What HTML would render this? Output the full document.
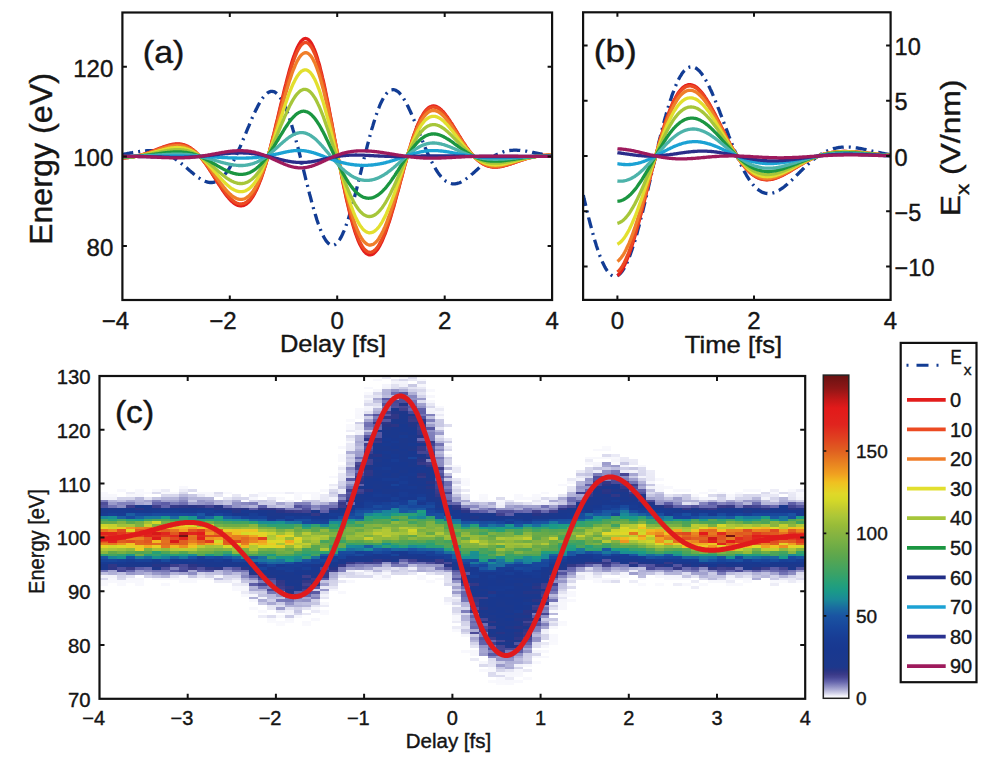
<!DOCTYPE html>
<html><head><meta charset="utf-8"><style>
html,body{margin:0;padding:0;background:#fff;}
svg{display:block;font-family:"Liberation Sans",sans-serif;}
</style></head><body>
<svg width="1004" height="760" viewBox="0 0 1004 760">
<rect width="1004" height="760" fill="#fff"/>
<clipPath id="ca"><rect x="122.4" y="12.5" width="429.7" height="287.5"/></clipPath>
<g clip-path="url(#ca)" fill="none" stroke-width="3.3" stroke-linejoin="round">
<path d="M122.4 154.4L123.1 154.3L123.8 154.2L124.6 154.0L125.3 153.9L126.0 153.8L126.7 153.7L127.4 153.5L128.1 153.4L128.9 153.3L129.6 153.1L130.3 153.0L131.0 152.9L131.7 152.8L132.5 152.6L133.2 152.5L133.9 152.4L134.6 152.3L135.3 152.1L136.0 152.0L136.8 151.9L137.5 151.8L138.2 151.7L138.9 151.6L139.6 151.5L140.3 151.4L141.1 151.3L141.8 151.2L142.5 151.1L143.2 151.0L143.9 151.0L144.6 150.9L145.4 150.8L146.1 150.8L146.8 150.7L147.5 150.7L148.2 150.7L149.0 150.7L149.7 150.7L150.4 150.7L151.1 150.7L151.8 150.7L152.5 150.7L153.3 150.8L154.0 150.8L154.7 150.9L155.4 151.0L156.1 151.1L156.8 151.2L157.6 151.3L158.3 151.4L159.0 151.6L159.7 151.7L160.4 151.9L161.1 152.1L161.9 152.3L162.6 152.5L163.3 152.8L164.0 153.0L164.7 153.3L165.4 153.6L166.2 153.9L166.9 154.2L167.6 154.5L168.3 154.8L169.0 155.2L169.8 155.6L170.5 156.0L171.2 156.4L171.9 156.8L172.6 157.2L173.3 157.6L174.1 158.1L174.8 158.6L175.5 159.1L176.2 159.6L176.9 160.1L177.6 160.6L178.4 161.1L179.1 161.7L179.8 162.2L180.5 162.8L181.2 163.4L181.9 163.9L182.7 164.5L183.4 165.1L184.1 165.7L184.8 166.3L185.5 167.0L186.3 167.6L187.0 168.2L187.7 168.8L188.4 169.4L189.1 170.1L189.8 170.7L190.6 171.3L191.3 171.9L192.0 172.5L192.7 173.1L193.4 173.7L194.1 174.3L194.9 174.9L195.6 175.4L196.3 176.0L197.0 176.5L197.7 177.1L198.4 177.6L199.2 178.1L199.9 178.5L200.6 179.0L201.3 179.4L202.0 179.8L202.8 180.2L203.5 180.6L204.2 180.9L204.9 181.2L205.6 181.5L206.3 181.7L207.1 182.0L207.8 182.1L208.5 182.3L209.2 182.4L209.9 182.5L210.6 182.5L211.4 182.5L212.1 182.5L212.8 182.4L213.5 182.3L214.2 182.1L214.9 181.9L215.7 181.7L216.4 181.4L217.1 181.1L217.8 180.7L218.5 180.3L219.2 179.8L220.0 179.3L220.7 178.7L221.4 178.1L222.1 177.4L222.8 176.7L223.6 176.0L224.3 175.2L225.0 174.3L225.7 173.4L226.4 172.5L227.1 171.5L227.9 170.5L228.6 169.4L229.3 168.3L230.0 167.1L230.7 165.9L231.4 164.7L232.2 163.4L232.9 162.0L233.6 160.7L234.3 159.3L235.0 157.8L235.7 156.4L236.5 154.9L237.2 153.3L237.9 151.8L238.6 150.2L239.3 148.6L240.1 146.9L240.8 145.3L241.5 143.6L242.2 141.9L242.9 140.2L243.6 138.5L244.4 136.8L245.1 135.0L245.8 133.3L246.5 131.5L247.2 129.8L247.9 128.1L248.7 126.3L249.4 124.6L250.1 122.9L250.8 121.2L251.5 119.6L252.2 117.9L253.0 116.3L253.7 114.7L254.4 113.1L255.1 111.6L255.8 110.1L256.6 108.6L257.3 107.2L258.0 105.8L258.7 104.5L259.4 103.2L260.1 102.0L260.9 100.8L261.6 99.7L262.3 98.6L263.0 97.6L263.7 96.7L264.4 95.8L265.2 95.0L265.9 94.3L266.6 93.7L267.3 93.1L268.0 92.6L268.7 92.2L269.5 91.9L270.2 91.6L270.9 91.4L271.6 91.4L272.3 91.4L273.0 91.5L273.8 91.7L274.5 91.9L275.2 92.3L275.9 92.8L276.6 93.3L277.4 93.9L278.1 94.7L278.8 95.5L279.5 96.4L280.2 97.4L280.9 98.5L281.7 99.7L282.4 101.0L283.1 102.4L283.8 103.8L284.5 105.4L285.2 107.0L286.0 108.7L286.7 110.5L287.4 112.4L288.1 114.4L288.8 116.4L289.5 118.5L290.3 120.7L291.0 122.9L291.7 125.2L292.4 127.6L293.1 130.0L293.9 132.5L294.6 135.0L295.3 137.6L296.0 140.3L296.7 143.0L297.4 145.7L298.2 148.4L298.9 151.2L299.6 154.0L300.3 156.9L301.0 159.7L301.7 162.6L302.5 165.5L303.2 168.4L303.9 171.3L304.6 174.2L305.3 177.1L306.0 180.0L306.8 182.9L307.5 185.7L308.2 188.6L308.9 191.4L309.6 194.2L310.4 196.9L311.1 199.6L311.8 202.3L312.5 204.9L313.2 207.4L313.9 210.0L314.7 212.4L315.4 214.8L316.1 217.1L316.8 219.4L317.5 221.5L318.2 223.6L319.0 225.6L319.7 227.6L320.4 229.4L321.1 231.2L321.8 232.9L322.5 234.4L323.3 235.9L324.0 237.3L324.7 238.5L325.4 239.7L326.1 240.8L326.8 241.7L327.6 242.5L328.3 243.3L329.0 243.9L329.7 244.4L330.4 244.8L331.2 245.0L331.9 245.2L332.6 245.3L333.3 245.2L334.0 245.0L334.7 244.7L335.5 244.3L336.2 243.7L336.9 243.1L337.6 242.3L338.3 241.5L339.0 240.5L339.8 239.4L340.5 238.2L341.2 236.9L341.9 235.5L342.6 234.0L343.3 232.4L344.1 230.7L344.8 228.9L345.5 227.1L346.2 225.1L346.9 223.0L347.7 220.9L348.4 218.7L349.1 216.4L349.8 214.1L350.5 211.7L351.2 209.2L352.0 206.6L352.7 204.0L353.4 201.4L354.1 198.7L354.8 196.0L355.5 193.2L356.3 190.4L357.0 187.5L357.7 184.7L358.4 181.8L359.1 178.9L359.8 175.9L360.6 173.0L361.3 170.1L362.0 167.2L362.7 164.2L363.4 161.3L364.1 158.4L364.9 155.5L365.6 152.6L366.3 149.8L367.0 147.0L367.7 144.2L368.5 141.4L369.2 138.7L369.9 136.1L370.6 133.5L371.3 130.9L372.0 128.4L372.8 125.9L373.5 123.5L374.2 121.2L374.9 119.0L375.6 116.8L376.3 114.7L377.1 112.6L377.8 110.6L378.5 108.8L379.2 107.0L379.9 105.2L380.6 103.6L381.4 102.0L382.1 100.6L382.8 99.2L383.5 97.9L384.2 96.7L385.0 95.6L385.7 94.6L386.4 93.7L387.1 92.9L387.8 92.2L388.5 91.5L389.3 91.0L390.0 90.6L390.7 90.2L391.4 89.9L392.1 89.8L392.8 89.7L393.6 89.7L394.3 89.8L395.0 90.0L395.7 90.3L396.4 90.7L397.1 91.1L397.9 91.6L398.6 92.2L399.3 92.9L400.0 93.7L400.7 94.5L401.5 95.4L402.2 96.4L402.9 97.4L403.6 98.5L404.3 99.7L405.0 100.9L405.8 102.2L406.5 103.5L407.2 104.9L407.9 106.3L408.6 107.8L409.3 109.3L410.1 110.9L410.8 112.5L411.5 114.1L412.2 115.7L412.9 117.4L413.6 119.1L414.4 120.9L415.1 122.6L415.8 124.4L416.5 126.1L417.2 127.9L417.9 129.7L418.7 131.5L419.4 133.3L420.1 135.1L420.8 136.9L421.5 138.7L422.3 140.4L423.0 142.2L423.7 143.9L424.4 145.7L425.1 147.4L425.8 149.1L426.6 150.7L427.3 152.4L428.0 154.0L428.7 155.5L429.4 157.1L430.1 158.6L430.9 160.1L431.6 161.5L432.3 162.9L433.0 164.3L433.7 165.6L434.4 166.9L435.2 168.2L435.9 169.4L436.6 170.5L437.3 171.6L438.0 172.7L438.8 173.7L439.5 174.7L440.2 175.6L440.9 176.5L441.6 177.3L442.3 178.0L443.1 178.8L443.8 179.4L444.5 180.1L445.2 180.6L445.9 181.2L446.6 181.6L447.4 182.1L448.1 182.5L448.8 182.8L449.5 183.1L450.2 183.3L450.9 183.5L451.7 183.7L452.4 183.8L453.1 183.9L453.8 183.9L454.5 183.9L455.3 183.8L456.0 183.7L456.7 183.6L457.4 183.4L458.1 183.2L458.8 183.0L459.6 182.7L460.3 182.4L461.0 182.1L461.7 181.7L462.4 181.3L463.1 180.9L463.9 180.5L464.6 180.0L465.3 179.6L466.0 179.0L466.7 178.5L467.4 178.0L468.2 177.4L468.9 176.9L469.6 176.3L470.3 175.7L471.0 175.1L471.7 174.4L472.5 173.8L473.2 173.2L473.9 172.5L474.6 171.9L475.3 171.2L476.1 170.6L476.8 169.9L477.5 169.3L478.2 168.6L478.9 168.0L479.6 167.3L480.4 166.7L481.1 166.0L481.8 165.4L482.5 164.8L483.2 164.1L483.9 163.5L484.7 162.9L485.4 162.3L486.1 161.7L486.8 161.2L487.5 160.6L488.2 160.1L489.0 159.5L489.7 159.0L490.4 158.5L491.1 158.0L491.8 157.5L492.6 157.0L493.3 156.6L494.0 156.1L494.7 155.7L495.4 155.3L496.1 154.9L496.9 154.6L497.6 154.2L498.3 153.9L499.0 153.5L499.7 153.2L500.4 152.9L501.2 152.6L501.9 152.4L502.6 152.1L503.3 151.9L504.0 151.7L504.7 151.5L505.5 151.3L506.2 151.2L506.9 151.0L507.6 150.9L508.3 150.7L509.1 150.6L509.8 150.5L510.5 150.4L511.2 150.4L511.9 150.3L512.6 150.3L513.4 150.2L514.1 150.2L514.8 150.2L515.5 150.2L516.2 150.2L516.9 150.2L517.7 150.3L518.4 150.3L519.1 150.4L519.8 150.4L520.5 150.5L521.2 150.5L522.0 150.6L522.7 150.7L523.4 150.8L524.1 150.9L524.8 151.0L525.5 151.1L526.3 151.2L527.0 151.3L527.7 151.5L528.4 151.6L529.1 151.7L529.9 151.8L530.6 152.0L531.3 152.1L532.0 152.2L532.7 152.4L533.4 152.5L534.2 152.6L534.9 152.8L535.6 152.9L536.3 153.1L537.0 153.2L537.7 153.3L538.5 153.5L539.2 153.6L539.9 153.8L540.6 153.9L541.3 154.0L542.0 154.2L542.8 154.3L543.5 154.4L544.2 154.5L544.9 154.7L545.6 154.8L546.4 154.9L547.1 155.0L547.8 155.1L548.5 155.2L549.2 155.3L549.9 155.5L550.7 155.6L551.4 155.7L552.1 155.7" stroke="#123c94" stroke-width="3.3" stroke-dasharray="11 5 2 5"/>
<path d="M122.4 157.9L123.1 157.9L123.8 157.9L124.6 157.8L125.3 157.8L126.0 157.7L126.7 157.6L127.4 157.6L128.1 157.5L128.9 157.4L129.6 157.3L130.3 157.2L131.0 157.1L131.7 157.0L132.5 156.9L133.2 156.8L133.9 156.7L134.6 156.5L135.3 156.4L136.0 156.2L136.8 156.1L137.5 155.9L138.2 155.8L138.9 155.6L139.6 155.4L140.3 155.2L141.1 155.0L141.8 154.8L142.5 154.6L143.2 154.4L143.9 154.2L144.6 154.0L145.4 153.7L146.1 153.5L146.8 153.2L147.5 153.0L148.2 152.7L149.0 152.5L149.7 152.2L150.4 152.0L151.1 151.7L151.8 151.4L152.5 151.1L153.3 150.9L154.0 150.6L154.7 150.3L155.4 150.0L156.1 149.7L156.8 149.4L157.6 149.2L158.3 148.9L159.0 148.6L159.7 148.3L160.4 148.0L161.1 147.8L161.9 147.5L162.6 147.2L163.3 147.0L164.0 146.7L164.7 146.5L165.4 146.2L166.2 146.0L166.9 145.8L167.6 145.5L168.3 145.3L169.0 145.1L169.8 145.0L170.5 144.8L171.2 144.6L171.9 144.5L172.6 144.4L173.3 144.2L174.1 144.1L174.8 144.1L175.5 144.0L176.2 144.0L176.9 143.9L177.6 143.9L178.4 143.9L179.1 144.0L179.8 144.0L180.5 144.1L181.2 144.2L181.9 144.4L182.7 144.5L183.4 144.7L184.1 144.9L184.8 145.1L185.5 145.4L186.3 145.7L187.0 146.0L187.7 146.3L188.4 146.7L189.1 147.1L189.8 147.5L190.6 148.0L191.3 148.5L192.0 149.0L192.7 149.5L193.4 150.1L194.1 150.7L194.9 151.3L195.6 152.0L196.3 152.7L197.0 153.4L197.7 154.1L198.4 154.9L199.2 155.7L199.9 156.5L200.6 157.3L201.3 158.2L202.0 159.1L202.8 160.0L203.5 161.0L204.2 161.9L204.9 162.9L205.6 163.9L206.3 164.9L207.1 166.0L207.8 167.0L208.5 168.1L209.2 169.2L209.9 170.3L210.6 171.4L211.4 172.5L212.1 173.6L212.8 174.8L213.5 175.9L214.2 177.1L214.9 178.2L215.7 179.4L216.4 180.5L217.1 181.6L217.8 182.8L218.5 183.9L219.2 185.0L220.0 186.1L220.7 187.2L221.4 188.3L222.1 189.4L222.8 190.5L223.6 191.5L224.3 192.5L225.0 193.5L225.7 194.5L226.4 195.4L227.1 196.3L227.9 197.2L228.6 198.0L229.3 198.9L230.0 199.6L230.7 200.4L231.4 201.1L232.2 201.7L232.9 202.4L233.6 202.9L234.3 203.5L235.0 203.9L235.7 204.4L236.5 204.7L237.2 205.1L237.9 205.3L238.6 205.6L239.3 205.7L240.1 205.8L240.8 205.9L241.5 205.8L242.2 205.7L242.9 205.6L243.6 205.4L244.4 205.1L245.1 204.8L245.8 204.4L246.5 203.9L247.2 203.3L247.9 202.7L248.7 202.0L249.4 201.3L250.1 200.4L250.8 199.5L251.5 198.5L252.2 197.5L253.0 196.3L253.7 195.1L254.4 193.9L255.1 192.5L255.8 191.1L256.6 189.6L257.3 188.0L258.0 186.4L258.7 184.7L259.4 182.9L260.1 181.0L260.9 179.1L261.6 177.1L262.3 175.0L263.0 172.9L263.7 170.7L264.4 168.4L265.2 166.1L265.9 163.7L266.6 161.3L267.3 158.8L268.0 156.2L268.7 153.6L269.5 151.0L270.2 148.3L270.9 145.5L271.6 142.7L272.3 139.9L273.0 137.0L273.8 134.1L274.5 131.2L275.2 128.2L275.9 125.2L276.6 122.2L277.4 119.2L278.1 116.2L278.8 113.2L279.5 110.1L280.2 107.1L280.9 104.1L281.7 101.1L282.4 98.1L283.1 95.1L283.8 92.2L284.5 89.2L285.2 86.4L286.0 83.5L286.7 80.7L287.4 78.0L288.1 75.3L288.8 72.6L289.5 70.1L290.3 67.5L291.0 65.1L291.7 62.8L292.4 60.5L293.1 58.3L293.9 56.2L294.6 54.2L295.3 52.3L296.0 50.6L296.7 48.9L297.4 47.3L298.2 45.9L298.9 44.6L299.6 43.4L300.3 42.3L301.0 41.3L301.7 40.5L302.5 39.9L303.2 39.3L303.9 38.9L304.6 38.7L305.3 38.5L306.0 38.6L306.8 38.8L307.5 39.1L308.2 39.5L308.9 40.1L309.6 40.9L310.4 41.8L311.1 42.9L311.8 44.0L312.5 45.4L313.2 46.8L313.9 48.5L314.7 50.2L315.4 52.1L316.1 54.1L316.8 56.2L317.5 58.5L318.2 60.9L319.0 63.4L319.7 66.0L320.4 68.8L321.1 71.6L321.8 74.5L322.5 77.6L323.3 80.7L324.0 83.9L324.7 87.2L325.4 90.6L326.1 94.1L326.8 97.6L327.6 101.2L328.3 104.8L329.0 108.5L329.7 112.2L330.4 116.0L331.2 119.8L331.9 123.6L332.6 127.5L333.3 131.3L334.0 135.2L334.7 139.1L335.5 143.0L336.2 146.9L336.9 150.7L337.6 154.6L338.3 158.4L339.0 162.2L339.8 166.0L340.5 169.7L341.2 173.4L341.9 177.1L342.6 180.7L343.3 184.3L344.1 187.8L344.8 191.2L345.5 194.6L346.2 197.9L346.9 201.1L347.7 204.3L348.4 207.3L349.1 210.3L349.8 213.3L350.5 216.1L351.2 218.8L352.0 221.5L352.7 224.1L353.4 226.5L354.1 228.9L354.8 231.2L355.5 233.3L356.3 235.4L357.0 237.4L357.7 239.3L358.4 241.0L359.1 242.7L359.8 244.2L360.6 245.7L361.3 247.0L362.0 248.3L362.7 249.4L363.4 250.4L364.1 251.3L364.9 252.2L365.6 252.9L366.3 253.5L367.0 253.9L367.7 254.3L368.5 254.6L369.2 254.8L369.9 254.8L370.6 254.8L371.3 254.7L372.0 254.4L372.8 254.1L373.5 253.7L374.2 253.1L374.9 252.5L375.6 251.7L376.3 250.9L377.1 250.0L377.8 249.0L378.5 247.9L379.2 246.7L379.9 245.4L380.6 244.0L381.4 242.5L382.1 241.0L382.8 239.4L383.5 237.7L384.2 235.9L385.0 234.1L385.7 232.2L386.4 230.2L387.1 228.1L387.8 226.0L388.5 223.8L389.3 221.6L390.0 219.3L390.7 217.0L391.4 214.6L392.1 212.1L392.8 209.7L393.6 207.2L394.3 204.6L395.0 202.0L395.7 199.4L396.4 196.8L397.1 194.1L397.9 191.5L398.6 188.8L399.3 186.1L400.0 183.4L400.7 180.7L401.5 178.0L402.2 175.3L402.9 172.6L403.6 169.9L404.3 167.3L405.0 164.6L405.8 162.0L406.5 159.4L407.2 156.9L407.9 154.3L408.6 151.9L409.3 149.4L410.1 147.0L410.8 144.7L411.5 142.3L412.2 140.1L412.9 137.9L413.6 135.8L414.4 133.7L415.1 131.7L415.8 129.7L416.5 127.9L417.2 126.0L417.9 124.3L418.7 122.6L419.4 121.1L420.1 119.5L420.8 118.1L421.5 116.8L422.3 115.5L423.0 114.3L423.7 113.2L424.4 112.1L425.1 111.2L425.8 110.3L426.6 109.5L427.3 108.8L428.0 108.2L428.7 107.6L429.4 107.2L430.1 106.8L430.9 106.5L431.6 106.2L432.3 106.1L433.0 106.0L433.7 106.0L434.4 106.0L435.2 106.2L435.9 106.4L436.6 106.6L437.3 107.0L438.0 107.4L438.8 107.8L439.5 108.3L440.2 108.9L440.9 109.5L441.6 110.2L442.3 110.9L443.1 111.6L443.8 112.4L444.5 113.3L445.2 114.2L445.9 115.1L446.6 116.1L447.4 117.0L448.1 118.1L448.8 119.1L449.5 120.2L450.2 121.3L450.9 122.4L451.7 123.5L452.4 124.6L453.1 125.8L453.8 127.0L454.5 128.1L455.3 129.3L456.0 130.5L456.7 131.7L457.4 132.9L458.1 134.0L458.8 135.2L459.6 136.4L460.3 137.5L461.0 138.7L461.7 139.8L462.4 141.0L463.1 142.1L463.9 143.2L464.6 144.3L465.3 145.3L466.0 146.4L466.7 147.4L467.4 148.4L468.2 149.4L468.9 150.4L469.6 151.3L470.3 152.2L471.0 153.1L471.7 154.0L472.5 154.8L473.2 155.6L473.9 156.4L474.6 157.2L475.3 157.9L476.1 158.6L476.8 159.3L477.5 159.9L478.2 160.5L478.9 161.1L479.6 161.7L480.4 162.2L481.1 162.7L481.8 163.2L482.5 163.6L483.2 164.0L483.9 164.4L484.7 164.7L485.4 165.1L486.1 165.4L486.8 165.7L487.5 165.9L488.2 166.1L489.0 166.3L489.7 166.5L490.4 166.7L491.1 166.8L491.8 166.9L492.6 167.0L493.3 167.0L494.0 167.1L494.7 167.1L495.4 167.1L496.1 167.1L496.9 167.1L497.6 167.0L498.3 166.9L499.0 166.9L499.7 166.8L500.4 166.7L501.2 166.5L501.9 166.4L502.6 166.2L503.3 166.1L504.0 165.9L504.7 165.7L505.5 165.5L506.2 165.3L506.9 165.1L507.6 164.9L508.3 164.7L509.1 164.5L509.8 164.2L510.5 164.0L511.2 163.8L511.9 163.5L512.6 163.3L513.4 163.0L514.1 162.8L514.8 162.5L515.5 162.3L516.2 162.0L516.9 161.8L517.7 161.5L518.4 161.3L519.1 161.0L519.8 160.8L520.5 160.5L521.2 160.3L522.0 160.0L522.7 159.8L523.4 159.6L524.1 159.4L524.8 159.1L525.5 158.9L526.3 158.7L527.0 158.5L527.7 158.3L528.4 158.1L529.1 157.9L529.9 157.7L530.6 157.6L531.3 157.4L532.0 157.2L532.7 157.1L533.4 156.9L534.2 156.8L534.9 156.6L535.6 156.5L536.3 156.4L537.0 156.3L537.7 156.2L538.5 156.0L539.2 155.9L539.9 155.8L540.6 155.8L541.3 155.7L542.0 155.6L542.8 155.5L543.5 155.5L544.2 155.4L544.9 155.3L545.6 155.3L546.4 155.2L547.1 155.2L547.8 155.2L548.5 155.1L549.2 155.1L549.9 155.1L550.7 155.1L551.4 155.1L552.1 155.0" stroke="#e31d1c"/>
<path d="M122.4 157.9L123.1 157.8L123.8 157.8L124.6 157.8L125.3 157.7L126.0 157.7L126.7 157.6L127.4 157.5L128.1 157.5L128.9 157.4L129.6 157.3L130.3 157.2L131.0 157.1L131.7 157.0L132.5 156.9L133.2 156.8L133.9 156.7L134.6 156.5L135.3 156.4L136.0 156.3L136.8 156.1L137.5 155.9L138.2 155.8L138.9 155.6L139.6 155.4L140.3 155.3L141.1 155.1L141.8 154.9L142.5 154.7L143.2 154.5L143.9 154.3L144.6 154.0L145.4 153.8L146.1 153.6L146.8 153.4L147.5 153.1L148.2 152.9L149.0 152.6L149.7 152.4L150.4 152.1L151.1 151.9L151.8 151.6L152.5 151.3L153.3 151.1L154.0 150.8L154.7 150.5L155.4 150.3L156.1 150.0L156.8 149.7L157.6 149.4L158.3 149.2L159.0 148.9L159.7 148.6L160.4 148.4L161.1 148.1L161.9 147.8L162.6 147.6L163.3 147.3L164.0 147.1L164.7 146.8L165.4 146.6L166.2 146.4L166.9 146.2L167.6 146.0L168.3 145.8L169.0 145.6L169.8 145.4L170.5 145.2L171.2 145.1L171.9 144.9L172.6 144.8L173.3 144.7L174.1 144.6L174.8 144.5L175.5 144.5L176.2 144.4L176.9 144.4L177.6 144.4L178.4 144.4L179.1 144.5L179.8 144.5L180.5 144.6L181.2 144.7L181.9 144.8L182.7 145.0L183.4 145.2L184.1 145.4L184.8 145.6L185.5 145.8L186.3 146.1L187.0 146.4L187.7 146.7L188.4 147.1L189.1 147.5L189.8 147.9L190.6 148.3L191.3 148.8L192.0 149.3L192.7 149.8L193.4 150.3L194.1 150.9L194.9 151.5L195.6 152.1L196.3 152.8L197.0 153.5L197.7 154.2L198.4 154.9L199.2 155.7L199.9 156.5L200.6 157.3L201.3 158.1L202.0 159.0L202.8 159.9L203.5 160.8L204.2 161.7L204.9 162.7L205.6 163.6L206.3 164.6L207.1 165.6L207.8 166.6L208.5 167.6L209.2 168.7L209.9 169.7L210.6 170.8L211.4 171.9L212.1 173.0L212.8 174.1L213.5 175.2L214.2 176.3L214.9 177.4L215.7 178.5L216.4 179.6L217.1 180.7L217.8 181.8L218.5 182.8L219.2 183.9L220.0 185.0L220.7 186.1L221.4 187.1L222.1 188.1L222.8 189.1L223.6 190.1L224.3 191.1L225.0 192.1L225.7 193.0L226.4 193.9L227.1 194.8L227.9 195.6L228.6 196.4L229.3 197.2L230.0 198.0L230.7 198.7L231.4 199.4L232.2 200.0L232.9 200.6L233.6 201.1L234.3 201.7L235.0 202.1L235.7 202.5L236.5 202.9L237.2 203.2L237.9 203.5L238.6 203.7L239.3 203.8L240.1 203.9L240.8 204.0L241.5 203.9L242.2 203.9L242.9 203.7L243.6 203.5L244.4 203.3L245.1 202.9L245.8 202.5L246.5 202.1L247.2 201.5L247.9 200.9L248.7 200.3L249.4 199.6L250.1 198.8L250.8 197.9L251.5 196.9L252.2 195.9L253.0 194.8L253.7 193.7L254.4 192.5L255.1 191.2L255.8 189.8L256.6 188.4L257.3 186.8L258.0 185.3L258.7 183.6L259.4 181.9L260.1 180.1L260.9 178.2L261.6 176.3L262.3 174.3L263.0 172.3L263.7 170.2L264.4 168.0L265.2 165.8L265.9 163.5L266.6 161.1L267.3 158.7L268.0 156.2L268.7 153.7L269.5 151.2L270.2 148.6L270.9 145.9L271.6 143.2L272.3 140.5L273.0 137.7L273.8 134.9L274.5 132.1L275.2 129.3L275.9 126.4L276.6 123.5L277.4 120.6L278.1 117.7L278.8 114.8L279.5 111.8L280.2 108.9L280.9 106.0L281.7 103.1L282.4 100.2L283.1 97.3L283.8 94.5L284.5 91.7L285.2 88.9L286.0 86.1L286.7 83.4L287.4 80.8L288.1 78.2L288.8 75.6L289.5 73.1L290.3 70.7L291.0 68.4L291.7 66.1L292.4 63.9L293.1 61.8L293.9 59.8L294.6 57.8L295.3 56.0L296.0 54.3L296.7 52.7L297.4 51.1L298.2 49.7L298.9 48.5L299.6 47.3L300.3 46.2L301.0 45.3L301.7 44.5L302.5 43.9L303.2 43.3L303.9 42.9L304.6 42.7L305.3 42.6L306.0 42.6L306.8 42.7L307.5 43.0L308.2 43.5L308.9 44.1L309.6 44.8L310.4 45.7L311.1 46.7L311.8 47.8L312.5 49.1L313.2 50.5L313.9 52.0L314.7 53.7L315.4 55.5L316.1 57.5L316.8 59.5L317.5 61.7L318.2 64.0L319.0 66.4L319.7 69.0L320.4 71.6L321.1 74.3L321.8 77.2L322.5 80.1L323.3 83.1L324.0 86.2L324.7 89.4L325.4 92.7L326.1 96.0L326.8 99.4L327.6 102.9L328.3 106.4L329.0 110.0L329.7 113.6L330.4 117.2L331.2 120.9L331.9 124.6L332.6 128.3L333.3 132.1L334.0 135.9L334.7 139.6L335.5 143.4L336.2 147.1L336.9 150.9L337.6 154.6L338.3 158.4L339.0 162.0L339.8 165.7L340.5 169.3L341.2 172.9L341.9 176.5L342.6 180.0L343.3 183.4L344.1 186.8L344.8 190.2L345.5 193.5L346.2 196.7L346.9 199.8L347.7 202.9L348.4 205.9L349.1 208.8L349.8 211.7L350.5 214.4L351.2 217.1L352.0 219.7L352.7 222.2L353.4 224.6L354.1 226.9L354.8 229.1L355.5 231.2L356.3 233.2L357.0 235.2L357.7 237.0L358.4 238.7L359.1 240.3L359.8 241.9L360.6 243.3L361.3 244.6L362.0 245.8L362.7 246.9L363.4 247.9L364.1 248.8L364.9 249.6L365.6 250.3L366.3 250.9L367.0 251.4L367.7 251.8L368.5 252.1L369.2 252.2L369.9 252.3L370.6 252.3L371.3 252.2L372.0 251.9L372.8 251.6L373.5 251.2L374.2 250.7L374.9 250.0L375.6 249.3L376.3 248.5L377.1 247.6L377.8 246.7L378.5 245.6L379.2 244.4L379.9 243.2L380.6 241.8L381.4 240.4L382.1 238.9L382.8 237.4L383.5 235.7L384.2 234.0L385.0 232.2L385.7 230.3L386.4 228.4L387.1 226.4L387.8 224.3L388.5 222.2L389.3 220.0L390.0 217.8L390.7 215.5L391.4 213.2L392.1 210.8L392.8 208.4L393.6 206.0L394.3 203.5L395.0 201.0L395.7 198.4L396.4 195.8L397.1 193.3L397.9 190.6L398.6 188.0L399.3 185.4L400.0 182.8L400.7 180.1L401.5 177.5L402.2 174.8L402.9 172.2L403.6 169.6L404.3 167.0L405.0 164.4L405.8 161.9L406.5 159.3L407.2 156.9L407.9 154.4L408.6 152.0L409.3 149.6L410.1 147.2L410.8 144.9L411.5 142.7L412.2 140.5L412.9 138.3L413.6 136.2L414.4 134.2L415.1 132.2L415.8 130.3L416.5 128.5L417.2 126.7L417.9 125.0L418.7 123.4L419.4 121.8L420.1 120.4L420.8 119.0L421.5 117.6L422.3 116.4L423.0 115.2L423.7 114.1L424.4 113.1L425.1 112.2L425.8 111.3L426.6 110.6L427.3 109.9L428.0 109.3L428.7 108.7L429.4 108.3L430.1 107.9L430.9 107.6L431.6 107.3L432.3 107.2L433.0 107.1L433.7 107.1L434.4 107.1L435.2 107.3L435.9 107.5L436.6 107.7L437.3 108.0L438.0 108.4L438.8 108.9L439.5 109.4L440.2 109.9L440.9 110.5L441.6 111.2L442.3 111.9L443.1 112.6L443.8 113.4L444.5 114.2L445.2 115.1L445.9 116.0L446.6 116.9L447.4 117.9L448.1 118.9L448.8 119.9L449.5 121.0L450.2 122.0L450.9 123.1L451.7 124.2L452.4 125.3L453.1 126.4L453.8 127.6L454.5 128.7L455.3 129.9L456.0 131.0L456.7 132.2L457.4 133.4L458.1 134.5L458.8 135.7L459.6 136.8L460.3 137.9L461.0 139.1L461.7 140.2L462.4 141.3L463.1 142.4L463.9 143.5L464.6 144.5L465.3 145.6L466.0 146.6L466.7 147.6L467.4 148.6L468.2 149.6L468.9 150.5L469.6 151.4L470.3 152.3L471.0 153.2L471.7 154.0L472.5 154.9L473.2 155.6L473.9 156.4L474.6 157.2L475.3 157.9L476.1 158.5L476.8 159.2L477.5 159.8L478.2 160.4L478.9 161.0L479.6 161.5L480.4 162.1L481.1 162.5L481.8 163.0L482.5 163.4L483.2 163.8L483.9 164.2L484.7 164.6L485.4 164.9L486.1 165.2L486.8 165.5L487.5 165.7L488.2 165.9L489.0 166.1L489.7 166.3L490.4 166.4L491.1 166.6L491.8 166.7L492.6 166.8L493.3 166.8L494.0 166.9L494.7 166.9L495.4 166.9L496.1 166.9L496.9 166.8L497.6 166.8L498.3 166.7L499.0 166.6L499.7 166.5L500.4 166.4L501.2 166.3L501.9 166.2L502.6 166.0L503.3 165.9L504.0 165.7L504.7 165.5L505.5 165.3L506.2 165.1L506.9 164.9L507.6 164.7L508.3 164.5L509.1 164.3L509.8 164.1L510.5 163.8L511.2 163.6L511.9 163.4L512.6 163.1L513.4 162.9L514.1 162.6L514.8 162.4L515.5 162.1L516.2 161.9L516.9 161.6L517.7 161.4L518.4 161.2L519.1 160.9L519.8 160.7L520.5 160.4L521.2 160.2L522.0 160.0L522.7 159.7L523.4 159.5L524.1 159.3L524.8 159.1L525.5 158.9L526.3 158.7L527.0 158.5L527.7 158.3L528.4 158.1L529.1 157.9L529.9 157.7L530.6 157.5L531.3 157.4L532.0 157.2L532.7 157.1L533.4 156.9L534.2 156.8L534.9 156.6L535.6 156.5L536.3 156.4L537.0 156.3L537.7 156.2L538.5 156.1L539.2 156.0L539.9 155.9L540.6 155.8L541.3 155.7L542.0 155.6L542.8 155.5L543.5 155.5L544.2 155.4L544.9 155.4L545.6 155.3L546.4 155.3L547.1 155.2L547.8 155.2L548.5 155.2L549.2 155.1L549.9 155.1L550.7 155.1L551.4 155.1L552.1 155.1" stroke="#ec4a22"/>
<path d="M122.4 157.7L123.1 157.7L123.8 157.7L124.6 157.6L125.3 157.6L126.0 157.5L126.7 157.5L127.4 157.4L128.1 157.4L128.9 157.3L129.6 157.2L130.3 157.1L131.0 157.0L131.7 156.9L132.5 156.8L133.2 156.7L133.9 156.6L134.6 156.5L135.3 156.4L136.0 156.3L136.8 156.1L137.5 156.0L138.2 155.8L138.9 155.7L139.6 155.5L140.3 155.4L141.1 155.2L141.8 155.0L142.5 154.9L143.2 154.7L143.9 154.5L144.6 154.3L145.4 154.1L146.1 153.9L146.8 153.7L147.5 153.4L148.2 153.2L149.0 153.0L149.7 152.8L150.4 152.5L151.1 152.3L151.8 152.1L152.5 151.8L153.3 151.6L154.0 151.3L154.7 151.1L155.4 150.9L156.1 150.6L156.8 150.4L157.6 150.1L158.3 149.9L159.0 149.6L159.7 149.4L160.4 149.1L161.1 148.9L161.9 148.7L162.6 148.4L163.3 148.2L164.0 148.0L164.7 147.8L165.4 147.6L166.2 147.4L166.9 147.2L167.6 147.0L168.3 146.8L169.0 146.6L169.8 146.5L170.5 146.3L171.2 146.2L171.9 146.1L172.6 145.9L173.3 145.8L174.1 145.8L174.8 145.7L175.5 145.6L176.2 145.6L176.9 145.6L177.6 145.6L178.4 145.6L179.1 145.6L179.8 145.7L180.5 145.7L181.2 145.8L181.9 146.0L182.7 146.1L183.4 146.2L184.1 146.4L184.8 146.6L185.5 146.8L186.3 147.1L187.0 147.4L187.7 147.7L188.4 148.0L189.1 148.3L189.8 148.7L190.6 149.1L191.3 149.5L192.0 150.0L192.7 150.4L193.4 150.9L194.1 151.4L194.9 152.0L195.6 152.6L196.3 153.1L197.0 153.8L197.7 154.4L198.4 155.1L199.2 155.8L199.9 156.5L200.6 157.2L201.3 158.0L202.0 158.7L202.8 159.5L203.5 160.4L204.2 161.2L204.9 162.0L205.6 162.9L206.3 163.8L207.1 164.7L207.8 165.6L208.5 166.6L209.2 167.5L209.9 168.5L210.6 169.4L211.4 170.4L212.1 171.4L212.8 172.4L213.5 173.3L214.2 174.3L214.9 175.3L215.7 176.3L216.4 177.3L217.1 178.3L217.8 179.3L218.5 180.3L219.2 181.3L220.0 182.2L220.7 183.2L221.4 184.1L222.1 185.1L222.8 186.0L223.6 186.9L224.3 187.8L225.0 188.6L225.7 189.5L226.4 190.3L227.1 191.1L227.9 191.9L228.6 192.6L229.3 193.3L230.0 194.0L230.7 194.6L231.4 195.2L232.2 195.8L232.9 196.3L233.6 196.8L234.3 197.3L235.0 197.7L235.7 198.1L236.5 198.4L237.2 198.7L237.9 199.0L238.6 199.1L239.3 199.3L240.1 199.4L240.8 199.4L241.5 199.4L242.2 199.3L242.9 199.2L243.6 199.0L244.4 198.8L245.1 198.5L245.8 198.1L246.5 197.7L247.2 197.2L247.9 196.7L248.7 196.1L249.4 195.4L250.1 194.7L250.8 193.9L251.5 193.1L252.2 192.2L253.0 191.2L253.7 190.1L254.4 189.0L255.1 187.9L255.8 186.6L256.6 185.3L257.3 183.9L258.0 182.5L258.7 181.0L259.4 179.5L260.1 177.9L260.9 176.2L261.6 174.4L262.3 172.6L263.0 170.8L263.7 168.9L264.4 166.9L265.2 164.9L265.9 162.8L266.6 160.7L267.3 158.5L268.0 156.3L268.7 154.0L269.5 151.7L270.2 149.3L270.9 146.9L271.6 144.5L272.3 142.0L273.0 139.5L273.8 136.9L274.5 134.4L275.2 131.8L275.9 129.2L276.6 126.6L277.4 123.9L278.1 121.3L278.8 118.6L279.5 116.0L280.2 113.3L280.9 110.7L281.7 108.0L282.4 105.4L283.1 102.8L283.8 100.2L284.5 97.6L285.2 95.1L286.0 92.6L286.7 90.2L287.4 87.7L288.1 85.4L288.8 83.0L289.5 80.8L290.3 78.6L291.0 76.4L291.7 74.3L292.4 72.3L293.1 70.4L293.9 68.6L294.6 66.8L295.3 65.1L296.0 63.6L296.7 62.1L297.4 60.7L298.2 59.4L298.9 58.2L299.6 57.1L300.3 56.2L301.0 55.3L301.7 54.6L302.5 54.0L303.2 53.5L303.9 53.1L304.6 52.9L305.3 52.7L306.0 52.7L306.8 52.9L307.5 53.1L308.2 53.5L308.9 54.0L309.6 54.7L310.4 55.4L311.1 56.3L311.8 57.4L312.5 58.5L313.2 59.8L313.9 61.2L314.7 62.7L315.4 64.3L316.1 66.1L316.8 68.0L317.5 69.9L318.2 72.0L319.0 74.2L319.7 76.5L320.4 78.9L321.1 81.4L321.8 84.0L322.5 86.7L323.3 89.4L324.0 92.2L324.7 95.1L325.4 98.1L326.1 101.2L326.8 104.3L327.6 107.4L328.3 110.6L329.0 113.9L329.7 117.2L330.4 120.5L331.2 123.9L331.9 127.3L332.6 130.7L333.3 134.1L334.0 137.6L334.7 141.0L335.5 144.5L336.2 147.9L336.9 151.3L337.6 154.8L338.3 158.2L339.0 161.6L339.8 164.9L340.5 168.3L341.2 171.6L341.9 174.9L342.6 178.1L343.3 181.3L344.1 184.4L344.8 187.5L345.5 190.5L346.2 193.4L346.9 196.3L347.7 199.2L348.4 201.9L349.1 204.6L349.8 207.3L350.5 209.8L351.2 212.3L352.0 214.7L352.7 217.0L353.4 219.2L354.1 221.3L354.8 223.4L355.5 225.4L356.3 227.2L357.0 229.0L357.7 230.7L358.4 232.3L359.1 233.8L359.8 235.2L360.6 236.6L361.3 237.8L362.0 238.9L362.7 240.0L363.4 240.9L364.1 241.7L364.9 242.5L365.6 243.1L366.3 243.7L367.0 244.2L367.7 244.5L368.5 244.8L369.2 245.0L369.9 245.1L370.6 245.0L371.3 244.9L372.0 244.7L372.8 244.5L373.5 244.1L374.2 243.6L374.9 243.0L375.6 242.4L376.3 241.7L377.1 240.8L377.8 239.9L378.5 239.0L379.2 237.9L379.9 236.7L380.6 235.5L381.4 234.2L382.1 232.8L382.8 231.4L383.5 229.9L384.2 228.3L385.0 226.6L385.7 224.9L386.4 223.1L387.1 221.3L387.8 219.4L388.5 217.4L389.3 215.4L390.0 213.3L390.7 211.2L391.4 209.1L392.1 206.9L392.8 204.6L393.6 202.4L394.3 200.1L395.0 197.7L395.7 195.4L396.4 193.0L397.1 190.6L397.9 188.2L398.6 185.8L399.3 183.3L400.0 180.9L400.7 178.4L401.5 176.0L402.2 173.5L402.9 171.1L403.6 168.7L404.3 166.3L405.0 163.9L405.8 161.5L406.5 159.1L407.2 156.8L407.9 154.5L408.6 152.3L409.3 150.0L410.1 147.9L410.8 145.7L411.5 143.6L412.2 141.6L412.9 139.6L413.6 137.6L414.4 135.8L415.1 133.9L415.8 132.2L416.5 130.5L417.2 128.8L417.9 127.2L418.7 125.7L419.4 124.3L420.1 122.9L420.8 121.6L421.5 120.3L422.3 119.2L423.0 118.1L423.7 117.1L424.4 116.1L425.1 115.3L425.8 114.5L426.6 113.8L427.3 113.1L428.0 112.5L428.7 112.0L429.4 111.6L430.1 111.2L430.9 111.0L431.6 110.7L432.3 110.6L433.0 110.5L433.7 110.5L434.4 110.6L435.2 110.7L435.9 110.9L436.6 111.1L437.3 111.4L438.0 111.7L438.8 112.1L439.5 112.6L440.2 113.1L440.9 113.7L441.6 114.3L442.3 114.9L443.1 115.6L443.8 116.4L444.5 117.1L445.2 117.9L445.9 118.8L446.6 119.6L447.4 120.5L448.1 121.5L448.8 122.4L449.5 123.4L450.2 124.4L450.9 125.4L451.7 126.4L452.4 127.5L453.1 128.5L453.8 129.6L454.5 130.6L455.3 131.7L456.0 132.8L456.7 133.9L457.4 134.9L458.1 136.0L458.8 137.1L459.6 138.2L460.3 139.2L461.0 140.3L461.7 141.3L462.4 142.3L463.1 143.4L463.9 144.4L464.6 145.3L465.3 146.3L466.0 147.3L466.7 148.2L467.4 149.1L468.2 150.0L468.9 150.9L469.6 151.8L470.3 152.6L471.0 153.4L471.7 154.2L472.5 155.0L473.2 155.7L473.9 156.4L474.6 157.1L475.3 157.8L476.1 158.4L476.8 159.0L477.5 159.6L478.2 160.2L478.9 160.7L479.6 161.2L480.4 161.7L481.1 162.1L481.8 162.6L482.5 163.0L483.2 163.3L483.9 163.7L484.7 164.0L485.4 164.3L486.1 164.6L486.8 164.8L487.5 165.1L488.2 165.3L489.0 165.5L489.7 165.6L490.4 165.8L491.1 165.9L491.8 166.0L492.6 166.1L493.3 166.1L494.0 166.1L494.7 166.2L495.4 166.2L496.1 166.2L496.9 166.1L497.6 166.1L498.3 166.0L499.0 165.9L499.7 165.9L500.4 165.8L501.2 165.6L501.9 165.5L502.6 165.4L503.3 165.2L504.0 165.1L504.7 164.9L505.5 164.7L506.2 164.5L506.9 164.4L507.6 164.2L508.3 164.0L509.1 163.8L509.8 163.5L510.5 163.3L511.2 163.1L511.9 162.9L512.6 162.7L513.4 162.4L514.1 162.2L514.8 162.0L515.5 161.7L516.2 161.5L516.9 161.3L517.7 161.1L518.4 160.8L519.1 160.6L519.8 160.4L520.5 160.2L521.2 159.9L522.0 159.7L522.7 159.5L523.4 159.3L524.1 159.1L524.8 158.9L525.5 158.7L526.3 158.5L527.0 158.3L527.7 158.1L528.4 158.0L529.1 157.8L529.9 157.6L530.6 157.5L531.3 157.3L532.0 157.2L532.7 157.0L533.4 156.9L534.2 156.7L534.9 156.6L535.6 156.5L536.3 156.4L537.0 156.3L537.7 156.2L538.5 156.1L539.2 156.0L539.9 155.9L540.6 155.8L541.3 155.7L542.0 155.7L542.8 155.6L543.5 155.5L544.2 155.5L544.9 155.4L545.6 155.4L546.4 155.3L547.1 155.3L547.8 155.3L548.5 155.2L549.2 155.2L549.9 155.2L550.7 155.2L551.4 155.2L552.1 155.2" stroke="#f07e2a"/>
<path d="M122.4 157.5L123.1 157.5L123.8 157.4L124.6 157.4L125.3 157.4L126.0 157.3L126.7 157.3L127.4 157.2L128.1 157.2L128.9 157.1L129.6 157.1L130.3 157.0L131.0 156.9L131.7 156.8L132.5 156.8L133.2 156.7L133.9 156.6L134.6 156.5L135.3 156.4L136.0 156.3L136.8 156.2L137.5 156.1L138.2 155.9L138.9 155.8L139.6 155.7L140.3 155.6L141.1 155.4L141.8 155.3L142.5 155.1L143.2 155.0L143.9 154.8L144.6 154.7L145.4 154.5L146.1 154.3L146.8 154.2L147.5 154.0L148.2 153.8L149.0 153.6L149.7 153.4L150.4 153.2L151.1 153.1L151.8 152.9L152.5 152.7L153.3 152.5L154.0 152.3L154.7 152.1L155.4 151.9L156.1 151.7L156.8 151.5L157.6 151.3L158.3 151.1L159.0 150.9L159.7 150.7L160.4 150.5L161.1 150.3L161.9 150.1L162.6 149.9L163.3 149.7L164.0 149.5L164.7 149.3L165.4 149.2L166.2 149.0L166.9 148.8L167.6 148.7L168.3 148.5L169.0 148.4L169.8 148.3L170.5 148.1L171.2 148.0L171.9 147.9L172.6 147.8L173.3 147.8L174.1 147.7L174.8 147.6L175.5 147.6L176.2 147.6L176.9 147.5L177.6 147.5L178.4 147.6L179.1 147.6L179.8 147.6L180.5 147.7L181.2 147.8L181.9 147.8L182.7 148.0L183.4 148.1L184.1 148.2L184.8 148.4L185.5 148.6L186.3 148.8L187.0 149.0L187.7 149.2L188.4 149.5L189.1 149.8L189.8 150.1L190.6 150.4L191.3 150.8L192.0 151.1L192.7 151.5L193.4 151.9L194.1 152.3L194.9 152.8L195.6 153.2L196.3 153.7L197.0 154.2L197.7 154.8L198.4 155.3L199.2 155.9L199.9 156.5L200.6 157.1L201.3 157.7L202.0 158.3L202.8 159.0L203.5 159.6L204.2 160.3L204.9 161.0L205.6 161.7L206.3 162.5L207.1 163.2L207.8 164.0L208.5 164.7L209.2 165.5L209.9 166.3L210.6 167.1L211.4 167.9L212.1 168.7L212.8 169.5L213.5 170.3L214.2 171.1L214.9 171.9L215.7 172.7L216.4 173.6L217.1 174.4L217.8 175.2L218.5 176.0L219.2 176.8L220.0 177.6L220.7 178.4L221.4 179.2L222.1 179.9L222.8 180.7L223.6 181.4L224.3 182.1L225.0 182.9L225.7 183.5L226.4 184.2L227.1 184.9L227.9 185.5L228.6 186.1L229.3 186.7L230.0 187.3L230.7 187.8L231.4 188.3L232.2 188.8L232.9 189.2L233.6 189.6L234.3 190.0L235.0 190.3L235.7 190.6L236.5 190.9L237.2 191.2L237.9 191.3L238.6 191.5L239.3 191.6L240.1 191.7L240.8 191.7L241.5 191.7L242.2 191.7L242.9 191.5L243.6 191.4L244.4 191.2L245.1 191.0L245.8 190.7L246.5 190.3L247.2 189.9L247.9 189.5L248.7 189.0L249.4 188.4L250.1 187.8L250.8 187.2L251.5 186.5L252.2 185.7L253.0 184.9L253.7 184.0L254.4 183.1L255.1 182.1L255.8 181.1L256.6 180.0L257.3 178.9L258.0 177.7L258.7 176.5L259.4 175.2L260.1 173.8L260.9 172.4L261.6 171.0L262.3 169.5L263.0 167.9L263.7 166.3L264.4 164.7L265.2 163.0L265.9 161.2L266.6 159.5L267.3 157.6L268.0 155.8L268.7 153.9L269.5 151.9L270.2 149.9L270.9 147.9L271.6 145.9L272.3 143.8L273.0 141.7L273.8 139.6L274.5 137.4L275.2 135.3L275.9 133.1L276.6 130.9L277.4 128.7L278.1 126.5L278.8 124.2L279.5 122.0L280.2 119.8L280.9 117.6L281.7 115.4L282.4 113.2L283.1 111.0L283.8 108.8L284.5 106.7L285.2 104.5L286.0 102.4L286.7 100.4L287.4 98.4L288.1 96.4L288.8 94.4L289.5 92.5L290.3 90.7L291.0 88.9L291.7 87.2L292.4 85.5L293.1 83.9L293.9 82.4L294.6 81.0L295.3 79.6L296.0 78.3L296.7 77.1L297.4 76.0L298.2 74.9L298.9 74.0L299.6 73.1L300.3 72.3L301.0 71.7L301.7 71.1L302.5 70.7L303.2 70.3L303.9 70.1L304.6 69.9L305.3 69.9L306.0 69.9L306.8 70.1L307.5 70.4L308.2 70.8L308.9 71.3L309.6 71.9L310.4 72.7L311.1 73.5L311.8 74.4L312.5 75.5L313.2 76.6L313.9 77.9L314.7 79.2L315.4 80.7L316.1 82.3L316.8 83.9L317.5 85.7L318.2 87.5L319.0 89.4L319.7 91.4L320.4 93.5L321.1 95.7L321.8 97.9L322.5 100.2L323.3 102.6L324.0 105.1L324.7 107.6L325.4 110.1L326.1 112.7L326.8 115.4L327.6 118.1L328.3 120.8L329.0 123.6L329.7 126.4L330.4 129.3L331.2 132.1L331.9 135.0L332.6 137.9L333.3 140.8L334.0 143.7L334.7 146.6L335.5 149.6L336.2 152.5L336.9 155.4L337.6 158.2L338.3 161.1L339.0 163.9L339.8 166.8L340.5 169.6L341.2 172.3L341.9 175.1L342.6 177.7L343.3 180.4L344.1 183.0L344.8 185.6L345.5 188.1L346.2 190.5L346.9 193.0L347.7 195.3L348.4 197.6L349.1 199.8L349.8 202.0L350.5 204.1L351.2 206.1L352.0 208.1L352.7 210.0L353.4 211.9L354.1 213.6L354.8 215.3L355.5 216.9L356.3 218.5L357.0 219.9L357.7 221.3L358.4 222.6L359.1 223.9L359.8 225.0L360.6 226.1L361.3 227.1L362.0 228.0L362.7 228.8L363.4 229.6L364.1 230.3L364.9 230.9L365.6 231.4L366.3 231.8L367.0 232.2L367.7 232.4L368.5 232.6L369.2 232.8L369.9 232.8L370.6 232.7L371.3 232.6L372.0 232.4L372.8 232.2L373.5 231.8L374.2 231.4L374.9 230.9L375.6 230.3L376.3 229.7L377.1 228.9L377.8 228.1L378.5 227.3L379.2 226.4L379.9 225.4L380.6 224.3L381.4 223.2L382.1 222.0L382.8 220.7L383.5 219.4L384.2 218.0L385.0 216.6L385.7 215.1L386.4 213.6L387.1 212.0L387.8 210.4L388.5 208.7L389.3 206.9L390.0 205.2L390.7 203.4L391.4 201.5L392.1 199.6L392.8 197.7L393.6 195.7L394.3 193.7L395.0 191.7L395.7 189.7L396.4 187.7L397.1 185.6L397.9 183.5L398.6 181.4L399.3 179.3L400.0 177.2L400.7 175.1L401.5 173.0L402.2 170.9L402.9 168.8L403.6 166.7L404.3 164.6L405.0 162.5L405.8 160.5L406.5 158.5L407.2 156.4L407.9 154.5L408.6 152.5L409.3 150.6L410.1 148.7L410.8 146.9L411.5 145.0L412.2 143.3L412.9 141.5L413.6 139.9L414.4 138.2L415.1 136.6L415.8 135.1L416.5 133.6L417.2 132.2L417.9 130.8L418.7 129.5L419.4 128.3L420.1 127.1L420.8 125.9L421.5 124.9L422.3 123.8L423.0 122.9L423.7 122.0L424.4 121.2L425.1 120.4L425.8 119.7L426.6 119.1L427.3 118.6L428.0 118.1L428.7 117.6L429.4 117.2L430.1 116.9L430.9 116.7L431.6 116.5L432.3 116.4L433.0 116.3L433.7 116.3L434.4 116.3L435.2 116.4L435.9 116.6L436.6 116.8L437.3 117.1L438.0 117.4L438.8 117.7L439.5 118.1L440.2 118.6L440.9 119.0L441.6 119.6L442.3 120.1L443.1 120.7L443.8 121.4L444.5 122.1L445.2 122.8L445.9 123.5L446.6 124.2L447.4 125.0L448.1 125.8L448.8 126.7L449.5 127.5L450.2 128.4L450.9 129.3L451.7 130.2L452.4 131.1L453.1 132.0L453.8 132.9L454.5 133.9L455.3 134.8L456.0 135.7L456.7 136.7L457.4 137.6L458.1 138.6L458.8 139.5L459.6 140.4L460.3 141.4L461.0 142.3L461.7 143.2L462.4 144.1L463.1 145.0L463.9 145.9L464.6 146.7L465.3 147.6L466.0 148.4L466.7 149.2L467.4 150.0L468.2 150.8L468.9 151.6L469.6 152.3L470.3 153.1L471.0 153.8L471.7 154.5L472.5 155.1L473.2 155.8L473.9 156.4L474.6 157.0L475.3 157.6L476.1 158.2L476.8 158.7L477.5 159.2L478.2 159.7L478.9 160.2L479.6 160.6L480.4 161.0L481.1 161.4L481.8 161.8L482.5 162.1L483.2 162.5L483.9 162.8L484.7 163.1L485.4 163.3L486.1 163.6L486.8 163.8L487.5 164.0L488.2 164.2L489.0 164.3L489.7 164.5L490.4 164.6L491.1 164.7L491.8 164.8L492.6 164.9L493.3 164.9L494.0 164.9L494.7 165.0L495.4 165.0L496.1 165.0L496.9 164.9L497.6 164.9L498.3 164.8L499.0 164.8L499.7 164.7L500.4 164.6L501.2 164.5L501.9 164.4L502.6 164.3L503.3 164.1L504.0 164.0L504.7 163.9L505.5 163.7L506.2 163.5L506.9 163.4L507.6 163.2L508.3 163.0L509.1 162.8L509.8 162.7L510.5 162.5L511.2 162.3L511.9 162.1L512.6 161.9L513.4 161.7L514.1 161.5L514.8 161.3L515.5 161.1L516.2 160.9L516.9 160.7L517.7 160.5L518.4 160.3L519.1 160.1L519.8 159.9L520.5 159.7L521.2 159.5L522.0 159.3L522.7 159.1L523.4 158.9L524.1 158.8L524.8 158.6L525.5 158.4L526.3 158.3L527.0 158.1L527.7 157.9L528.4 157.8L529.1 157.6L529.9 157.5L530.6 157.3L531.3 157.2L532.0 157.1L532.7 156.9L533.4 156.8L534.2 156.7L534.9 156.6L535.6 156.5L536.3 156.4L537.0 156.3L537.7 156.2L538.5 156.1L539.2 156.0L539.9 156.0L540.6 155.9L541.3 155.8L542.0 155.8L542.8 155.7L543.5 155.6L544.2 155.6L544.9 155.6L545.6 155.5L546.4 155.5L547.1 155.4L547.8 155.4L548.5 155.4L549.2 155.4L549.9 155.4L550.7 155.3L551.4 155.3L552.1 155.3" stroke="#e2df2e"/>
<path d="M122.4 157.2L123.1 157.2L123.8 157.2L124.6 157.2L125.3 157.1L126.0 157.1L126.7 157.1L127.4 157.0L128.1 157.0L128.9 157.0L129.6 156.9L130.3 156.9L131.0 156.8L131.7 156.7L132.5 156.7L133.2 156.6L133.9 156.5L134.6 156.5L135.3 156.4L136.0 156.3L136.8 156.2L137.5 156.1L138.2 156.1L138.9 156.0L139.6 155.9L140.3 155.8L141.1 155.6L141.8 155.5L142.5 155.4L143.2 155.3L143.9 155.2L144.6 155.1L145.4 154.9L146.1 154.8L146.8 154.7L147.5 154.5L148.2 154.4L149.0 154.3L149.7 154.1L150.4 154.0L151.1 153.8L151.8 153.7L152.5 153.5L153.3 153.4L154.0 153.2L154.7 153.1L155.4 152.9L156.1 152.8L156.8 152.6L157.6 152.4L158.3 152.3L159.0 152.1L159.7 152.0L160.4 151.8L161.1 151.7L161.9 151.5L162.6 151.4L163.3 151.3L164.0 151.1L164.7 151.0L165.4 150.8L166.2 150.7L166.9 150.6L167.6 150.5L168.3 150.4L169.0 150.3L169.8 150.2L170.5 150.1L171.2 150.0L171.9 149.9L172.6 149.8L173.3 149.8L174.1 149.7L174.8 149.7L175.5 149.6L176.2 149.6L176.9 149.6L177.6 149.6L178.4 149.6L179.1 149.6L179.8 149.7L180.5 149.7L181.2 149.8L181.9 149.8L182.7 149.9L183.4 150.0L184.1 150.1L184.8 150.3L185.5 150.4L186.3 150.5L187.0 150.7L187.7 150.9L188.4 151.1L189.1 151.3L189.8 151.6L190.6 151.8L191.3 152.1L192.0 152.3L192.7 152.6L193.4 153.0L194.1 153.3L194.9 153.6L195.6 154.0L196.3 154.4L197.0 154.7L197.7 155.1L198.4 155.6L199.2 156.0L199.9 156.4L200.6 156.9L201.3 157.4L202.0 157.9L202.8 158.4L203.5 158.9L204.2 159.4L204.9 160.0L205.6 160.5L206.3 161.1L207.1 161.6L207.8 162.2L208.5 162.8L209.2 163.4L209.9 164.0L210.6 164.6L211.4 165.2L212.1 165.8L212.8 166.5L213.5 167.1L214.2 167.7L214.9 168.3L215.7 169.0L216.4 169.6L217.1 170.2L217.8 170.8L218.5 171.5L219.2 172.1L220.0 172.7L220.7 173.3L221.4 173.9L222.1 174.5L222.8 175.1L223.6 175.6L224.3 176.2L225.0 176.7L225.7 177.3L226.4 177.8L227.1 178.3L227.9 178.8L228.6 179.2L229.3 179.7L230.0 180.1L230.7 180.5L231.4 180.9L232.2 181.3L232.9 181.6L233.6 181.9L234.3 182.2L235.0 182.5L235.7 182.7L236.5 182.9L237.2 183.1L237.9 183.3L238.6 183.4L239.3 183.5L240.1 183.5L240.8 183.6L241.5 183.6L242.2 183.5L242.9 183.4L243.6 183.3L244.4 183.2L245.1 183.0L245.8 182.7L246.5 182.5L247.2 182.2L247.9 181.8L248.7 181.4L249.4 181.0L250.1 180.5L250.8 180.0L251.5 179.5L252.2 178.9L253.0 178.2L253.7 177.6L254.4 176.9L255.1 176.1L255.8 175.3L256.6 174.5L257.3 173.6L258.0 172.6L258.7 171.7L259.4 170.7L260.1 169.6L260.9 168.5L261.6 167.4L262.3 166.2L263.0 165.0L263.7 163.8L264.4 162.5L265.2 161.2L265.9 159.8L266.6 158.4L267.3 157.0L268.0 155.5L268.7 154.0L269.5 152.5L270.2 151.0L270.9 149.4L271.6 147.8L272.3 146.2L273.0 144.5L273.8 142.9L274.5 141.2L275.2 139.5L275.9 137.8L276.6 136.1L277.4 134.3L278.1 132.6L278.8 130.9L279.5 129.1L280.2 127.4L280.9 125.7L281.7 123.9L282.4 122.2L283.1 120.5L283.8 118.8L284.5 117.1L285.2 115.5L286.0 113.9L286.7 112.3L287.4 110.7L288.1 109.2L288.8 107.7L289.5 106.2L290.3 104.8L291.0 103.4L291.7 102.1L292.4 100.8L293.1 99.6L293.9 98.4L294.6 97.3L295.3 96.3L296.0 95.3L296.7 94.4L297.4 93.6L298.2 92.8L298.9 92.1L299.6 91.5L300.3 90.9L301.0 90.4L301.7 90.1L302.5 89.8L303.2 89.5L303.9 89.4L304.6 89.3L305.3 89.4L306.0 89.5L306.8 89.7L307.5 90.0L308.2 90.4L308.9 90.9L309.6 91.4L310.4 92.0L311.1 92.8L311.8 93.6L312.5 94.5L313.2 95.4L313.9 96.5L314.7 97.6L315.4 98.8L316.1 100.1L316.8 101.5L317.5 102.9L318.2 104.4L319.0 106.0L319.7 107.6L320.4 109.3L321.1 111.1L321.8 112.9L322.5 114.7L323.3 116.6L324.0 118.6L324.7 120.6L325.4 122.6L326.1 124.7L326.8 126.8L327.6 129.0L328.3 131.1L329.0 133.3L329.7 135.5L330.4 137.8L331.2 140.0L331.9 142.3L332.6 144.5L333.3 146.8L334.0 149.1L334.7 151.3L335.5 153.6L336.2 155.9L336.9 158.1L337.6 160.3L338.3 162.5L339.0 164.7L339.8 166.9L340.5 169.1L341.2 171.2L341.9 173.3L342.6 175.3L343.3 177.4L344.1 179.4L344.8 181.3L345.5 183.2L346.2 185.1L346.9 186.9L347.7 188.7L348.4 190.5L349.1 192.2L349.8 193.8L350.5 195.4L351.2 196.9L352.0 198.4L352.7 199.8L353.4 201.2L354.1 202.5L354.8 203.8L355.5 205.0L356.3 206.2L357.0 207.3L357.7 208.3L358.4 209.3L359.1 210.2L359.8 211.0L360.6 211.8L361.3 212.5L362.0 213.2L362.7 213.8L363.4 214.4L364.1 214.8L364.9 215.3L365.6 215.6L366.3 215.9L367.0 216.2L367.7 216.3L368.5 216.5L369.2 216.5L369.9 216.5L370.6 216.4L371.3 216.3L372.0 216.1L372.8 215.9L373.5 215.6L374.2 215.2L374.9 214.8L375.6 214.3L376.3 213.8L377.1 213.2L377.8 212.6L378.5 211.9L379.2 211.2L379.9 210.4L380.6 209.5L381.4 208.6L382.1 207.7L382.8 206.7L383.5 205.6L384.2 204.6L385.0 203.4L385.7 202.3L386.4 201.0L387.1 199.8L387.8 198.5L388.5 197.2L389.3 195.8L390.0 194.4L390.7 193.0L391.4 191.5L392.1 190.0L392.8 188.5L393.6 187.0L394.3 185.5L395.0 183.9L395.7 182.3L396.4 180.7L397.1 179.1L397.9 177.4L398.6 175.8L399.3 174.1L400.0 172.5L400.7 170.8L401.5 169.2L402.2 167.5L402.9 165.9L403.6 164.2L404.3 162.6L405.0 161.0L405.8 159.4L406.5 157.8L407.2 156.2L407.9 154.6L408.6 153.1L409.3 151.6L410.1 150.1L410.8 148.7L411.5 147.2L412.2 145.8L412.9 144.5L413.6 143.2L414.4 141.9L415.1 140.6L415.8 139.4L416.5 138.3L417.2 137.1L417.9 136.1L418.7 135.0L419.4 134.0L420.1 133.1L420.8 132.2L421.5 131.4L422.3 130.6L423.0 129.8L423.7 129.1L424.4 128.5L425.1 127.9L425.8 127.3L426.6 126.8L427.3 126.4L428.0 126.0L428.7 125.7L429.4 125.4L430.1 125.1L430.9 124.9L431.6 124.8L432.3 124.7L433.0 124.6L433.7 124.6L434.4 124.6L435.2 124.7L435.9 124.8L436.6 125.0L437.3 125.2L438.0 125.5L438.8 125.7L439.5 126.1L440.2 126.4L440.9 126.8L441.6 127.2L442.3 127.7L443.1 128.1L443.8 128.6L444.5 129.2L445.2 129.7L445.9 130.3L446.6 130.9L447.4 131.5L448.1 132.2L448.8 132.8L449.5 133.5L450.2 134.2L450.9 134.9L451.7 135.6L452.4 136.3L453.1 137.0L453.8 137.8L454.5 138.5L455.3 139.3L456.0 140.0L456.7 140.8L457.4 141.5L458.1 142.2L458.8 143.0L459.6 143.7L460.3 144.5L461.0 145.2L461.7 145.9L462.4 146.6L463.1 147.3L463.9 148.0L464.6 148.7L465.3 149.4L466.0 150.1L466.7 150.7L467.4 151.4L468.2 152.0L468.9 152.6L469.6 153.2L470.3 153.8L471.0 154.3L471.7 154.9L472.5 155.4L473.2 155.9L473.9 156.4L474.6 156.9L475.3 157.4L476.1 157.8L476.8 158.2L477.5 158.6L478.2 159.0L478.9 159.4L479.6 159.7L480.4 160.1L481.1 160.4L481.8 160.7L482.5 161.0L483.2 161.2L483.9 161.5L484.7 161.7L485.4 161.9L486.1 162.1L486.8 162.3L487.5 162.4L488.2 162.6L489.0 162.7L489.7 162.8L490.4 162.9L491.1 163.0L491.8 163.1L492.6 163.1L493.3 163.2L494.0 163.2L494.7 163.2L495.4 163.2L496.1 163.2L496.9 163.2L497.6 163.1L498.3 163.1L499.0 163.0L499.7 163.0L500.4 162.9L501.2 162.8L501.9 162.7L502.6 162.6L503.3 162.5L504.0 162.4L504.7 162.3L505.5 162.2L506.2 162.1L506.9 161.9L507.6 161.8L508.3 161.7L509.1 161.5L509.8 161.4L510.5 161.2L511.2 161.1L511.9 160.9L512.6 160.8L513.4 160.6L514.1 160.4L514.8 160.3L515.5 160.1L516.2 160.0L516.9 159.8L517.7 159.6L518.4 159.5L519.1 159.3L519.8 159.2L520.5 159.0L521.2 158.9L522.0 158.7L522.7 158.6L523.4 158.4L524.1 158.3L524.8 158.1L525.5 158.0L526.3 157.9L527.0 157.7L527.7 157.6L528.4 157.5L529.1 157.4L529.9 157.3L530.6 157.1L531.3 157.0L532.0 156.9L532.7 156.8L533.4 156.7L534.2 156.6L534.9 156.6L535.6 156.5L536.3 156.4L537.0 156.3L537.7 156.2L538.5 156.2L539.2 156.1L539.9 156.0L540.6 156.0L541.3 155.9L542.0 155.9L542.8 155.8L543.5 155.8L544.2 155.8L544.9 155.7L545.6 155.7L546.4 155.7L547.1 155.6L547.8 155.6L548.5 155.6L549.2 155.6L549.9 155.6L550.7 155.6L551.4 155.5L552.1 155.5" stroke="#a6c63a"/>
<path d="M122.4 157.0L123.1 156.9L123.8 156.9L124.6 156.9L125.3 156.9L126.0 156.9L126.7 156.8L127.4 156.8L128.1 156.8L128.9 156.8L129.6 156.7L130.3 156.7L131.0 156.7L131.7 156.6L132.5 156.6L133.2 156.5L133.9 156.5L134.6 156.4L135.3 156.4L136.0 156.3L136.8 156.3L137.5 156.2L138.2 156.2L138.9 156.1L139.6 156.0L140.3 156.0L141.1 155.9L141.8 155.8L142.5 155.8L143.2 155.7L143.9 155.6L144.6 155.5L145.4 155.4L146.1 155.3L146.8 155.3L147.5 155.2L148.2 155.1L149.0 155.0L149.7 154.9L150.4 154.8L151.1 154.7L151.8 154.6L152.5 154.5L153.3 154.4L154.0 154.3L154.7 154.2L155.4 154.1L156.1 154.0L156.8 153.9L157.6 153.8L158.3 153.7L159.0 153.6L159.7 153.5L160.4 153.4L161.1 153.3L161.9 153.2L162.6 153.1L163.3 153.0L164.0 152.9L164.7 152.8L165.4 152.7L166.2 152.6L166.9 152.6L167.6 152.5L168.3 152.4L169.0 152.3L169.8 152.3L170.5 152.2L171.2 152.2L171.9 152.1L172.6 152.1L173.3 152.0L174.1 152.0L174.8 152.0L175.5 151.9L176.2 151.9L176.9 151.9L177.6 151.9L178.4 151.9L179.1 151.9L179.8 151.9L180.5 152.0L181.2 152.0L181.9 152.1L182.7 152.1L183.4 152.2L184.1 152.3L184.8 152.3L185.5 152.4L186.3 152.5L187.0 152.6L187.7 152.8L188.4 152.9L189.1 153.0L189.8 153.2L190.6 153.4L191.3 153.5L192.0 153.7L192.7 153.9L193.4 154.1L194.1 154.3L194.9 154.6L195.6 154.8L196.3 155.0L197.0 155.3L197.7 155.6L198.4 155.9L199.2 156.1L199.9 156.4L200.6 156.7L201.3 157.1L202.0 157.4L202.8 157.7L203.5 158.1L204.2 158.4L204.9 158.8L205.6 159.1L206.3 159.5L207.1 159.9L207.8 160.3L208.5 160.6L209.2 161.0L209.9 161.4L210.6 161.8L211.4 162.2L212.1 162.7L212.8 163.1L213.5 163.5L214.2 163.9L214.9 164.3L215.7 164.7L216.4 165.1L217.1 165.6L217.8 166.0L218.5 166.4L219.2 166.8L220.0 167.2L220.7 167.6L221.4 168.0L222.1 168.4L222.8 168.8L223.6 169.2L224.3 169.5L225.0 169.9L225.7 170.2L226.4 170.6L227.1 170.9L227.9 171.2L228.6 171.6L229.3 171.8L230.0 172.1L230.7 172.4L231.4 172.7L232.2 172.9L232.9 173.1L233.6 173.3L234.3 173.5L235.0 173.7L235.7 173.9L236.5 174.0L237.2 174.1L237.9 174.2L238.6 174.3L239.3 174.4L240.1 174.4L240.8 174.4L241.5 174.4L242.2 174.4L242.9 174.3L243.6 174.2L244.4 174.1L245.1 174.0L245.8 173.8L246.5 173.7L247.2 173.5L247.9 173.2L248.7 173.0L249.4 172.7L250.1 172.4L250.8 172.0L251.5 171.6L252.2 171.2L253.0 170.8L253.7 170.3L254.4 169.9L255.1 169.3L255.8 168.8L256.6 168.2L257.3 167.6L258.0 167.0L258.7 166.3L259.4 165.6L260.1 164.9L260.9 164.2L261.6 163.4L262.3 162.6L263.0 161.8L263.7 160.9L264.4 160.0L265.2 159.1L265.9 158.2L266.6 157.3L267.3 156.3L268.0 155.3L268.7 154.3L269.5 153.2L270.2 152.2L270.9 151.1L271.6 150.0L272.3 148.9L273.0 147.7L273.8 146.6L274.5 145.5L275.2 144.3L275.9 143.1L276.6 141.9L277.4 140.8L278.1 139.6L278.8 138.4L279.5 137.2L280.2 136.0L280.9 134.8L281.7 133.6L282.4 132.5L283.1 131.3L283.8 130.2L284.5 129.0L285.2 127.9L286.0 126.8L286.7 125.7L287.4 124.7L288.1 123.6L288.8 122.6L289.5 121.6L290.3 120.7L291.0 119.8L291.7 118.9L292.4 118.1L293.1 117.3L293.9 116.5L294.6 115.8L295.3 115.1L296.0 114.5L296.7 113.9L297.4 113.4L298.2 113.0L298.9 112.5L299.6 112.2L300.3 111.9L301.0 111.6L301.7 111.4L302.5 111.3L303.2 111.2L303.9 111.2L304.6 111.3L305.3 111.4L306.0 111.6L306.8 111.8L307.5 112.1L308.2 112.4L308.9 112.9L309.6 113.3L310.4 113.9L311.1 114.5L311.8 115.1L312.5 115.8L313.2 116.6L313.9 117.4L314.7 118.3L315.4 119.2L316.1 120.2L316.8 121.2L317.5 122.3L318.2 123.4L319.0 124.6L319.7 125.7L320.4 127.0L321.1 128.3L321.8 129.6L322.5 130.9L323.3 132.3L324.0 133.7L324.7 135.1L325.4 136.5L326.1 138.0L326.8 139.5L327.6 141.0L328.3 142.5L329.0 144.0L329.7 145.6L330.4 147.1L331.2 148.7L331.9 150.2L332.6 151.8L333.3 153.3L334.0 154.9L334.7 156.4L335.5 157.9L336.2 159.5L336.9 161.0L337.6 162.5L338.3 164.0L339.0 165.4L339.8 166.9L340.5 168.3L341.2 169.7L341.9 171.1L342.6 172.4L343.3 173.8L344.1 175.1L344.8 176.3L345.5 177.6L346.2 178.8L346.9 180.0L347.7 181.1L348.4 182.3L349.1 183.4L349.8 184.4L350.5 185.4L351.2 186.4L352.0 187.3L352.7 188.3L353.4 189.1L354.1 190.0L354.8 190.8L355.5 191.5L356.3 192.2L357.0 192.9L357.7 193.5L358.4 194.1L359.1 194.7L359.8 195.2L360.6 195.7L361.3 196.1L362.0 196.5L362.7 196.9L363.4 197.2L364.1 197.5L364.9 197.7L365.6 197.9L366.3 198.0L367.0 198.2L367.7 198.2L368.5 198.3L369.2 198.2L369.9 198.2L370.6 198.1L371.3 198.0L372.0 197.8L372.8 197.6L373.5 197.4L374.2 197.1L374.9 196.8L375.6 196.4L376.3 196.0L377.1 195.6L377.8 195.1L378.5 194.6L379.2 194.1L379.9 193.5L380.6 192.9L381.4 192.3L382.1 191.6L382.8 190.9L383.5 190.2L384.2 189.4L385.0 188.6L385.7 187.8L386.4 187.0L387.1 186.1L387.8 185.2L388.5 184.3L389.3 183.3L390.0 182.4L390.7 181.4L391.4 180.4L392.1 179.3L392.8 178.3L393.6 177.2L394.3 176.1L395.0 175.1L395.7 174.0L396.4 172.8L397.1 171.7L397.9 170.6L398.6 169.5L399.3 168.3L400.0 167.2L400.7 166.0L401.5 164.9L402.2 163.7L402.9 162.6L403.6 161.5L404.3 160.3L405.0 159.2L405.8 158.1L406.5 157.0L407.2 155.9L407.9 154.8L408.6 153.8L409.3 152.7L410.1 151.7L410.8 150.7L411.5 149.7L412.2 148.7L412.9 147.8L413.6 146.9L414.4 146.0L415.1 145.1L415.8 144.3L416.5 143.5L417.2 142.7L417.9 141.9L418.7 141.2L419.4 140.5L420.1 139.9L420.8 139.2L421.5 138.6L422.3 138.1L423.0 137.6L423.7 137.1L424.4 136.6L425.1 136.2L425.8 135.8L426.6 135.5L427.3 135.2L428.0 134.9L428.7 134.7L429.4 134.5L430.1 134.3L430.9 134.1L431.6 134.0L432.3 134.0L433.0 133.9L433.7 133.9L434.4 134.0L435.2 134.0L435.9 134.1L436.6 134.2L437.3 134.4L438.0 134.5L438.8 134.7L439.5 135.0L440.2 135.2L440.9 135.5L441.6 135.8L442.3 136.1L443.1 136.4L443.8 136.8L444.5 137.2L445.2 137.5L445.9 138.0L446.6 138.4L447.4 138.8L448.1 139.3L448.8 139.7L449.5 140.2L450.2 140.7L450.9 141.2L451.7 141.7L452.4 142.2L453.1 142.7L453.8 143.2L454.5 143.8L455.3 144.3L456.0 144.8L456.7 145.3L457.4 145.9L458.1 146.4L458.8 146.9L459.6 147.4L460.3 148.0L461.0 148.5L461.7 149.0L462.4 149.5L463.1 150.0L463.9 150.5L464.6 151.0L465.3 151.4L466.0 151.9L466.7 152.4L467.4 152.8L468.2 153.3L468.9 153.7L469.6 154.1L470.3 154.5L471.0 154.9L471.7 155.3L472.5 155.7L473.2 156.1L473.9 156.4L474.6 156.7L475.3 157.1L476.1 157.4L476.8 157.7L477.5 158.0L478.2 158.3L478.9 158.5L479.6 158.8L480.4 159.0L481.1 159.2L481.8 159.4L482.5 159.6L483.2 159.8L483.9 160.0L484.7 160.1L485.4 160.3L486.1 160.4L486.8 160.6L487.5 160.7L488.2 160.8L489.0 160.9L489.7 160.9L490.4 161.0L491.1 161.1L491.8 161.1L492.6 161.2L493.3 161.2L494.0 161.2L494.7 161.2L495.4 161.2L496.1 161.2L496.9 161.2L497.6 161.2L498.3 161.1L499.0 161.1L499.7 161.1L500.4 161.0L501.2 161.0L501.9 160.9L502.6 160.8L503.3 160.8L504.0 160.7L504.7 160.6L505.5 160.5L506.2 160.4L506.9 160.3L507.6 160.2L508.3 160.1L509.1 160.0L509.8 159.9L510.5 159.8L511.2 159.7L511.9 159.6L512.6 159.5L513.4 159.4L514.1 159.3L514.8 159.1L515.5 159.0L516.2 158.9L516.9 158.8L517.7 158.7L518.4 158.6L519.1 158.5L519.8 158.4L520.5 158.3L521.2 158.1L522.0 158.0L522.7 157.9L523.4 157.8L524.1 157.7L524.8 157.6L525.5 157.5L526.3 157.4L527.0 157.3L527.7 157.3L528.4 157.2L529.1 157.1L529.9 157.0L530.6 156.9L531.3 156.8L532.0 156.8L532.7 156.7L533.4 156.6L534.2 156.6L534.9 156.5L535.6 156.4L536.3 156.4L537.0 156.3L537.7 156.3L538.5 156.2L539.2 156.2L539.9 156.2L540.6 156.1L541.3 156.1L542.0 156.0L542.8 156.0L543.5 156.0L544.2 155.9L544.9 155.9L545.6 155.9L546.4 155.9L547.1 155.9L547.8 155.8L548.5 155.8L549.2 155.8L549.9 155.8L550.7 155.8L551.4 155.8L552.1 155.8" stroke="#1b9641"/>
<path d="M122.4 156.7L123.1 156.7L123.8 156.7L124.6 156.7L125.3 156.6L126.0 156.6L126.7 156.6L127.4 156.6L128.1 156.6L128.9 156.6L129.6 156.6L130.3 156.6L131.0 156.5L131.7 156.5L132.5 156.5L133.2 156.5L133.9 156.4L134.6 156.4L135.3 156.4L136.0 156.4L136.8 156.3L137.5 156.3L138.2 156.3L138.9 156.3L139.6 156.2L140.3 156.2L141.1 156.2L141.8 156.1L142.5 156.1L143.2 156.0L143.9 156.0L144.6 156.0L145.4 155.9L146.1 155.9L146.8 155.8L147.5 155.8L148.2 155.7L149.0 155.7L149.7 155.6L150.4 155.6L151.1 155.5L151.8 155.5L152.5 155.5L153.3 155.4L154.0 155.3L154.7 155.3L155.4 155.2L156.1 155.2L156.8 155.1L157.6 155.1L158.3 155.0L159.0 155.0L159.7 154.9L160.4 154.9L161.1 154.8L161.9 154.8L162.6 154.7L163.3 154.7L164.0 154.7L164.7 154.6L165.4 154.6L166.2 154.5L166.9 154.5L167.6 154.4L168.3 154.4L169.0 154.4L169.8 154.3L170.5 154.3L171.2 154.3L171.9 154.2L172.6 154.2L173.3 154.2L174.1 154.2L174.8 154.2L175.5 154.2L176.2 154.2L176.9 154.1L177.6 154.1L178.4 154.2L179.1 154.2L179.8 154.2L180.5 154.2L181.2 154.2L181.9 154.2L182.7 154.3L183.4 154.3L184.1 154.3L184.8 154.4L185.5 154.4L186.3 154.5L187.0 154.5L187.7 154.6L188.4 154.6L189.1 154.7L189.8 154.8L190.6 154.9L191.3 155.0L192.0 155.1L192.7 155.2L193.4 155.3L194.1 155.4L194.9 155.5L195.6 155.6L196.3 155.7L197.0 155.9L197.7 156.0L198.4 156.1L199.2 156.3L199.9 156.4L200.6 156.6L201.3 156.7L202.0 156.9L202.8 157.1L203.5 157.2L204.2 157.4L204.9 157.6L205.6 157.8L206.3 158.0L207.1 158.1L207.8 158.3L208.5 158.5L209.2 158.7L209.9 158.9L210.6 159.1L211.4 159.3L212.1 159.5L212.8 159.8L213.5 160.0L214.2 160.2L214.9 160.4L215.7 160.6L216.4 160.8L217.1 161.0L217.8 161.2L218.5 161.4L219.2 161.6L220.0 161.8L220.7 162.1L221.4 162.3L222.1 162.5L222.8 162.6L223.6 162.8L224.3 163.0L225.0 163.2L225.7 163.4L226.4 163.6L227.1 163.7L227.9 163.9L228.6 164.1L229.3 164.2L230.0 164.4L230.7 164.5L231.4 164.6L232.2 164.7L232.9 164.9L233.6 165.0L234.3 165.1L235.0 165.2L235.7 165.2L236.5 165.3L237.2 165.4L237.9 165.4L238.6 165.5L239.3 165.5L240.1 165.5L240.8 165.5L241.5 165.5L242.2 165.5L242.9 165.5L243.6 165.4L244.4 165.4L245.1 165.3L245.8 165.2L246.5 165.1L247.2 165.0L247.9 164.9L248.7 164.7L249.4 164.6L250.1 164.4L250.8 164.2L251.5 164.0L252.2 163.8L253.0 163.6L253.7 163.3L254.4 163.1L255.1 162.8L255.8 162.5L256.6 162.2L257.3 161.9L258.0 161.5L258.7 161.2L259.4 160.8L260.1 160.4L260.9 160.0L261.6 159.6L262.3 159.2L263.0 158.7L263.7 158.3L264.4 157.8L265.2 157.3L265.9 156.8L266.6 156.3L267.3 155.7L268.0 155.2L268.7 154.6L269.5 154.1L270.2 153.5L270.9 152.9L271.6 152.3L272.3 151.7L273.0 151.1L273.8 150.4L274.5 149.8L275.2 149.2L275.9 148.5L276.6 147.9L277.4 147.2L278.1 146.6L278.8 145.9L279.5 145.3L280.2 144.6L280.9 144.0L281.7 143.4L282.4 142.7L283.1 142.1L283.8 141.5L284.5 140.9L285.2 140.3L286.0 139.7L286.7 139.1L287.4 138.6L288.1 138.0L288.8 137.5L289.5 137.0L290.3 136.5L291.0 136.1L291.7 135.6L292.4 135.2L293.1 134.8L293.9 134.5L294.6 134.2L295.3 133.9L296.0 133.6L296.7 133.3L297.4 133.1L298.2 133.0L298.9 132.8L299.6 132.7L300.3 132.6L301.0 132.6L301.7 132.6L302.5 132.6L303.2 132.7L303.9 132.8L304.6 132.9L305.3 133.1L306.0 133.3L306.8 133.6L307.5 133.9L308.2 134.2L308.9 134.5L309.6 134.9L310.4 135.3L311.1 135.8L311.8 136.3L312.5 136.8L313.2 137.3L313.9 137.9L314.7 138.5L315.4 139.1L316.1 139.7L316.8 140.4L317.5 141.1L318.2 141.8L319.0 142.6L319.7 143.3L320.4 144.1L321.1 144.9L321.8 145.6L322.5 146.5L323.3 147.3L324.0 148.1L324.7 148.9L325.4 149.8L326.1 150.6L326.8 151.5L327.6 152.3L328.3 153.2L329.0 154.1L329.7 154.9L330.4 155.8L331.2 156.6L331.9 157.5L332.6 158.3L333.3 159.1L334.0 160.0L334.7 160.8L335.5 161.6L336.2 162.4L336.9 163.2L337.6 163.9L338.3 164.7L339.0 165.5L339.8 166.2L340.5 166.9L341.2 167.6L341.9 168.3L342.6 169.0L343.3 169.6L344.1 170.3L344.8 170.9L345.5 171.5L346.2 172.1L346.9 172.6L347.7 173.2L348.4 173.7L349.1 174.2L349.8 174.7L350.5 175.2L351.2 175.6L352.0 176.1L352.7 176.5L353.4 176.9L354.1 177.2L354.8 177.6L355.5 177.9L356.3 178.2L357.0 178.5L357.7 178.8L358.4 179.0L359.1 179.3L359.8 179.5L360.6 179.7L361.3 179.8L362.0 180.0L362.7 180.1L363.4 180.2L364.1 180.3L364.9 180.3L365.6 180.4L366.3 180.4L367.0 180.4L367.7 180.4L368.5 180.3L369.2 180.3L369.9 180.2L370.6 180.1L371.3 180.0L372.0 179.9L372.8 179.7L373.5 179.5L374.2 179.3L374.9 179.1L375.6 178.9L376.3 178.6L377.1 178.3L377.8 178.1L378.5 177.7L379.2 177.4L379.9 177.1L380.6 176.7L381.4 176.3L382.1 175.9L382.8 175.5L383.5 175.1L384.2 174.7L385.0 174.2L385.7 173.7L386.4 173.3L387.1 172.8L387.8 172.2L388.5 171.7L389.3 171.2L390.0 170.6L390.7 170.1L391.4 169.5L392.1 168.9L392.8 168.3L393.6 167.7L394.3 167.1L395.0 166.5L395.7 165.9L396.4 165.2L397.1 164.6L397.9 164.0L398.6 163.3L399.3 162.7L400.0 162.0L400.7 161.4L401.5 160.7L402.2 160.1L402.9 159.4L403.6 158.8L404.3 158.1L405.0 157.5L405.8 156.9L406.5 156.2L407.2 155.6L407.9 155.0L408.6 154.4L409.3 153.8L410.1 153.2L410.8 152.6L411.5 152.1L412.2 151.5L412.9 151.0L413.6 150.5L414.4 150.0L415.1 149.5L415.8 149.0L416.5 148.5L417.2 148.1L417.9 147.6L418.7 147.2L419.4 146.8L420.1 146.4L420.8 146.1L421.5 145.7L422.3 145.4L423.0 145.1L423.7 144.8L424.4 144.6L425.1 144.3L425.8 144.1L426.6 143.9L427.3 143.7L428.0 143.6L428.7 143.4L429.4 143.3L430.1 143.2L430.9 143.1L431.6 143.1L432.3 143.0L433.0 143.0L433.7 143.0L434.4 143.0L435.2 143.1L435.9 143.1L436.6 143.2L437.3 143.3L438.0 143.4L438.8 143.5L439.5 143.6L440.2 143.8L440.9 143.9L441.6 144.1L442.3 144.3L443.1 144.5L443.8 144.7L444.5 144.9L445.2 145.2L445.9 145.4L446.6 145.7L447.4 145.9L448.1 146.2L448.8 146.5L449.5 146.7L450.2 147.0L450.9 147.3L451.7 147.6L452.4 147.9L453.1 148.2L453.8 148.5L454.5 148.8L455.3 149.2L456.0 149.5L456.7 149.8L457.4 150.1L458.1 150.4L458.8 150.7L459.6 151.0L460.3 151.4L461.0 151.7L461.7 152.0L462.4 152.3L463.1 152.6L463.9 152.9L464.6 153.2L465.3 153.4L466.0 153.7L466.7 154.0L467.4 154.3L468.2 154.5L468.9 154.8L469.6 155.0L470.3 155.3L471.0 155.5L471.7 155.8L472.5 156.0L473.2 156.2L473.9 156.4L474.6 156.6L475.3 156.8L476.1 157.0L476.8 157.2L477.5 157.3L478.2 157.5L478.9 157.7L479.6 157.8L480.4 158.0L481.1 158.1L481.8 158.2L482.5 158.3L483.2 158.4L483.9 158.5L484.7 158.6L485.4 158.7L486.1 158.8L486.8 158.9L487.5 159.0L488.2 159.0L489.0 159.1L489.7 159.1L490.4 159.2L491.1 159.2L491.8 159.2L492.6 159.2L493.3 159.3L494.0 159.3L494.7 159.3L495.4 159.3L496.1 159.3L496.9 159.3L497.6 159.3L498.3 159.2L499.0 159.2L499.7 159.2L500.4 159.2L501.2 159.1L501.9 159.1L502.6 159.1L503.3 159.0L504.0 159.0L504.7 158.9L505.5 158.9L506.2 158.8L506.9 158.8L507.6 158.7L508.3 158.6L509.1 158.6L509.8 158.5L510.5 158.4L511.2 158.4L511.9 158.3L512.6 158.2L513.4 158.2L514.1 158.1L514.8 158.0L515.5 158.0L516.2 157.9L516.9 157.8L517.7 157.8L518.4 157.7L519.1 157.6L519.8 157.6L520.5 157.5L521.2 157.4L522.0 157.4L522.7 157.3L523.4 157.3L524.1 157.2L524.8 157.1L525.5 157.1L526.3 157.0L527.0 157.0L527.7 156.9L528.4 156.9L529.1 156.8L529.9 156.8L530.6 156.7L531.3 156.7L532.0 156.6L532.7 156.6L533.4 156.5L534.2 156.5L534.9 156.5L535.6 156.4L536.3 156.4L537.0 156.4L537.7 156.3L538.5 156.3L539.2 156.3L539.9 156.3L540.6 156.2L541.3 156.2L542.0 156.2L542.8 156.2L543.5 156.1L544.2 156.1L544.9 156.1L545.6 156.1L546.4 156.1L547.1 156.1L547.8 156.1L548.5 156.1L549.2 156.1L549.9 156.0L550.7 156.0L551.4 156.0L552.1 156.0" stroke="#4db3aa"/>
<path d="M122.4 156.4L123.1 156.4L123.8 156.4L124.6 156.4L125.3 156.4L126.0 156.4L126.7 156.4L127.4 156.4L128.1 156.4L128.9 156.4L129.6 156.4L130.3 156.4L131.0 156.4L131.7 156.4L132.5 156.4L133.2 156.4L133.9 156.4L134.6 156.4L135.3 156.4L136.0 156.4L136.8 156.4L137.5 156.4L138.2 156.4L138.9 156.4L139.6 156.4L140.3 156.4L141.1 156.4L141.8 156.4L142.5 156.3L143.2 156.3L143.9 156.3L144.6 156.3L145.4 156.3L146.1 156.3L146.8 156.3L147.5 156.3L148.2 156.3L149.0 156.3L149.7 156.3L150.4 156.3L151.1 156.3L151.8 156.2L152.5 156.2L153.3 156.2L154.0 156.2L154.7 156.2L155.4 156.2L156.1 156.2L156.8 156.2L157.6 156.2L158.3 156.2L159.0 156.2L159.7 156.2L160.4 156.1L161.1 156.1L161.9 156.1L162.6 156.1L163.3 156.1L164.0 156.1L164.7 156.1L165.4 156.1L166.2 156.1L166.9 156.1L167.6 156.1L168.3 156.1L169.0 156.1L169.8 156.1L170.5 156.0L171.2 156.0L171.9 156.0L172.6 156.0L173.3 156.0L174.1 156.0L174.8 156.0L175.5 156.0L176.2 156.0L176.9 156.0L177.6 156.0L178.4 156.0L179.1 156.0L179.8 156.0L180.5 156.0L181.2 156.0L181.9 156.0L182.7 156.0L183.4 156.0L184.1 156.0L184.8 156.1L185.5 156.1L186.3 156.1L187.0 156.1L187.7 156.1L188.4 156.1L189.1 156.1L189.8 156.1L190.6 156.1L191.3 156.2L192.0 156.2L192.7 156.2L193.4 156.2L194.1 156.2L194.9 156.2L195.6 156.3L196.3 156.3L197.0 156.3L197.7 156.3L198.4 156.4L199.2 156.4L199.9 156.4L200.6 156.4L201.3 156.5L202.0 156.5L202.8 156.5L203.5 156.5L204.2 156.6L204.9 156.6L205.6 156.6L206.3 156.7L207.1 156.7L207.8 156.7L208.5 156.8L209.2 156.8L209.9 156.8L210.6 156.9L211.4 156.9L212.1 157.0L212.8 157.0L213.5 157.0L214.2 157.1L214.9 157.1L215.7 157.1L216.4 157.2L217.1 157.2L217.8 157.3L218.5 157.3L219.2 157.3L220.0 157.4L220.7 157.4L221.4 157.4L222.1 157.5L222.8 157.5L223.6 157.6L224.3 157.6L225.0 157.6L225.7 157.7L226.4 157.7L227.1 157.7L227.9 157.8L228.6 157.8L229.3 157.8L230.0 157.8L230.7 157.9L231.4 157.9L232.2 157.9L232.9 157.9L233.6 158.0L234.3 158.0L235.0 158.0L235.7 158.0L236.5 158.0L237.2 158.1L237.9 158.1L238.6 158.1L239.3 158.1L240.1 158.1L240.8 158.1L241.5 158.1L242.2 158.1L242.9 158.1L243.6 158.1L244.4 158.1L245.1 158.1L245.8 158.1L246.5 158.0L247.2 158.0L247.9 158.0L248.7 158.0L249.4 157.9L250.1 157.9L250.8 157.9L251.5 157.8L252.2 157.8L253.0 157.7L253.7 157.7L254.4 157.6L255.1 157.6L255.8 157.5L256.6 157.5L257.3 157.4L258.0 157.3L258.7 157.2L259.4 157.2L260.1 157.1L260.9 157.0L261.6 156.9L262.3 156.8L263.0 156.7L263.7 156.6L264.4 156.5L265.2 156.4L265.9 156.2L266.6 156.1L267.3 156.0L268.0 155.9L268.7 155.7L269.5 155.6L270.2 155.5L270.9 155.3L271.6 155.2L272.3 155.0L273.0 154.9L273.8 154.7L274.5 154.6L275.2 154.4L275.9 154.2L276.6 154.1L277.4 153.9L278.1 153.8L278.8 153.6L279.5 153.4L280.2 153.3L280.9 153.1L281.7 152.9L282.4 152.8L283.1 152.6L283.8 152.4L284.5 152.3L285.2 152.1L286.0 152.0L286.7 151.8L287.4 151.7L288.1 151.6L288.8 151.4L289.5 151.3L290.3 151.2L291.0 151.1L291.7 151.0L292.4 150.9L293.1 150.8L293.9 150.7L294.6 150.7L295.3 150.6L296.0 150.6L296.7 150.5L297.4 150.5L298.2 150.5L298.9 150.5L299.6 150.5L300.3 150.5L301.0 150.5L301.7 150.6L302.5 150.6L303.2 150.7L303.9 150.7L304.6 150.8L305.3 150.9L306.0 151.0L306.8 151.2L307.5 151.3L308.2 151.4L308.9 151.6L309.6 151.8L310.4 151.9L311.1 152.1L311.8 152.3L312.5 152.5L313.2 152.7L313.9 152.9L314.7 153.1L315.4 153.4L316.1 153.6L316.8 153.9L317.5 154.1L318.2 154.4L319.0 154.6L319.7 154.9L320.4 155.1L321.1 155.4L321.8 155.7L322.5 155.9L323.3 156.2L324.0 156.5L324.7 156.8L325.4 157.0L326.1 157.3L326.8 157.6L327.6 157.8L328.3 158.1L329.0 158.4L329.7 158.6L330.4 158.9L331.2 159.2L331.9 159.4L332.6 159.7L333.3 159.9L334.0 160.1L334.7 160.4L335.5 160.6L336.2 160.9L336.9 161.1L337.6 161.3L338.3 161.5L339.0 161.7L339.8 161.9L340.5 162.1L341.2 162.3L341.9 162.5L342.6 162.7L343.3 162.9L344.1 163.0L344.8 163.2L345.5 163.4L346.2 163.5L346.9 163.7L347.7 163.8L348.4 163.9L349.1 164.1L349.8 164.2L350.5 164.3L351.2 164.4L352.0 164.5L352.7 164.6L353.4 164.7L354.1 164.8L354.8 164.9L355.5 165.0L356.3 165.0L357.0 165.1L357.7 165.1L358.4 165.2L359.1 165.2L359.8 165.3L360.6 165.3L361.3 165.3L362.0 165.3L362.7 165.4L363.4 165.4L364.1 165.4L364.9 165.4L365.6 165.3L366.3 165.3L367.0 165.3L367.7 165.3L368.5 165.2L369.2 165.2L369.9 165.2L370.6 165.1L371.3 165.0L372.0 165.0L372.8 164.9L373.5 164.8L374.2 164.7L374.9 164.6L375.6 164.5L376.3 164.4L377.1 164.3L377.8 164.2L378.5 164.1L379.2 164.0L379.9 163.8L380.6 163.7L381.4 163.6L382.1 163.4L382.8 163.3L383.5 163.1L384.2 162.9L385.0 162.8L385.7 162.6L386.4 162.4L387.1 162.2L387.8 162.0L388.5 161.8L389.3 161.6L390.0 161.4L390.7 161.2L391.4 161.0L392.1 160.8L392.8 160.5L393.6 160.3L394.3 160.1L395.0 159.8L395.7 159.6L396.4 159.4L397.1 159.1L397.9 158.9L398.6 158.6L399.3 158.4L400.0 158.1L400.7 157.9L401.5 157.7L402.2 157.4L402.9 157.2L403.6 156.9L404.3 156.7L405.0 156.4L405.8 156.2L406.5 155.9L407.2 155.7L407.9 155.4L408.6 155.2L409.3 155.0L410.1 154.7L410.8 154.5L411.5 154.3L412.2 154.1L412.9 153.8L413.6 153.6L414.4 153.4L415.1 153.2L415.8 153.0L416.5 152.8L417.2 152.7L417.9 152.5L418.7 152.3L419.4 152.1L420.1 152.0L420.8 151.8L421.5 151.7L422.3 151.6L423.0 151.5L423.7 151.3L424.4 151.2L425.1 151.1L425.8 151.0L426.6 150.9L427.3 150.9L428.0 150.8L428.7 150.7L429.4 150.7L430.1 150.7L430.9 150.6L431.6 150.6L432.3 150.6L433.0 150.6L433.7 150.6L434.4 150.6L435.2 150.6L435.9 150.6L436.6 150.6L437.3 150.7L438.0 150.7L438.8 150.8L439.5 150.8L440.2 150.9L440.9 151.0L441.6 151.0L442.3 151.1L443.1 151.2L443.8 151.3L444.5 151.4L445.2 151.5L445.9 151.6L446.6 151.7L447.4 151.8L448.1 151.9L448.8 152.0L449.5 152.2L450.2 152.3L450.9 152.4L451.7 152.6L452.4 152.7L453.1 152.8L453.8 153.0L454.5 153.1L455.3 153.2L456.0 153.4L456.7 153.5L457.4 153.6L458.1 153.8L458.8 153.9L459.6 154.0L460.3 154.2L461.0 154.3L461.7 154.5L462.4 154.6L463.1 154.7L463.9 154.8L464.6 155.0L465.3 155.1L466.0 155.2L466.7 155.3L467.4 155.5L468.2 155.6L468.9 155.7L469.6 155.8L470.3 155.9L471.0 156.0L471.7 156.1L472.5 156.2L473.2 156.3L473.9 156.4L474.6 156.5L475.3 156.6L476.1 156.7L476.8 156.7L477.5 156.8L478.2 156.9L478.9 157.0L479.6 157.0L480.4 157.1L481.1 157.1L481.8 157.2L482.5 157.3L483.2 157.3L483.9 157.4L484.7 157.4L485.4 157.4L486.1 157.5L486.8 157.5L487.5 157.5L488.2 157.6L489.0 157.6L489.7 157.6L490.4 157.6L491.1 157.6L491.8 157.7L492.6 157.7L493.3 157.7L494.0 157.7L494.7 157.7L495.4 157.7L496.1 157.7L496.9 157.7L497.6 157.7L498.3 157.7L499.0 157.6L499.7 157.6L500.4 157.6L501.2 157.6L501.9 157.6L502.6 157.6L503.3 157.6L504.0 157.5L504.7 157.5L505.5 157.5L506.2 157.5L506.9 157.4L507.6 157.4L508.3 157.4L509.1 157.4L509.8 157.3L510.5 157.3L511.2 157.3L511.9 157.2L512.6 157.2L513.4 157.2L514.1 157.2L514.8 157.1L515.5 157.1L516.2 157.1L516.9 157.0L517.7 157.0L518.4 157.0L519.1 157.0L519.8 156.9L520.5 156.9L521.2 156.9L522.0 156.8L522.7 156.8L523.4 156.8L524.1 156.8L524.8 156.7L525.5 156.7L526.3 156.7L527.0 156.7L527.7 156.6L528.4 156.6L529.1 156.6L529.9 156.6L530.6 156.5L531.3 156.5L532.0 156.5L532.7 156.5L533.4 156.5L534.2 156.4L534.9 156.4L535.6 156.4L536.3 156.4L537.0 156.4L537.7 156.4L538.5 156.4L539.2 156.3L539.9 156.3L540.6 156.3L541.3 156.3L542.0 156.3L542.8 156.3L543.5 156.3L544.2 156.3L544.9 156.3L545.6 156.3L546.4 156.3L547.1 156.3L547.8 156.3L548.5 156.2L549.2 156.2L549.9 156.2L550.7 156.2L551.4 156.2L552.1 156.2" stroke="#1ca2d4"/>
<path d="M122.4 156.3L123.1 156.3L123.8 156.3L124.6 156.3L125.3 156.3L126.0 156.3L126.7 156.3L127.4 156.3L128.1 156.3L128.9 156.3L129.6 156.3L130.3 156.3L131.0 156.3L131.7 156.4L132.5 156.4L133.2 156.4L133.9 156.4L134.6 156.4L135.3 156.4L136.0 156.4L136.8 156.4L137.5 156.4L138.2 156.4L138.9 156.5L139.6 156.5L140.3 156.5L141.1 156.5L141.8 156.5L142.5 156.5L143.2 156.5L143.9 156.6L144.6 156.6L145.4 156.6L146.1 156.6L146.8 156.6L147.5 156.7L148.2 156.7L149.0 156.7L149.7 156.7L150.4 156.7L151.1 156.8L151.8 156.8L152.5 156.8L153.3 156.8L154.0 156.8L154.7 156.9L155.4 156.9L156.1 156.9L156.8 156.9L157.6 156.9L158.3 157.0L159.0 157.0L159.7 157.0L160.4 157.0L161.1 157.0L161.9 157.1L162.6 157.1L163.3 157.1L164.0 157.1L164.7 157.1L165.4 157.2L166.2 157.2L166.9 157.2L167.6 157.2L168.3 157.2L169.0 157.2L169.8 157.3L170.5 157.3L171.2 157.3L171.9 157.3L172.6 157.3L173.3 157.3L174.1 157.3L174.8 157.3L175.5 157.3L176.2 157.3L176.9 157.3L177.6 157.3L178.4 157.3L179.1 157.3L179.8 157.3L180.5 157.3L181.2 157.3L181.9 157.3L182.7 157.3L183.4 157.3L184.1 157.3L184.8 157.2L185.5 157.2L186.3 157.2L187.0 157.2L187.7 157.1L188.4 157.1L189.1 157.1L189.8 157.1L190.6 157.0L191.3 157.0L192.0 156.9L192.7 156.9L193.4 156.9L194.1 156.8L194.9 156.8L195.6 156.7L196.3 156.7L197.0 156.6L197.7 156.6L198.4 156.5L199.2 156.5L199.9 156.4L200.6 156.3L201.3 156.3L202.0 156.2L202.8 156.1L203.5 156.1L204.2 156.0L204.9 155.9L205.6 155.8L206.3 155.8L207.1 155.7L207.8 155.6L208.5 155.5L209.2 155.5L209.9 155.4L210.6 155.3L211.4 155.2L212.1 155.1L212.8 155.1L213.5 155.0L214.2 154.9L214.9 154.8L215.7 154.7L216.4 154.6L217.1 154.6L217.8 154.5L218.5 154.4L219.2 154.3L220.0 154.2L220.7 154.2L221.4 154.1L222.1 154.0L222.8 153.9L223.6 153.9L224.3 153.8L225.0 153.7L225.7 153.6L226.4 153.6L227.1 153.5L227.9 153.5L228.6 153.4L229.3 153.3L230.0 153.3L230.7 153.2L231.4 153.2L232.2 153.2L232.9 153.1L233.6 153.1L234.3 153.0L235.0 153.0L235.7 153.0L236.5 153.0L237.2 152.9L237.9 152.9L238.6 152.9L239.3 152.9L240.1 152.9L240.8 152.9L241.5 152.9L242.2 152.9L242.9 152.9L243.6 153.0L244.4 153.0L245.1 153.0L245.8 153.0L246.5 153.1L247.2 153.1L247.9 153.2L248.7 153.2L249.4 153.3L250.1 153.3L250.8 153.4L251.5 153.5L252.2 153.6L253.0 153.6L253.7 153.7L254.4 153.8L255.1 153.9L255.8 154.0L256.6 154.1L257.3 154.2L258.0 154.4L258.7 154.5L259.4 154.6L260.1 154.7L260.9 154.9L261.6 155.0L262.3 155.2L263.0 155.3L263.7 155.4L264.4 155.6L265.2 155.8L265.9 155.9L266.6 156.1L267.3 156.2L268.0 156.4L268.7 156.6L269.5 156.8L270.2 156.9L270.9 157.1L271.6 157.3L272.3 157.5L273.0 157.6L273.8 157.8L274.5 158.0L275.2 158.2L275.9 158.4L276.6 158.6L277.4 158.7L278.1 158.9L278.8 159.1L279.5 159.3L280.2 159.5L280.9 159.6L281.7 159.8L282.4 160.0L283.1 160.1L283.8 160.3L284.5 160.5L285.2 160.6L286.0 160.8L286.7 160.9L287.4 161.0L288.1 161.2L288.8 161.3L289.5 161.4L290.3 161.6L291.0 161.7L291.7 161.8L292.4 161.9L293.1 162.0L293.9 162.1L294.6 162.1L295.3 162.2L296.0 162.3L296.7 162.3L297.4 162.4L298.2 162.4L298.9 162.4L299.6 162.5L300.3 162.5L301.0 162.5L301.7 162.5L302.5 162.5L303.2 162.5L303.9 162.4L304.6 162.4L305.3 162.4L306.0 162.3L306.8 162.3L307.5 162.2L308.2 162.1L308.9 162.0L309.6 162.0L310.4 161.9L311.1 161.8L311.8 161.7L312.5 161.6L313.2 161.4L313.9 161.3L314.7 161.2L315.4 161.1L316.1 160.9L316.8 160.8L317.5 160.6L318.2 160.5L319.0 160.3L319.7 160.2L320.4 160.0L321.1 159.9L321.8 159.7L322.5 159.6L323.3 159.4L324.0 159.2L324.7 159.1L325.4 158.9L326.1 158.7L326.8 158.6L327.6 158.4L328.3 158.3L329.0 158.1L329.7 158.0L330.4 157.8L331.2 157.7L331.9 157.5L332.6 157.4L333.3 157.2L334.0 157.1L334.7 156.9L335.5 156.8L336.2 156.7L336.9 156.6L337.6 156.5L338.3 156.3L339.0 156.2L339.8 156.1L340.5 156.0L341.2 155.9L341.9 155.8L342.6 155.8L343.3 155.7L344.1 155.6L344.8 155.5L345.5 155.5L346.2 155.4L346.9 155.4L347.7 155.3L348.4 155.3L349.1 155.2L349.8 155.2L350.5 155.2L351.2 155.1L352.0 155.1L352.7 155.1L353.4 155.1L354.1 155.1L354.8 155.1L355.5 155.0L356.3 155.0L357.0 155.1L357.7 155.1L358.4 155.1L359.1 155.1L359.8 155.1L360.6 155.1L361.3 155.1L362.0 155.2L362.7 155.2L363.4 155.2L364.1 155.2L364.9 155.3L365.6 155.3L366.3 155.3L367.0 155.4L367.7 155.4L368.5 155.4L369.2 155.5L369.9 155.5L370.6 155.6L371.3 155.6L372.0 155.6L372.8 155.7L373.5 155.7L374.2 155.8L374.9 155.8L375.6 155.8L376.3 155.9L377.1 155.9L377.8 155.9L378.5 156.0L379.2 156.0L379.9 156.1L380.6 156.1L381.4 156.1L382.1 156.2L382.8 156.2L383.5 156.2L384.2 156.2L385.0 156.3L385.7 156.3L386.4 156.3L387.1 156.3L387.8 156.4L388.5 156.4L389.3 156.4L390.0 156.4L390.7 156.4L391.4 156.5L392.1 156.5L392.8 156.5L393.6 156.5L394.3 156.5L395.0 156.5L395.7 156.5L396.4 156.5L397.1 156.5L397.9 156.5L398.6 156.5L399.3 156.5L400.0 156.5L400.7 156.5L401.5 156.5L402.2 156.5L402.9 156.5L403.6 156.5L404.3 156.5L405.0 156.4L405.8 156.4L406.5 156.4L407.2 156.4L407.9 156.4L408.6 156.4L409.3 156.4L410.1 156.3L410.8 156.3L411.5 156.3L412.2 156.3L412.9 156.3L413.6 156.2L414.4 156.2L415.1 156.2L415.8 156.2L416.5 156.2L417.2 156.2L417.9 156.1L418.7 156.1L419.4 156.1L420.1 156.1L420.8 156.1L421.5 156.0L422.3 156.0L423.0 156.0L423.7 156.0L424.4 156.0L425.1 156.0L425.8 156.0L426.6 155.9L427.3 155.9L428.0 155.9L428.7 155.9L429.4 155.9L430.1 155.9L430.9 155.9L431.6 155.9L432.3 155.9L433.0 155.9L433.7 155.9L434.4 155.9L435.2 155.9L435.9 155.9L436.6 155.8L437.3 155.8L438.0 155.8L438.8 155.9L439.5 155.9L440.2 155.9L440.9 155.9L441.6 155.9L442.3 155.9L443.1 155.9L443.8 155.9L444.5 155.9L445.2 155.9L445.9 155.9L446.6 155.9L447.4 155.9L448.1 155.9L448.8 155.9L449.5 156.0L450.2 156.0L450.9 156.0L451.7 156.0L452.4 156.0L453.1 156.0L453.8 156.0L454.5 156.0L455.3 156.1L456.0 156.1L456.7 156.1L457.4 156.1L458.1 156.1L458.8 156.1L459.6 156.1L460.3 156.2L461.0 156.2L461.7 156.2L462.4 156.2L463.1 156.2L463.9 156.2L464.6 156.2L465.3 156.3L466.0 156.3L466.7 156.3L467.4 156.3L468.2 156.3L468.9 156.3L469.6 156.3L470.3 156.3L471.0 156.4L471.7 156.4L472.5 156.4L473.2 156.4L473.9 156.4L474.6 156.4L475.3 156.4L476.1 156.4L476.8 156.4L477.5 156.4L478.2 156.5L478.9 156.5L479.6 156.5L480.4 156.5L481.1 156.5L481.8 156.5L482.5 156.5L483.2 156.5L483.9 156.5L484.7 156.5L485.4 156.5L486.1 156.5L486.8 156.5L487.5 156.5L488.2 156.5L489.0 156.5L489.7 156.5L490.4 156.5L491.1 156.5L491.8 156.5L492.6 156.6L493.3 156.6L494.0 156.6L494.7 156.6L495.4 156.6L496.1 156.6L496.9 156.6L497.6 156.6L498.3 156.6L499.0 156.6L499.7 156.5L500.4 156.5L501.2 156.5L501.9 156.5L502.6 156.5L503.3 156.5L504.0 156.5L504.7 156.5L505.5 156.5L506.2 156.5L506.9 156.5L507.6 156.5L508.3 156.5L509.1 156.5L509.8 156.5L510.5 156.5L511.2 156.5L511.9 156.5L512.6 156.5L513.4 156.5L514.1 156.5L514.8 156.5L515.5 156.5L516.2 156.5L516.9 156.5L517.7 156.5L518.4 156.5L519.1 156.5L519.8 156.5L520.5 156.5L521.2 156.5L522.0 156.5L522.7 156.5L523.4 156.4L524.1 156.4L524.8 156.4L525.5 156.4L526.3 156.4L527.0 156.4L527.7 156.4L528.4 156.4L529.1 156.4L529.9 156.4L530.6 156.4L531.3 156.4L532.0 156.4L532.7 156.4L533.4 156.4L534.2 156.4L534.9 156.4L535.6 156.4L536.3 156.4L537.0 156.4L537.7 156.4L538.5 156.4L539.2 156.4L539.9 156.4L540.6 156.4L541.3 156.4L542.0 156.4L542.8 156.4L543.5 156.4L544.2 156.4L544.9 156.4L545.6 156.4L546.4 156.4L547.1 156.4L547.8 156.4L548.5 156.4L549.2 156.4L549.9 156.4L550.7 156.4L551.4 156.4L552.1 156.4" stroke="#2b2d8a"/>
<path d="M122.4 156.2L123.1 156.2L123.8 156.2L124.6 156.2L125.3 156.2L126.0 156.2L126.7 156.3L127.4 156.3L128.1 156.3L128.9 156.3L129.6 156.3L130.3 156.3L131.0 156.3L131.7 156.3L132.5 156.3L133.2 156.4L133.9 156.4L134.6 156.4L135.3 156.4L136.0 156.4L136.8 156.4L137.5 156.5L138.2 156.5L138.9 156.5L139.6 156.5L140.3 156.5L141.1 156.6L141.8 156.6L142.5 156.6L143.2 156.6L143.9 156.7L144.6 156.7L145.4 156.7L146.1 156.7L146.8 156.8L147.5 156.8L148.2 156.8L149.0 156.9L149.7 156.9L150.4 156.9L151.1 157.0L151.8 157.0L152.5 157.0L153.3 157.1L154.0 157.1L154.7 157.1L155.4 157.2L156.1 157.2L156.8 157.2L157.6 157.3L158.3 157.3L159.0 157.3L159.7 157.4L160.4 157.4L161.1 157.4L161.9 157.5L162.6 157.5L163.3 157.5L164.0 157.6L164.7 157.6L165.4 157.6L166.2 157.6L166.9 157.7L167.6 157.7L168.3 157.7L169.0 157.7L169.8 157.8L170.5 157.8L171.2 157.8L171.9 157.8L172.6 157.8L173.3 157.9L174.1 157.9L174.8 157.9L175.5 157.9L176.2 157.9L176.9 157.9L177.6 157.9L178.4 157.9L179.1 157.9L179.8 157.9L180.5 157.9L181.2 157.9L181.9 157.8L182.7 157.8L183.4 157.8L184.1 157.8L184.8 157.7L185.5 157.7L186.3 157.7L187.0 157.6L187.7 157.6L188.4 157.6L189.1 157.5L189.8 157.5L190.6 157.4L191.3 157.3L192.0 157.3L192.7 157.2L193.4 157.2L194.1 157.1L194.9 157.0L195.6 156.9L196.3 156.8L197.0 156.8L197.7 156.7L198.4 156.6L199.2 156.5L199.9 156.4L200.6 156.3L201.3 156.2L202.0 156.1L202.8 156.0L203.5 155.9L204.2 155.7L204.9 155.6L205.6 155.5L206.3 155.4L207.1 155.3L207.8 155.1L208.5 155.0L209.2 154.9L209.9 154.8L210.6 154.6L211.4 154.5L212.1 154.4L212.8 154.2L213.5 154.1L214.2 154.0L214.9 153.8L215.7 153.7L216.4 153.6L217.1 153.4L217.8 153.3L218.5 153.2L219.2 153.0L220.0 152.9L220.7 152.8L221.4 152.6L222.1 152.5L222.8 152.4L223.6 152.3L224.3 152.2L225.0 152.0L225.7 151.9L226.4 151.8L227.1 151.7L227.9 151.6L228.6 151.5L229.3 151.4L230.0 151.3L230.7 151.2L231.4 151.2L232.2 151.1L232.9 151.0L233.6 151.0L234.3 150.9L235.0 150.9L235.7 150.8L236.5 150.8L237.2 150.7L237.9 150.7L238.6 150.7L239.3 150.7L240.1 150.7L240.8 150.7L241.5 150.7L242.2 150.7L242.9 150.7L243.6 150.8L244.4 150.8L245.1 150.8L245.8 150.9L246.5 151.0L247.2 151.0L247.9 151.1L248.7 151.2L249.4 151.3L250.1 151.4L250.8 151.5L251.5 151.7L252.2 151.8L253.0 151.9L253.7 152.1L254.4 152.2L255.1 152.4L255.8 152.6L256.6 152.8L257.3 153.0L258.0 153.2L258.7 153.4L259.4 153.6L260.1 153.8L260.9 154.1L261.6 154.3L262.3 154.5L263.0 154.8L263.7 155.1L264.4 155.3L265.2 155.6L265.9 155.9L266.6 156.2L267.3 156.5L268.0 156.8L268.7 157.1L269.5 157.4L270.2 157.7L270.9 158.0L271.6 158.4L272.3 158.7L273.0 159.0L273.8 159.4L274.5 159.7L275.2 160.0L275.9 160.4L276.6 160.7L277.4 161.0L278.1 161.4L278.8 161.7L279.5 162.0L280.2 162.3L280.9 162.7L281.7 163.0L282.4 163.3L283.1 163.6L283.8 163.9L284.5 164.2L285.2 164.5L286.0 164.8L286.7 165.0L287.4 165.3L288.1 165.6L288.8 165.8L289.5 166.0L290.3 166.3L291.0 166.5L291.7 166.7L292.4 166.8L293.1 167.0L293.9 167.2L294.6 167.3L295.3 167.4L296.0 167.5L296.7 167.6L297.4 167.7L298.2 167.8L298.9 167.8L299.6 167.9L300.3 167.9L301.0 167.9L301.7 167.9L302.5 167.9L303.2 167.8L303.9 167.7L304.6 167.7L305.3 167.6L306.0 167.5L306.8 167.3L307.5 167.2L308.2 167.0L308.9 166.9L309.6 166.7L310.4 166.5L311.1 166.3L311.8 166.1L312.5 165.8L313.2 165.6L313.9 165.3L314.7 165.1L315.4 164.8L316.1 164.5L316.8 164.2L317.5 163.9L318.2 163.6L319.0 163.3L319.7 163.0L320.4 162.7L321.1 162.3L321.8 162.0L322.5 161.7L323.3 161.3L324.0 161.0L324.7 160.7L325.4 160.3L326.1 160.0L326.8 159.7L327.6 159.3L328.3 159.0L329.0 158.7L329.7 158.3L330.4 158.0L331.2 157.7L331.9 157.4L332.6 157.1L333.3 156.8L334.0 156.5L334.7 156.2L335.5 155.9L336.2 155.6L336.9 155.3L337.6 155.1L338.3 154.8L339.0 154.6L339.8 154.3L340.5 154.1L341.2 153.9L341.9 153.6L342.6 153.4L343.3 153.2L344.1 153.0L344.8 152.9L345.5 152.7L346.2 152.5L346.9 152.4L347.7 152.2L348.4 152.1L349.1 151.9L349.8 151.8L350.5 151.7L351.2 151.6L352.0 151.5L352.7 151.4L353.4 151.3L354.1 151.2L354.8 151.1L355.5 151.1L356.3 151.0L357.0 151.0L357.7 150.9L358.4 150.9L359.1 150.9L359.8 150.8L360.6 150.8L361.3 150.8L362.0 150.8L362.7 150.8L363.4 150.8L364.1 150.8L364.9 150.8L365.6 150.9L366.3 150.9L367.0 150.9L367.7 151.0L368.5 151.0L369.2 151.1L369.9 151.1L370.6 151.2L371.3 151.2L372.0 151.3L372.8 151.4L373.5 151.4L374.2 151.5L374.9 151.6L375.6 151.7L376.3 151.7L377.1 151.8L377.8 151.9L378.5 152.0L379.2 152.1L379.9 152.2L380.6 152.3L381.4 152.4L382.1 152.5L382.8 152.6L383.5 152.7L384.2 152.8L385.0 153.0L385.7 153.1L386.4 153.2L387.1 153.3L387.8 153.4L388.5 153.5L389.3 153.6L390.0 153.8L390.7 153.9L391.4 154.0L392.1 154.1L392.8 154.2L393.6 154.4L394.3 154.5L395.0 154.6L395.7 154.7L396.4 154.8L397.1 154.9L397.9 155.1L398.6 155.2L399.3 155.3L400.0 155.4L400.7 155.5L401.5 155.6L402.2 155.7L402.9 155.8L403.6 156.0L404.3 156.1L405.0 156.2L405.8 156.3L406.5 156.4L407.2 156.5L407.9 156.5L408.6 156.6L409.3 156.7L410.1 156.8L410.8 156.9L411.5 157.0L412.2 157.1L412.9 157.1L413.6 157.2L414.4 157.3L415.1 157.4L415.8 157.4L416.5 157.5L417.2 157.5L417.9 157.6L418.7 157.7L419.4 157.7L420.1 157.8L420.8 157.8L421.5 157.8L422.3 157.9L423.0 157.9L423.7 158.0L424.4 158.0L425.1 158.0L425.8 158.0L426.6 158.1L427.3 158.1L428.0 158.1L428.7 158.1L429.4 158.1L430.1 158.1L430.9 158.1L431.6 158.1L432.3 158.1L433.0 158.1L433.7 158.1L434.4 158.1L435.2 158.1L435.9 158.1L436.6 158.1L437.3 158.1L438.0 158.1L438.8 158.0L439.5 158.0L440.2 158.0L440.9 158.0L441.6 157.9L442.3 157.9L443.1 157.9L443.8 157.9L444.5 157.8L445.2 157.8L445.9 157.8L446.6 157.7L447.4 157.7L448.1 157.7L448.8 157.6L449.5 157.6L450.2 157.5L450.9 157.5L451.7 157.5L452.4 157.4L453.1 157.4L453.8 157.4L454.5 157.3L455.3 157.3L456.0 157.2L456.7 157.2L457.4 157.2L458.1 157.1L458.8 157.1L459.6 157.0L460.3 157.0L461.0 157.0L461.7 156.9L462.4 156.9L463.1 156.9L463.9 156.8L464.6 156.8L465.3 156.7L466.0 156.7L466.7 156.7L467.4 156.7L468.2 156.6L468.9 156.6L469.6 156.6L470.3 156.5L471.0 156.5L471.7 156.5L472.5 156.4L473.2 156.4L473.9 156.4L474.6 156.4L475.3 156.4L476.1 156.3L476.8 156.3L477.5 156.3L478.2 156.3L478.9 156.3L479.6 156.2L480.4 156.2L481.1 156.2L481.8 156.2L482.5 156.2L483.2 156.2L483.9 156.2L484.7 156.1L485.4 156.1L486.1 156.1L486.8 156.1L487.5 156.1L488.2 156.1L489.0 156.1L489.7 156.1L490.4 156.1L491.1 156.1L491.8 156.1L492.6 156.1L493.3 156.1L494.0 156.1L494.7 156.1L495.4 156.1L496.1 156.1L496.9 156.1L497.6 156.1L498.3 156.1L499.0 156.1L499.7 156.1L500.4 156.1L501.2 156.1L501.9 156.1L502.6 156.1L503.3 156.1L504.0 156.1L504.7 156.1L505.5 156.1L506.2 156.1L506.9 156.1L507.6 156.1L508.3 156.1L509.1 156.2L509.8 156.2L510.5 156.2L511.2 156.2L511.9 156.2L512.6 156.2L513.4 156.2L514.1 156.2L514.8 156.2L515.5 156.2L516.2 156.2L516.9 156.2L517.7 156.2L518.4 156.3L519.1 156.3L519.8 156.3L520.5 156.3L521.2 156.3L522.0 156.3L522.7 156.3L523.4 156.3L524.1 156.3L524.8 156.3L525.5 156.3L526.3 156.3L527.0 156.3L527.7 156.3L528.4 156.3L529.1 156.4L529.9 156.4L530.6 156.4L531.3 156.4L532.0 156.4L532.7 156.4L533.4 156.4L534.2 156.4L534.9 156.4L535.6 156.4L536.3 156.4L537.0 156.4L537.7 156.4L538.5 156.4L539.2 156.4L539.9 156.4L540.6 156.4L541.3 156.4L542.0 156.4L542.8 156.4L543.5 156.4L544.2 156.4L544.9 156.4L545.6 156.4L546.4 156.4L547.1 156.4L547.8 156.4L548.5 156.4L549.2 156.4L549.9 156.4L550.7 156.4L551.4 156.4L552.1 156.4" stroke="#9e1a5c"/>
</g>
<clipPath id="cb"><rect x="583.1" y="12.3" width="307.5" height="287.6"/></clipPath>
<g clip-path="url(#cb)" fill="none" stroke-width="3.3" stroke-linejoin="round">
<path d="M583.3 195.1L584.0 198.5L584.8 201.7L585.6 205.0L586.3 208.2L587.1 211.4L587.9 214.5L588.6 217.6L589.4 220.7L590.2 223.7L591.0 226.6L591.7 229.5L592.5 232.3L593.3 235.1L594.0 237.8L594.8 240.4L595.6 242.9L596.3 245.4L597.1 247.8L597.9 250.1L598.7 252.4L599.4 254.5L600.2 256.6L601.0 258.5L601.7 260.4L602.5 262.2L603.3 263.8L604.1 265.4L604.8 266.9L605.6 268.3L606.4 269.5L607.1 270.7L607.9 271.8L608.7 272.7L609.4 273.6L610.2 274.3L611.0 274.9L611.8 275.4L612.5 275.8L613.3 276.1L614.1 276.3L614.8 276.3L615.6 276.3L616.4 276.1L617.1 275.8L617.9 275.4L618.7 274.9L619.5 274.3L620.2 273.6L621.0 272.8L621.8 271.8L622.5 270.8L623.3 269.6L624.1 268.3L624.8 267.0L625.6 265.5L626.4 263.9L627.2 262.3L627.9 260.5L628.7 258.7L629.5 256.7L630.2 254.7L631.0 252.5L631.8 250.3L632.5 248.0L633.3 245.7L634.1 243.2L634.9 240.7L635.6 238.1L636.4 235.4L637.2 232.7L637.9 229.9L638.7 227.0L639.5 224.1L640.2 221.2L641.0 218.1L641.8 215.1L642.6 212.0L643.3 208.8L644.1 205.7L644.9 202.4L645.6 199.2L646.4 195.9L647.2 192.6L648.0 189.3L648.7 186.0L649.5 182.7L650.3 179.3L651.0 176.0L651.8 172.6L652.6 169.3L653.3 165.9L654.1 162.6L654.9 159.3L655.7 156.0L656.4 152.7L657.2 149.4L658.0 146.2L658.7 143.0L659.5 139.8L660.3 136.7L661.0 133.6L661.8 130.6L662.6 127.6L663.4 124.6L664.1 121.7L664.9 118.8L665.7 116.0L666.4 113.3L667.2 110.6L668.0 108.0L668.7 105.4L669.5 103.0L670.3 100.5L671.1 98.2L671.8 95.9L672.6 93.7L673.4 91.6L674.1 89.6L674.9 87.6L675.7 85.8L676.4 84.0L677.2 82.3L678.0 80.7L678.8 79.1L679.5 77.7L680.3 76.3L681.1 75.1L681.8 73.9L682.6 72.8L683.4 71.8L684.1 70.9L684.9 70.1L685.7 69.4L686.5 68.7L687.2 68.2L688.0 67.7L688.8 67.4L689.5 67.1L690.3 66.9L691.1 66.8L691.9 66.8L692.6 66.9L693.4 67.0L694.2 67.3L694.9 67.6L695.7 68.0L696.5 68.5L697.2 69.1L698.0 69.7L698.8 70.4L699.6 71.2L700.3 72.1L701.1 73.0L701.9 74.0L702.6 75.1L703.4 76.2L704.2 77.4L704.9 78.7L705.7 80.0L706.5 81.4L707.3 82.9L708.0 84.3L708.8 85.9L709.6 87.5L710.3 89.1L711.1 90.8L711.9 92.5L712.6 94.2L713.4 96.0L714.2 97.9L715.0 99.7L715.7 101.6L716.5 103.5L717.3 105.5L718.0 107.4L718.8 109.4L719.6 111.4L720.3 113.4L721.1 115.4L721.9 117.4L722.7 119.5L723.4 121.5L724.2 123.6L725.0 125.6L725.7 127.7L726.5 129.7L727.3 131.7L728.1 133.8L728.8 135.8L729.6 137.8L730.4 139.8L731.1 141.8L731.9 143.7L732.7 145.6L733.4 147.6L734.2 149.4L735.0 151.3L735.8 153.2L736.5 155.0L737.3 156.7L738.1 158.5L738.8 160.2L739.6 161.9L740.4 163.5L741.1 165.1L741.9 166.7L742.7 168.2L743.5 169.7L744.2 171.2L745.0 172.6L745.8 174.0L746.5 175.3L747.3 176.6L748.1 177.8L748.8 179.0L749.6 180.1L750.4 181.2L751.2 182.3L751.9 183.3L752.7 184.3L753.5 185.2L754.2 186.0L755.0 186.8L755.8 187.6L756.5 188.3L757.3 189.0L758.1 189.6L758.9 190.2L759.6 190.7L760.4 191.2L761.2 191.7L761.9 192.0L762.7 192.4L763.5 192.7L764.2 192.9L765.0 193.2L765.8 193.3L766.6 193.5L767.3 193.5L768.1 193.6L768.9 193.6L769.6 193.6L770.4 193.5L771.2 193.4L772.0 193.2L772.7 193.0L773.5 192.8L774.3 192.6L775.0 192.3L775.8 192.0L776.6 191.6L777.3 191.2L778.1 190.8L778.9 190.4L779.7 189.9L780.4 189.4L781.2 188.9L782.0 188.4L782.7 187.8L783.5 187.3L784.3 186.7L785.0 186.1L785.8 185.4L786.6 184.8L787.4 184.1L788.1 183.4L788.9 182.7L789.7 182.0L790.4 181.3L791.2 180.6L792.0 179.9L792.7 179.1L793.5 178.4L794.3 177.6L795.1 176.9L795.8 176.1L796.6 175.3L797.4 174.6L798.1 173.8L798.9 173.0L799.7 172.3L800.4 171.5L801.2 170.7L802.0 170.0L802.8 169.2L803.5 168.5L804.3 167.7L805.1 167.0L805.8 166.3L806.6 165.6L807.4 164.8L808.1 164.1L808.9 163.5L809.7 162.8L810.5 162.1L811.2 161.4L812.0 160.8L812.8 160.2L813.5 159.5L814.3 158.9L815.1 158.3L815.9 157.7L816.6 157.2L817.4 156.6L818.2 156.1L818.9 155.6L819.7 155.1L820.5 154.6L821.2 154.1L822.0 153.6L822.8 153.2L823.6 152.8L824.3 152.3L825.1 151.9L825.9 151.6L826.6 151.2L827.4 150.9L828.2 150.5L828.9 150.2L829.7 149.9L830.5 149.6L831.3 149.4L832.0 149.1L832.8 148.9L833.6 148.6L834.3 148.4L835.1 148.3L835.9 148.1L836.6 147.9L837.4 147.8L838.2 147.6L839.0 147.5L839.7 147.4L840.5 147.3L841.3 147.2L842.0 147.2L842.8 147.1L843.6 147.1L844.3 147.0L845.1 147.0L845.9 147.0L846.7 147.0L847.4 147.0L848.2 147.1L849.0 147.1L849.7 147.1L850.5 147.2L851.3 147.3L852.1 147.3L852.8 147.4L853.6 147.5L854.4 147.6L855.1 147.7L855.9 147.8L856.7 147.9L857.4 148.0L858.2 148.1L859.0 148.3L859.8 148.4L860.5 148.6L861.3 148.7L862.1 148.8L862.8 149.0L863.6 149.2L864.4 149.3L865.1 149.5L865.9 149.6L866.7 149.8L867.5 150.0L868.2 150.1L869.0 150.3L869.8 150.5L870.5 150.7L871.3 150.8L872.1 151.0L872.8 151.2L873.6 151.3L874.4 151.5L875.2 151.7L875.9 151.9L876.7 152.0L877.5 152.2L878.2 152.4L879.0 152.5L879.8 152.7L880.5 152.9L881.3 153.0L882.1 153.2L882.9 153.3L883.6 153.5L884.4 153.6L885.2 153.8L885.9 153.9L886.7 154.1L887.5 154.2L888.2 154.4L889.0 154.5L889.8 154.6L890.6 154.7" stroke="#123c94" stroke-width="3.3" stroke-dasharray="11 5 2 5"/>
<path d="M617.4 275.7L618.3 274.9L619.2 273.9L620.1 272.7L621.1 271.4L622.0 270.0L622.9 268.4L623.8 266.6L624.7 264.8L625.6 262.8L626.5 260.7L627.4 258.4L628.4 256.1L629.3 253.6L630.2 251.0L631.1 248.3L632.0 245.5L632.9 242.7L633.8 239.7L634.8 236.6L635.7 233.5L636.6 230.3L637.5 227.0L638.4 223.7L639.3 220.3L640.2 216.8L641.2 213.3L642.1 209.8L643.0 206.2L643.9 202.6L644.8 199.0L645.7 195.3L646.6 191.6L647.5 188.0L648.5 184.3L649.4 180.6L650.3 177.0L651.2 173.3L652.1 169.7L653.0 166.1L653.9 162.6L654.9 159.0L655.8 155.5L656.7 152.1L657.6 148.7L658.5 145.4L659.4 142.1L660.3 138.8L661.3 135.7L662.2 132.6L663.1 129.6L664.0 126.7L664.9 123.8L665.8 121.0L666.7 118.4L667.6 115.8L668.6 113.3L669.5 110.9L670.4 108.6L671.3 106.3L672.2 104.2L673.1 102.2L674.0 100.3L675.0 98.6L675.9 96.9L676.8 95.3L677.7 93.8L678.6 92.5L679.5 91.2L680.4 90.1L681.4 89.0L682.3 88.1L683.2 87.3L684.1 86.6L685.0 86.0L685.9 85.5L686.8 85.2L687.7 84.9L688.7 84.7L689.6 84.6L690.5 84.7L691.4 84.8L692.3 85.0L693.2 85.4L694.1 85.8L695.1 86.3L696.0 86.9L696.9 87.6L697.8 88.3L698.7 89.2L699.6 90.1L700.5 91.1L701.4 92.1L702.4 93.3L703.3 94.5L704.2 95.7L705.1 97.1L706.0 98.4L706.9 99.9L707.8 101.3L708.8 102.9L709.7 104.4L710.6 106.1L711.5 107.7L712.4 109.4L713.3 111.1L714.2 112.8L715.2 114.6L716.1 116.4L717.0 118.2L717.9 120.0L718.8 121.8L719.7 123.6L720.6 125.4L721.5 127.3L722.5 129.1L723.4 130.9L724.3 132.8L725.2 134.6L726.1 136.4L727.0 138.2L727.9 139.9L728.9 141.7L729.8 143.4L730.7 145.1L731.6 146.8L732.5 148.4L733.4 150.0L734.3 151.6L735.3 153.2L736.2 154.7L737.1 156.2L738.0 157.6L738.9 159.0L739.8 160.4L740.7 161.7L741.6 163.0L742.6 164.2L743.5 165.4L744.4 166.5L745.3 167.6L746.2 168.7L747.1 169.7L748.0 170.6L749.0 171.5L749.9 172.4L750.8 173.2L751.7 173.9L752.6 174.6L753.5 175.3L754.4 175.9L755.4 176.5L756.3 177.0L757.2 177.5L758.1 177.9L759.0 178.3L759.9 178.6L760.8 178.9L761.7 179.1L762.7 179.3L763.6 179.5L764.5 179.6L765.4 179.7L766.3 179.8L767.2 179.8L768.1 179.7L769.1 179.7L770.0 179.6L770.9 179.4L771.8 179.3L772.7 179.1L773.6 178.8L774.5 178.6L775.4 178.3L776.4 178.0L777.3 177.7L778.2 177.3L779.1 176.9L780.0 176.5L780.9 176.1L781.8 175.7L782.8 175.2L783.7 174.8L784.6 174.3L785.5 173.8L786.4 173.3L787.3 172.8L788.2 172.2L789.2 171.7L790.1 171.2L791.0 170.6L791.9 170.1L792.8 169.5L793.7 168.9L794.6 168.4L795.5 167.8L796.5 167.3L797.4 166.7L798.3 166.2L799.2 165.6L800.1 165.1L801.0 164.5L801.9 164.0L802.9 163.5L803.8 162.9L804.7 162.4L805.6 161.9L806.5 161.4L807.4 160.9L808.3 160.5L809.3 160.0L810.2 159.5L811.1 159.1L812.0 158.6L812.9 158.2L813.8 157.8L814.7 157.4L815.6 157.0L816.6 156.7L817.5 156.3L818.4 156.0L819.3 155.6L820.2 155.3L821.1 155.0L822.0 154.7L823.0 154.4L823.9 154.2L824.8 153.9L825.7 153.7L826.6 153.5L827.5 153.3L828.4 153.1L829.4 152.9L830.3 152.7L831.2 152.6L832.1 152.4L833.0 152.3L833.9 152.2L834.8 152.0L835.7 151.9L836.7 151.9L837.6 151.8L838.5 151.7L839.4 151.7L840.3 151.6L841.2 151.6L842.1 151.5L843.1 151.5L844.0 151.5L844.9 151.5L845.8 151.5L846.7 151.5L847.6 151.6L848.5 151.6L849.4 151.6L850.4 151.7L851.3 151.7L852.2 151.8L853.1 151.8L854.0 151.9L854.9 152.0L855.8 152.0L856.8 152.1L857.7 152.2L858.6 152.3L859.5 152.4L860.4 152.4L861.3 152.5L862.2 152.6L863.2 152.7L864.1 152.8L865.0 152.9L865.9 153.0L866.8 153.1L867.7 153.2L868.6 153.3L869.5 153.4L870.5 153.5L871.4 153.6L872.3 153.7L873.2 153.8L874.1 153.9L875.0 154.0L875.9 154.1L876.9 154.2L877.8 154.3L878.7 154.4L879.6 154.5L880.5 154.6L881.4 154.7L882.3 154.8L883.3 154.9L884.2 154.9L885.1 155.0L886.0 155.1L886.9 155.2L887.8 155.2L888.7 155.3L889.6 155.4L890.6 155.5" stroke="#e31d1c"/>
<path d="M617.4 272.1L618.3 271.3L619.2 270.4L620.1 269.3L621.1 268.0L622.0 266.6L622.9 265.1L623.8 263.5L624.7 261.7L625.6 259.8L626.5 257.7L627.4 255.6L628.4 253.3L629.3 250.9L630.2 248.4L631.1 245.8L632.0 243.1L632.9 240.3L633.8 237.5L634.8 234.5L635.7 231.5L636.6 228.3L637.5 225.2L638.4 221.9L639.3 218.6L640.2 215.3L641.2 211.9L642.1 208.4L643.0 204.9L643.9 201.4L644.8 197.9L645.7 194.3L646.6 190.8L647.5 187.2L648.5 183.6L649.4 180.1L650.3 176.5L651.2 172.9L652.1 169.4L653.0 165.9L653.9 162.4L654.9 159.0L655.8 155.6L656.7 152.2L657.6 148.9L658.5 145.6L659.4 142.4L660.3 139.2L661.3 136.1L662.2 133.1L663.1 130.2L664.0 127.3L664.9 124.5L665.8 121.8L666.7 119.1L667.6 116.6L668.6 114.1L669.5 111.8L670.4 109.5L671.3 107.4L672.2 105.3L673.1 103.3L674.0 101.4L675.0 99.7L675.9 98.0L676.8 96.5L677.7 95.0L678.6 93.7L679.5 92.4L680.4 91.3L681.4 90.3L682.3 89.4L683.2 88.6L684.1 87.9L685.0 87.3L685.9 86.8L686.8 86.4L687.7 86.2L688.7 86.0L689.6 85.9L690.5 85.9L691.4 86.1L692.3 86.3L693.2 86.6L694.1 87.0L695.1 87.5L696.0 88.0L696.9 88.7L697.8 89.4L698.7 90.3L699.6 91.2L700.5 92.1L701.4 93.2L702.4 94.3L703.3 95.5L704.2 96.7L705.1 98.0L706.0 99.3L706.9 100.7L707.8 102.2L708.8 103.7L709.7 105.2L710.6 106.8L711.5 108.4L712.4 110.1L713.3 111.8L714.2 113.5L715.2 115.2L716.1 116.9L717.0 118.7L717.9 120.5L718.8 122.3L719.7 124.1L720.6 125.9L721.5 127.7L722.5 129.5L723.4 131.3L724.3 133.1L725.2 134.9L726.1 136.6L727.0 138.4L727.9 140.1L728.9 141.9L729.8 143.6L730.7 145.2L731.6 146.9L732.5 148.5L733.4 150.1L734.3 151.7L735.3 153.2L736.2 154.7L737.1 156.2L738.0 157.6L738.9 159.0L739.8 160.3L740.7 161.6L741.6 162.9L742.6 164.1L743.5 165.3L744.4 166.4L745.3 167.5L746.2 168.5L747.1 169.5L748.0 170.4L749.0 171.3L749.9 172.2L750.8 173.0L751.7 173.7L752.6 174.4L753.5 175.1L754.4 175.7L755.4 176.3L756.3 176.8L757.2 177.2L758.1 177.7L759.0 178.0L759.9 178.4L760.8 178.7L761.7 178.9L762.7 179.1L763.6 179.3L764.5 179.4L765.4 179.5L766.3 179.5L767.2 179.5L768.1 179.5L769.1 179.4L770.0 179.3L770.9 179.2L771.8 179.0L772.7 178.8L773.6 178.6L774.5 178.4L775.4 178.1L776.4 177.8L777.3 177.5L778.2 177.1L779.1 176.7L780.0 176.3L780.9 175.9L781.8 175.5L782.8 175.0L783.7 174.6L784.6 174.1L785.5 173.6L786.4 173.1L787.3 172.6L788.2 172.1L789.2 171.6L790.1 171.0L791.0 170.5L791.9 169.9L792.8 169.4L793.7 168.8L794.6 168.3L795.5 167.7L796.5 167.2L797.4 166.6L798.3 166.1L799.2 165.5L800.1 165.0L801.0 164.5L801.9 163.9L802.9 163.4L803.8 162.9L804.7 162.4L805.6 161.9L806.5 161.4L807.4 160.9L808.3 160.4L809.3 160.0L810.2 159.5L811.1 159.1L812.0 158.6L812.9 158.2L813.8 157.8L814.7 157.4L815.6 157.0L816.6 156.7L817.5 156.3L818.4 156.0L819.3 155.6L820.2 155.3L821.1 155.0L822.0 154.7L823.0 154.5L823.9 154.2L824.8 153.9L825.7 153.7L826.6 153.5L827.5 153.3L828.4 153.1L829.4 152.9L830.3 152.7L831.2 152.6L832.1 152.4L833.0 152.3L833.9 152.2L834.8 152.1L835.7 152.0L836.7 151.9L837.6 151.8L838.5 151.7L839.4 151.7L840.3 151.6L841.2 151.6L842.1 151.6L843.1 151.6L844.0 151.5L844.9 151.5L845.8 151.6L846.7 151.6L847.6 151.6L848.5 151.6L849.4 151.7L850.4 151.7L851.3 151.7L852.2 151.8L853.1 151.8L854.0 151.9L854.9 152.0L855.8 152.1L856.8 152.1L857.7 152.2L858.6 152.3L859.5 152.4L860.4 152.5L861.3 152.6L862.2 152.6L863.2 152.7L864.1 152.8L865.0 152.9L865.9 153.0L866.8 153.1L867.7 153.2L868.6 153.3L869.5 153.4L870.5 153.5L871.4 153.6L872.3 153.7L873.2 153.8L874.1 153.9L875.0 154.0L875.9 154.1L876.9 154.2L877.8 154.3L878.7 154.4L879.6 154.5L880.5 154.6L881.4 154.7L882.3 154.8L883.3 154.9L884.2 154.9L885.1 155.0L886.0 155.1L886.9 155.2L887.8 155.2L888.7 155.3L889.6 155.4L890.6 155.5" stroke="#ec4a22"/>
<path d="M617.4 261.4L618.3 260.7L619.2 259.9L620.1 258.9L621.1 257.8L622.0 256.6L622.9 255.3L623.8 253.9L624.7 252.3L625.6 250.6L626.5 248.8L627.4 246.8L628.4 244.8L629.3 242.7L630.2 240.4L631.1 238.1L632.0 235.7L632.9 233.2L633.8 230.6L634.8 227.9L635.7 225.1L636.6 222.3L637.5 219.4L638.4 216.5L639.3 213.5L640.2 210.4L641.2 207.3L642.1 204.2L643.0 201.0L643.9 197.8L644.8 194.6L645.7 191.3L646.6 188.0L647.5 184.8L648.5 181.5L649.4 178.2L650.3 174.9L651.2 171.6L652.1 168.4L653.0 165.1L653.9 161.9L654.9 158.7L655.8 155.6L656.7 152.5L657.6 149.4L658.5 146.4L659.4 143.4L660.3 140.4L661.3 137.6L662.2 134.8L663.1 132.0L664.0 129.3L664.9 126.7L665.8 124.2L666.7 121.7L667.6 119.4L668.6 117.1L669.5 114.9L670.4 112.7L671.3 110.7L672.2 108.7L673.1 106.9L674.0 105.1L675.0 103.5L675.9 101.9L676.8 100.4L677.7 99.1L678.6 97.8L679.5 96.6L680.4 95.5L681.4 94.6L682.3 93.7L683.2 92.9L684.1 92.3L685.0 91.7L685.9 91.2L686.8 90.8L687.7 90.5L688.7 90.4L689.6 90.3L690.5 90.3L691.4 90.4L692.3 90.5L693.2 90.8L694.1 91.2L695.1 91.6L696.0 92.1L696.9 92.7L697.8 93.4L698.7 94.1L699.6 95.0L700.5 95.9L701.4 96.8L702.4 97.9L703.3 98.9L704.2 100.1L705.1 101.3L706.0 102.5L706.9 103.9L707.8 105.2L708.8 106.6L709.7 108.0L710.6 109.5L711.5 111.0L712.4 112.6L713.3 114.2L714.2 115.8L715.2 117.4L716.1 119.0L717.0 120.7L717.9 122.4L718.8 124.1L719.7 125.8L720.6 127.5L721.5 129.2L722.5 130.9L723.4 132.6L724.3 134.3L725.2 135.9L726.1 137.6L727.0 139.3L727.9 140.9L728.9 142.6L729.8 144.2L730.7 145.8L731.6 147.3L732.5 148.9L733.4 150.4L734.3 151.9L735.3 153.3L736.2 154.8L737.1 156.2L738.0 157.5L738.9 158.8L739.8 160.1L740.7 161.4L741.6 162.6L742.6 163.7L743.5 164.8L744.4 165.9L745.3 167.0L746.2 167.9L747.1 168.9L748.0 169.8L749.0 170.6L749.9 171.5L750.8 172.2L751.7 172.9L752.6 173.6L753.5 174.3L754.4 174.8L755.4 175.4L756.3 175.9L757.2 176.3L758.1 176.7L759.0 177.1L759.9 177.4L760.8 177.7L761.7 178.0L762.7 178.2L763.6 178.3L764.5 178.4L765.4 178.5L766.3 178.6L767.2 178.6L768.1 178.6L769.1 178.5L770.0 178.4L770.9 178.3L771.8 178.1L772.7 177.9L773.6 177.7L774.5 177.5L775.4 177.2L776.4 176.9L777.3 176.6L778.2 176.3L779.1 175.9L780.0 175.6L780.9 175.2L781.8 174.8L782.8 174.3L783.7 173.9L784.6 173.4L785.5 173.0L786.4 172.5L787.3 172.0L788.2 171.5L789.2 171.0L790.1 170.5L791.0 170.0L791.9 169.5L792.8 168.9L793.7 168.4L794.6 167.9L795.5 167.3L796.5 166.8L797.4 166.3L798.3 165.7L799.2 165.2L800.1 164.7L801.0 164.2L801.9 163.7L802.9 163.2L803.8 162.7L804.7 162.2L805.6 161.7L806.5 161.2L807.4 160.7L808.3 160.3L809.3 159.8L810.2 159.4L811.1 159.0L812.0 158.5L812.9 158.1L813.8 157.7L814.7 157.4L815.6 157.0L816.6 156.6L817.5 156.3L818.4 156.0L819.3 155.6L820.2 155.3L821.1 155.0L822.0 154.8L823.0 154.5L823.9 154.2L824.8 154.0L825.7 153.8L826.6 153.6L827.5 153.4L828.4 153.2L829.4 153.0L830.3 152.8L831.2 152.7L832.1 152.5L833.0 152.4L833.9 152.3L834.8 152.2L835.7 152.1L836.7 152.0L837.6 151.9L838.5 151.9L839.4 151.8L840.3 151.8L841.2 151.7L842.1 151.7L843.1 151.7L844.0 151.7L844.9 151.7L845.8 151.7L846.7 151.7L847.6 151.7L848.5 151.7L849.4 151.8L850.4 151.8L851.3 151.8L852.2 151.9L853.1 152.0L854.0 152.0L854.9 152.1L855.8 152.1L856.8 152.2L857.7 152.3L858.6 152.4L859.5 152.5L860.4 152.5L861.3 152.6L862.2 152.7L863.2 152.8L864.1 152.9L865.0 153.0L865.9 153.1L866.8 153.2L867.7 153.3L868.6 153.4L869.5 153.5L870.5 153.6L871.4 153.7L872.3 153.8L873.2 153.9L874.1 154.0L875.0 154.1L875.9 154.2L876.9 154.3L877.8 154.4L878.7 154.4L879.6 154.5L880.5 154.6L881.4 154.7L882.3 154.8L883.3 154.9L884.2 155.0L885.1 155.0L886.0 155.1L886.9 155.2L887.8 155.3L888.7 155.3L889.6 155.4L890.6 155.5" stroke="#f07e2a"/>
<path d="M617.4 244.2L618.3 243.7L619.2 243.1L620.1 242.4L621.1 241.6L622.0 240.6L622.9 239.6L623.8 238.4L624.7 237.2L625.6 235.8L626.5 234.3L627.4 232.8L628.4 231.1L629.3 229.4L630.2 227.5L631.1 225.6L632.0 223.6L632.9 221.5L633.8 219.4L634.8 217.1L635.7 214.9L636.6 212.5L637.5 210.1L638.4 207.6L639.3 205.1L640.2 202.5L641.2 199.9L642.1 197.2L643.0 194.5L643.9 191.8L644.8 189.1L645.7 186.3L646.6 183.5L647.5 180.7L648.5 177.9L649.4 175.1L650.3 172.3L651.2 169.5L652.1 166.7L653.0 163.9L653.9 161.1L654.9 158.4L655.8 155.6L656.7 152.9L657.6 150.3L658.5 147.6L659.4 145.1L660.3 142.5L661.3 140.0L662.2 137.6L663.1 135.2L664.0 132.8L664.9 130.5L665.8 128.3L666.7 126.1L667.6 124.0L668.6 122.0L669.5 120.1L670.4 118.2L671.3 116.4L672.2 114.7L673.1 113.0L674.0 111.4L675.0 110.0L675.9 108.6L676.8 107.2L677.7 106.0L678.6 104.9L679.5 103.8L680.4 102.8L681.4 101.9L682.3 101.1L683.2 100.4L684.1 99.8L685.0 99.3L685.9 98.8L686.8 98.4L687.7 98.2L688.7 98.0L689.6 97.8L690.5 97.8L691.4 97.9L692.3 98.0L693.2 98.2L694.1 98.5L695.1 98.8L696.0 99.3L696.9 99.8L697.8 100.3L698.7 101.0L699.6 101.7L700.5 102.5L701.4 103.3L702.4 104.2L703.3 105.1L704.2 106.1L705.1 107.2L706.0 108.3L706.9 109.4L707.8 110.6L708.8 111.8L709.7 113.1L710.6 114.4L711.5 115.7L712.4 117.1L713.3 118.5L714.2 119.9L715.2 121.3L716.1 122.8L717.0 124.3L717.9 125.8L718.8 127.3L719.7 128.8L720.6 130.3L721.5 131.8L722.5 133.3L723.4 134.9L724.3 136.4L725.2 137.9L726.1 139.4L727.0 140.9L727.9 142.4L728.9 143.9L729.8 145.3L730.7 146.8L731.6 148.2L732.5 149.6L733.4 150.9L734.3 152.3L735.3 153.6L736.2 154.9L737.1 156.1L738.0 157.4L738.9 158.6L739.8 159.7L740.7 160.9L741.6 162.0L742.6 163.0L743.5 164.0L744.4 165.0L745.3 166.0L746.2 166.9L747.1 167.8L748.0 168.6L749.0 169.4L749.9 170.1L750.8 170.8L751.7 171.5L752.6 172.1L753.5 172.7L754.4 173.2L755.4 173.7L756.3 174.2L757.2 174.6L758.1 175.0L759.0 175.3L759.9 175.6L760.8 175.9L761.7 176.1L762.7 176.3L763.6 176.5L764.5 176.6L765.4 176.7L766.3 176.7L767.2 176.8L768.1 176.7L769.1 176.7L770.0 176.6L770.9 176.5L771.8 176.4L772.7 176.2L773.6 176.0L774.5 175.8L775.4 175.6L776.4 175.3L777.3 175.0L778.2 174.7L779.1 174.4L780.0 174.1L780.9 173.7L781.8 173.4L782.8 173.0L783.7 172.6L784.6 172.1L785.5 171.7L786.4 171.3L787.3 170.8L788.2 170.4L789.2 169.9L790.1 169.4L791.0 169.0L791.9 168.5L792.8 168.0L793.7 167.5L794.6 167.0L795.5 166.5L796.5 166.0L797.4 165.5L798.3 165.1L799.2 164.6L800.1 164.1L801.0 163.6L801.9 163.1L802.9 162.7L803.8 162.2L804.7 161.7L805.6 161.3L806.5 160.9L807.4 160.4L808.3 160.0L809.3 159.6L810.2 159.2L811.1 158.8L812.0 158.4L812.9 158.0L813.8 157.6L814.7 157.3L815.6 156.9L816.6 156.6L817.5 156.3L818.4 156.0L819.3 155.7L820.2 155.4L821.1 155.1L822.0 154.8L823.0 154.6L823.9 154.4L824.8 154.1L825.7 153.9L826.6 153.7L827.5 153.5L828.4 153.3L829.4 153.2L830.3 153.0L831.2 152.9L832.1 152.7L833.0 152.6L833.9 152.5L834.8 152.4L835.7 152.3L836.7 152.2L837.6 152.2L838.5 152.1L839.4 152.0L840.3 152.0L841.2 152.0L842.1 151.9L843.1 151.9L844.0 151.9L844.9 151.9L845.8 151.9L846.7 151.9L847.6 151.9L848.5 152.0L849.4 152.0L850.4 152.0L851.3 152.1L852.2 152.1L853.1 152.2L854.0 152.2L854.9 152.3L855.8 152.4L856.8 152.4L857.7 152.5L858.6 152.6L859.5 152.6L860.4 152.7L861.3 152.8L862.2 152.9L863.2 153.0L864.1 153.1L865.0 153.2L865.9 153.2L866.8 153.3L867.7 153.4L868.6 153.5L869.5 153.6L870.5 153.7L871.4 153.8L872.3 153.9L873.2 154.0L874.1 154.1L875.0 154.2L875.9 154.3L876.9 154.3L877.8 154.4L878.7 154.5L879.6 154.6L880.5 154.7L881.4 154.8L882.3 154.9L883.3 154.9L884.2 155.0L885.1 155.1L886.0 155.2L886.9 155.2L887.8 155.3L888.7 155.4L889.6 155.4L890.6 155.5" stroke="#e2df2e"/>
<path d="M617.4 223.4L618.3 223.1L619.2 222.8L620.1 222.3L621.1 221.8L622.0 221.2L622.9 220.5L623.8 219.7L624.7 218.8L625.6 217.8L626.5 216.8L627.4 215.7L628.4 214.5L629.3 213.2L630.2 211.9L631.1 210.4L632.0 208.9L632.9 207.4L633.8 205.8L634.8 204.1L635.7 202.3L636.6 200.5L637.5 198.7L638.4 196.8L639.3 194.9L640.2 192.9L641.2 190.8L642.1 188.8L643.0 186.7L643.9 184.6L644.8 182.4L645.7 180.2L646.6 178.0L647.5 175.8L648.5 173.6L649.4 171.3L650.3 169.1L651.2 166.9L652.1 164.6L653.0 162.4L653.9 160.1L654.9 157.9L655.8 155.7L656.7 153.5L657.6 151.4L658.5 149.2L659.4 147.1L660.3 145.0L661.3 143.0L662.2 140.9L663.1 139.0L664.0 137.0L664.9 135.1L665.8 133.3L666.7 131.5L667.6 129.7L668.6 128.0L669.5 126.4L670.4 124.8L671.3 123.3L672.2 121.8L673.1 120.4L674.0 119.1L675.0 117.8L675.9 116.6L676.8 115.5L677.7 114.4L678.6 113.4L679.5 112.5L680.4 111.7L681.4 110.9L682.3 110.2L683.2 109.5L684.1 109.0L685.0 108.5L685.9 108.0L686.8 107.7L687.7 107.4L688.7 107.2L689.6 107.1L690.5 107.0L691.4 107.0L692.3 107.1L693.2 107.2L694.1 107.4L695.1 107.6L696.0 108.0L696.9 108.3L697.8 108.8L698.7 109.3L699.6 109.9L700.5 110.5L701.4 111.1L702.4 111.9L703.3 112.6L704.2 113.4L705.1 114.3L706.0 115.2L706.9 116.2L707.8 117.1L708.8 118.2L709.7 119.2L710.6 120.3L711.5 121.4L712.4 122.6L713.3 123.7L714.2 124.9L715.2 126.2L716.1 127.4L717.0 128.6L717.9 129.9L718.8 131.2L719.7 132.5L720.6 133.8L721.5 135.1L722.5 136.4L723.4 137.7L724.3 139.0L725.2 140.3L726.1 141.6L727.0 142.9L727.9 144.2L728.9 145.4L729.8 146.7L730.7 147.9L731.6 149.2L732.5 150.4L733.4 151.6L734.3 152.7L735.3 153.9L736.2 155.0L737.1 156.1L738.0 157.2L738.9 158.3L739.8 159.3L740.7 160.3L741.6 161.2L742.6 162.2L743.5 163.1L744.4 163.9L745.3 164.8L746.2 165.6L747.1 166.4L748.0 167.1L749.0 167.8L749.9 168.5L750.8 169.1L751.7 169.7L752.6 170.3L753.5 170.8L754.4 171.3L755.4 171.7L756.3 172.1L757.2 172.5L758.1 172.9L759.0 173.2L759.9 173.5L760.8 173.7L761.7 173.9L762.7 174.1L763.6 174.2L764.5 174.4L765.4 174.5L766.3 174.5L767.2 174.5L768.1 174.5L769.1 174.5L770.0 174.4L770.9 174.4L771.8 174.2L772.7 174.1L773.6 174.0L774.5 173.8L775.4 173.6L776.4 173.3L777.3 173.1L778.2 172.8L779.1 172.6L780.0 172.3L780.9 171.9L781.8 171.6L782.8 171.3L783.7 170.9L784.6 170.6L785.5 170.2L786.4 169.8L787.3 169.4L788.2 169.0L789.2 168.6L790.1 168.1L791.0 167.7L791.9 167.3L792.8 166.9L793.7 166.4L794.6 166.0L795.5 165.5L796.5 165.1L797.4 164.7L798.3 164.2L799.2 163.8L800.1 163.3L801.0 162.9L801.9 162.5L802.9 162.1L803.8 161.6L804.7 161.2L805.6 160.8L806.5 160.4L807.4 160.0L808.3 159.6L809.3 159.3L810.2 158.9L811.1 158.5L812.0 158.2L812.9 157.8L813.8 157.5L814.7 157.2L815.6 156.9L816.6 156.5L817.5 156.3L818.4 156.0L819.3 155.7L820.2 155.4L821.1 155.2L822.0 154.9L823.0 154.7L823.9 154.5L824.8 154.3L825.7 154.1L826.6 153.9L827.5 153.7L828.4 153.6L829.4 153.4L830.3 153.3L831.2 153.1L832.1 153.0L833.0 152.9L833.9 152.8L834.8 152.7L835.7 152.6L836.7 152.5L837.6 152.5L838.5 152.4L839.4 152.3L840.3 152.3L841.2 152.3L842.1 152.2L843.1 152.2L844.0 152.2L844.9 152.2L845.8 152.2L846.7 152.2L847.6 152.2L848.5 152.3L849.4 152.3L850.4 152.3L851.3 152.4L852.2 152.4L853.1 152.4L854.0 152.5L854.9 152.6L855.8 152.6L856.8 152.7L857.7 152.7L858.6 152.8L859.5 152.9L860.4 153.0L861.3 153.0L862.2 153.1L863.2 153.2L864.1 153.3L865.0 153.4L865.9 153.4L866.8 153.5L867.7 153.6L868.6 153.7L869.5 153.8L870.5 153.9L871.4 153.9L872.3 154.0L873.2 154.1L874.1 154.2L875.0 154.3L875.9 154.4L876.9 154.5L877.8 154.5L878.7 154.6L879.6 154.7L880.5 154.8L881.4 154.9L882.3 154.9L883.3 155.0L884.2 155.1L885.1 155.1L886.0 155.2L886.9 155.3L887.8 155.3L888.7 155.4L889.6 155.5L890.6 155.5" stroke="#a6c63a"/>
<path d="M617.4 201.3L618.3 201.2L619.2 201.1L620.1 200.9L621.1 200.6L622.0 200.3L622.9 199.9L623.8 199.5L624.7 199.0L625.6 198.4L626.5 197.8L627.4 197.1L628.4 196.4L629.3 195.6L630.2 194.8L631.1 193.9L632.0 192.9L632.9 191.9L633.8 190.8L634.8 189.7L635.7 188.6L636.6 187.4L637.5 186.1L638.4 184.8L639.3 183.5L640.2 182.2L641.2 180.8L642.1 179.4L643.0 177.9L643.9 176.4L644.8 174.9L645.7 173.4L646.6 171.8L647.5 170.3L648.5 168.7L649.4 167.1L650.3 165.5L651.2 163.9L652.1 162.3L653.0 160.6L653.9 159.0L654.9 157.4L655.8 155.8L656.7 154.2L657.6 152.6L658.5 151.0L659.4 149.4L660.3 147.9L661.3 146.4L662.2 144.9L663.1 143.4L664.0 141.9L664.9 140.5L665.8 139.1L666.7 137.7L667.6 136.4L668.6 135.1L669.5 133.8L670.4 132.6L671.3 131.4L672.2 130.3L673.1 129.2L674.0 128.2L675.0 127.2L675.9 126.2L676.8 125.3L677.7 124.5L678.6 123.7L679.5 122.9L680.4 122.2L681.4 121.6L682.3 121.0L683.2 120.5L684.1 120.0L685.0 119.6L685.9 119.2L686.8 118.9L687.7 118.6L688.7 118.4L689.6 118.3L690.5 118.2L691.4 118.1L692.3 118.1L693.2 118.2L694.1 118.3L695.1 118.4L696.0 118.6L696.9 118.9L697.8 119.2L698.7 119.6L699.6 119.9L700.5 120.4L701.4 120.9L702.4 121.4L703.3 122.0L704.2 122.6L705.1 123.2L706.0 123.9L706.9 124.6L707.8 125.3L708.8 126.1L709.7 126.9L710.6 127.7L711.5 128.6L712.4 129.5L713.3 130.4L714.2 131.3L715.2 132.3L716.1 133.2L717.0 134.2L717.9 135.2L718.8 136.2L719.7 137.2L720.6 138.2L721.5 139.2L722.5 140.3L723.4 141.3L724.3 142.3L725.2 143.4L726.1 144.4L727.0 145.4L727.9 146.5L728.9 147.5L729.8 148.5L730.7 149.5L731.6 150.5L732.5 151.4L733.4 152.4L734.3 153.4L735.3 154.3L736.2 155.2L737.1 156.1L738.0 157.0L738.9 157.8L739.8 158.7L740.7 159.5L741.6 160.3L742.6 161.0L743.5 161.8L744.4 162.5L745.3 163.2L746.2 163.9L747.1 164.5L748.0 165.1L749.0 165.7L749.9 166.3L750.8 166.8L751.7 167.3L752.6 167.8L753.5 168.2L754.4 168.6L755.4 169.0L756.3 169.3L757.2 169.7L758.1 170.0L759.0 170.2L759.9 170.5L760.8 170.7L761.7 170.9L762.7 171.1L763.6 171.2L764.5 171.3L765.4 171.4L766.3 171.4L767.2 171.5L768.1 171.5L769.1 171.5L770.0 171.4L770.9 171.4L771.8 171.3L772.7 171.2L773.6 171.1L774.5 170.9L775.4 170.8L776.4 170.6L777.3 170.4L778.2 170.2L779.1 169.9L780.0 169.7L780.9 169.4L781.8 169.2L782.8 168.9L783.7 168.6L784.6 168.3L785.5 168.0L786.4 167.7L787.3 167.3L788.2 167.0L789.2 166.7L790.1 166.3L791.0 166.0L791.9 165.6L792.8 165.2L793.7 164.9L794.6 164.5L795.5 164.1L796.5 163.8L797.4 163.4L798.3 163.0L799.2 162.6L800.1 162.3L801.0 161.9L801.9 161.5L802.9 161.2L803.8 160.8L804.7 160.5L805.6 160.1L806.5 159.8L807.4 159.5L808.3 159.1L809.3 158.8L810.2 158.5L811.1 158.2L812.0 157.9L812.9 157.6L813.8 157.3L814.7 157.0L815.6 156.7L816.6 156.5L817.5 156.2L818.4 156.0L819.3 155.7L820.2 155.5L821.1 155.3L822.0 155.1L823.0 154.9L823.9 154.7L824.8 154.5L825.7 154.3L826.6 154.2L827.5 154.0L828.4 153.9L829.4 153.7L830.3 153.6L831.2 153.5L832.1 153.4L833.0 153.3L833.9 153.2L834.8 153.1L835.7 153.0L836.7 153.0L837.6 152.9L838.5 152.9L839.4 152.8L840.3 152.8L841.2 152.7L842.1 152.7L843.1 152.7L844.0 152.7L844.9 152.7L845.8 152.7L846.7 152.7L847.6 152.7L848.5 152.7L849.4 152.7L850.4 152.8L851.3 152.8L852.2 152.8L853.1 152.9L854.0 152.9L854.9 153.0L855.8 153.0L856.8 153.1L857.7 153.1L858.6 153.2L859.5 153.2L860.4 153.3L861.3 153.4L862.2 153.4L863.2 153.5L864.1 153.6L865.0 153.7L865.9 153.7L866.8 153.8L867.7 153.9L868.6 154.0L869.5 154.0L870.5 154.1L871.4 154.2L872.3 154.3L873.2 154.3L874.1 154.4L875.0 154.5L875.9 154.6L876.9 154.6L877.8 154.7L878.7 154.8L879.6 154.8L880.5 154.9L881.4 155.0L882.3 155.0L883.3 155.1L884.2 155.2L885.1 155.2L886.0 155.3L886.9 155.4L887.8 155.4L888.7 155.5L889.6 155.5L890.6 155.6" stroke="#1b9641"/>
<path d="M617.4 181.0L618.3 181.1L619.2 181.2L620.1 181.2L621.1 181.2L622.0 181.1L622.9 181.1L623.8 180.9L624.7 180.8L625.6 180.5L626.5 180.3L627.4 180.0L628.4 179.7L629.3 179.3L630.2 178.9L631.1 178.5L632.0 178.0L632.9 177.5L633.8 176.9L634.8 176.4L635.7 175.7L636.6 175.1L637.5 174.4L638.4 173.7L639.3 172.9L640.2 172.2L641.2 171.3L642.1 170.5L643.0 169.7L643.9 168.8L644.8 167.9L645.7 167.0L646.6 166.0L647.5 165.0L648.5 164.1L649.4 163.1L650.3 162.1L651.2 161.1L652.1 160.0L653.0 159.0L653.9 158.0L654.9 156.9L655.8 155.9L656.7 154.8L657.6 153.8L658.5 152.7L659.4 151.7L660.3 150.6L661.3 149.6L662.2 148.6L663.1 147.6L664.0 146.6L664.9 145.6L665.8 144.7L666.7 143.7L667.6 142.8L668.6 141.9L669.5 141.0L670.4 140.1L671.3 139.3L672.2 138.5L673.1 137.7L674.0 137.0L675.0 136.2L675.9 135.5L676.8 134.9L677.7 134.2L678.6 133.6L679.5 133.1L680.4 132.6L681.4 132.1L682.3 131.6L683.2 131.2L684.1 130.8L685.0 130.4L685.9 130.1L686.8 129.9L687.7 129.6L688.7 129.4L689.6 129.3L690.5 129.2L691.4 129.1L692.3 129.0L693.2 129.0L694.1 129.0L695.1 129.1L696.0 129.2L696.9 129.4L697.8 129.5L698.7 129.7L699.6 130.0L700.5 130.3L701.4 130.6L702.4 130.9L703.3 131.3L704.2 131.7L705.1 132.1L706.0 132.6L706.9 133.0L707.8 133.6L708.8 134.1L709.7 134.6L710.6 135.2L711.5 135.8L712.4 136.4L713.3 137.1L714.2 137.7L715.2 138.4L716.1 139.1L717.0 139.8L717.9 140.5L718.8 141.2L719.7 142.0L720.6 142.7L721.5 143.5L722.5 144.2L723.4 145.0L724.3 145.7L725.2 146.5L726.1 147.3L727.0 148.0L727.9 148.8L728.9 149.6L729.8 150.3L730.7 151.1L731.6 151.8L732.5 152.5L733.4 153.3L734.3 154.0L735.3 154.7L736.2 155.4L737.1 156.1L738.0 156.8L738.9 157.4L739.8 158.1L740.7 158.7L741.6 159.3L742.6 159.9L743.5 160.5L744.4 161.0L745.3 161.6L746.2 162.1L747.1 162.6L748.0 163.1L749.0 163.5L749.9 164.0L750.8 164.4L751.7 164.8L752.6 165.1L753.5 165.5L754.4 165.8L755.4 166.1L756.3 166.4L757.2 166.7L758.1 166.9L759.0 167.2L759.9 167.4L760.8 167.5L761.7 167.7L762.7 167.8L763.6 168.0L764.5 168.1L765.4 168.1L766.3 168.2L767.2 168.2L768.1 168.2L769.1 168.2L770.0 168.2L770.9 168.2L771.8 168.1L772.7 168.1L773.6 168.0L774.5 167.9L775.4 167.8L776.4 167.6L777.3 167.5L778.2 167.3L779.1 167.1L780.0 167.0L780.9 166.8L781.8 166.6L782.8 166.3L783.7 166.1L784.6 165.9L785.5 165.6L786.4 165.4L787.3 165.1L788.2 164.9L789.2 164.6L790.1 164.3L791.0 164.0L791.9 163.8L792.8 163.5L793.7 163.2L794.6 162.9L795.5 162.6L796.5 162.3L797.4 162.0L798.3 161.7L799.2 161.4L800.1 161.1L801.0 160.8L801.9 160.5L802.9 160.2L803.8 159.9L804.7 159.7L805.6 159.4L806.5 159.1L807.4 158.8L808.3 158.6L809.3 158.3L810.2 158.0L811.1 157.8L812.0 157.5L812.9 157.3L813.8 157.1L814.7 156.8L815.6 156.6L816.6 156.4L817.5 156.2L818.4 156.0L819.3 155.8L820.2 155.6L821.1 155.4L822.0 155.2L823.0 155.1L823.9 154.9L824.8 154.8L825.7 154.6L826.6 154.5L827.5 154.4L828.4 154.2L829.4 154.1L830.3 154.0L831.2 153.9L832.1 153.8L833.0 153.7L833.9 153.7L834.8 153.6L835.7 153.5L836.7 153.5L837.6 153.4L838.5 153.4L839.4 153.3L840.3 153.3L841.2 153.3L842.1 153.2L843.1 153.2L844.0 153.2L844.9 153.2L845.8 153.2L846.7 153.2L847.6 153.2L848.5 153.2L849.4 153.3L850.4 153.3L851.3 153.3L852.2 153.3L853.1 153.4L854.0 153.4L854.9 153.4L855.8 153.5L856.8 153.5L857.7 153.6L858.6 153.6L859.5 153.7L860.4 153.7L861.3 153.8L862.2 153.8L863.2 153.9L864.1 153.9L865.0 154.0L865.9 154.1L866.8 154.1L867.7 154.2L868.6 154.3L869.5 154.3L870.5 154.4L871.4 154.4L872.3 154.5L873.2 154.6L874.1 154.6L875.0 154.7L875.9 154.8L876.9 154.8L877.8 154.9L878.7 154.9L879.6 155.0L880.5 155.1L881.4 155.1L882.3 155.2L883.3 155.2L884.2 155.3L885.1 155.3L886.0 155.4L886.9 155.4L887.8 155.5L888.7 155.5L889.6 155.6L890.6 155.6" stroke="#4db3aa"/>
<path d="M617.4 163.7L618.3 163.8L619.2 164.0L620.1 164.1L621.1 164.2L622.0 164.3L622.9 164.4L623.8 164.5L624.7 164.5L625.6 164.6L626.5 164.6L627.4 164.6L628.4 164.6L629.3 164.5L630.2 164.5L631.1 164.4L632.0 164.3L632.9 164.2L633.8 164.0L634.8 163.9L635.7 163.7L636.6 163.5L637.5 163.3L638.4 163.1L639.3 162.8L640.2 162.6L641.2 162.3L642.1 162.0L643.0 161.7L643.9 161.4L644.8 161.0L645.7 160.7L646.6 160.3L647.5 159.9L648.5 159.5L649.4 159.1L650.3 158.7L651.2 158.2L652.1 157.8L653.0 157.3L653.9 156.9L654.9 156.4L655.8 155.9L656.7 155.5L657.6 155.0L658.5 154.5L659.4 154.0L660.3 153.5L661.3 153.0L662.2 152.5L663.1 152.0L664.0 151.5L664.9 151.0L665.8 150.6L666.7 150.1L667.6 149.6L668.6 149.1L669.5 148.7L670.4 148.2L671.3 147.8L672.2 147.4L673.1 146.9L674.0 146.5L675.0 146.1L675.9 145.8L676.8 145.4L677.7 145.0L678.6 144.7L679.5 144.4L680.4 144.1L681.4 143.8L682.3 143.5L683.2 143.2L684.1 143.0L685.0 142.8L685.9 142.6L686.8 142.4L687.7 142.2L688.7 142.1L689.6 141.9L690.5 141.8L691.4 141.8L692.3 141.7L693.2 141.7L694.1 141.6L695.1 141.6L696.0 141.6L696.9 141.7L697.8 141.7L698.7 141.8L699.6 141.9L700.5 142.0L701.4 142.1L702.4 142.3L703.3 142.5L704.2 142.7L705.1 142.9L706.0 143.1L706.9 143.3L707.8 143.6L708.8 143.8L709.7 144.1L710.6 144.4L711.5 144.7L712.4 145.0L713.3 145.4L714.2 145.7L715.2 146.1L716.1 146.5L717.0 146.8L717.9 147.2L718.8 147.6L719.7 148.0L720.6 148.4L721.5 148.8L722.5 149.2L723.4 149.7L724.3 150.1L725.2 150.5L726.1 151.0L727.0 151.4L727.9 151.8L728.9 152.3L729.8 152.7L730.7 153.1L731.6 153.6L732.5 154.0L733.4 154.4L734.3 154.8L735.3 155.2L736.2 155.6L737.1 156.0L738.0 156.4L738.9 156.8L739.8 157.2L740.7 157.6L741.6 158.0L742.6 158.3L743.5 158.7L744.4 159.0L745.3 159.3L746.2 159.6L747.1 160.0L748.0 160.2L749.0 160.5L749.9 160.8L750.8 161.1L751.7 161.3L752.6 161.5L753.5 161.8L754.4 162.0L755.4 162.2L756.3 162.4L757.2 162.5L758.1 162.7L759.0 162.8L759.9 163.0L760.8 163.1L761.7 163.2L762.7 163.3L763.6 163.4L764.5 163.4L765.4 163.5L766.3 163.5L767.2 163.6L768.1 163.6L769.1 163.6L770.0 163.6L770.9 163.6L771.8 163.6L772.7 163.5L773.6 163.5L774.5 163.4L775.4 163.4L776.4 163.3L777.3 163.2L778.2 163.1L779.1 163.0L780.0 162.9L780.9 162.8L781.8 162.7L782.8 162.6L783.7 162.4L784.6 162.3L785.5 162.1L786.4 162.0L787.3 161.8L788.2 161.7L789.2 161.5L790.1 161.3L791.0 161.1L791.9 161.0L792.8 160.8L793.7 160.6L794.6 160.4L795.5 160.2L796.5 160.1L797.4 159.9L798.3 159.7L799.2 159.5L800.1 159.3L801.0 159.1L801.9 158.9L802.9 158.7L803.8 158.6L804.7 158.4L805.6 158.2L806.5 158.0L807.4 157.8L808.3 157.7L809.3 157.5L810.2 157.3L811.1 157.2L812.0 157.0L812.9 156.9L813.8 156.7L814.7 156.5L815.6 156.4L816.6 156.3L817.5 156.1L818.4 156.0L819.3 155.9L820.2 155.7L821.1 155.6L822.0 155.5L823.0 155.4L823.9 155.3L824.8 155.2L825.7 155.1L826.6 155.0L827.5 154.9L828.4 154.8L829.4 154.7L830.3 154.7L831.2 154.6L832.1 154.5L833.0 154.5L833.9 154.4L834.8 154.4L835.7 154.3L836.7 154.3L837.6 154.3L838.5 154.2L839.4 154.2L840.3 154.2L841.2 154.2L842.1 154.1L843.1 154.1L844.0 154.1L844.9 154.1L845.8 154.1L846.7 154.1L847.6 154.1L848.5 154.1L849.4 154.1L850.4 154.1L851.3 154.2L852.2 154.2L853.1 154.2L854.0 154.2L854.9 154.2L855.8 154.3L856.8 154.3L857.7 154.3L858.6 154.4L859.5 154.4L860.4 154.4L861.3 154.5L862.2 154.5L863.2 154.5L864.1 154.6L865.0 154.6L865.9 154.7L866.8 154.7L867.7 154.7L868.6 154.8L869.5 154.8L870.5 154.9L871.4 154.9L872.3 155.0L873.2 155.0L874.1 155.1L875.0 155.1L875.9 155.1L876.9 155.2L877.8 155.2L878.7 155.3L879.6 155.3L880.5 155.3L881.4 155.4L882.3 155.4L883.3 155.5L884.2 155.5L885.1 155.5L886.0 155.6L886.9 155.6L887.8 155.6L888.7 155.7L889.6 155.7L890.6 155.7" stroke="#1ca2d4"/>
<path d="M617.4 152.6L618.3 152.8L619.2 152.9L620.1 153.0L621.1 153.1L622.0 153.3L622.9 153.4L623.8 153.5L624.7 153.7L625.6 153.8L626.5 153.9L627.4 154.1L628.4 154.2L629.3 154.3L630.2 154.5L631.1 154.6L632.0 154.7L632.9 154.8L633.8 155.0L634.8 155.1L635.7 155.2L636.6 155.3L637.5 155.4L638.4 155.5L639.3 155.6L640.2 155.7L641.2 155.7L642.1 155.8L643.0 155.9L643.9 155.9L644.8 156.0L645.7 156.0L646.6 156.0L647.5 156.1L648.5 156.1L649.4 156.1L650.3 156.1L651.2 156.1L652.1 156.1L653.0 156.1L653.9 156.1L654.9 156.0L655.8 156.0L656.7 155.9L657.6 155.9L658.5 155.8L659.4 155.8L660.3 155.7L661.3 155.6L662.2 155.5L663.1 155.4L664.0 155.3L664.9 155.2L665.8 155.1L666.7 155.0L667.6 154.9L668.6 154.8L669.5 154.7L670.4 154.5L671.3 154.4L672.2 154.3L673.1 154.2L674.0 154.0L675.0 153.9L675.9 153.8L676.8 153.6L677.7 153.5L678.6 153.3L679.5 153.2L680.4 153.1L681.4 152.9L682.3 152.8L683.2 152.7L684.1 152.6L685.0 152.4L685.9 152.3L686.8 152.2L687.7 152.1L688.7 152.0L689.6 151.9L690.5 151.8L691.4 151.7L692.3 151.6L693.2 151.5L694.1 151.5L695.1 151.4L696.0 151.3L696.9 151.3L697.8 151.2L698.7 151.2L699.6 151.2L700.5 151.2L701.4 151.1L702.4 151.1L703.3 151.1L704.2 151.1L705.1 151.2L706.0 151.2L706.9 151.2L707.8 151.3L708.8 151.3L709.7 151.4L710.6 151.4L711.5 151.5L712.4 151.6L713.3 151.7L714.2 151.8L715.2 151.9L716.1 152.0L717.0 152.1L717.9 152.3L718.8 152.4L719.7 152.5L720.6 152.7L721.5 152.8L722.5 153.0L723.4 153.2L724.3 153.3L725.2 153.5L726.1 153.7L727.0 153.9L727.9 154.0L728.9 154.2L729.8 154.4L730.7 154.6L731.6 154.8L732.5 155.0L733.4 155.2L734.3 155.4L735.3 155.6L736.2 155.8L737.1 156.0L738.0 156.2L738.9 156.4L739.8 156.6L740.7 156.8L741.6 157.0L742.6 157.2L743.5 157.4L744.4 157.6L745.3 157.8L746.2 158.0L747.1 158.2L748.0 158.3L749.0 158.5L749.9 158.7L750.8 158.8L751.7 159.0L752.6 159.2L753.5 159.3L754.4 159.4L755.4 159.6L756.3 159.7L757.2 159.8L758.1 160.0L759.0 160.1L759.9 160.2L760.8 160.3L761.7 160.4L762.7 160.4L763.6 160.5L764.5 160.6L765.4 160.6L766.3 160.7L767.2 160.8L768.1 160.8L769.1 160.8L770.0 160.9L770.9 160.9L771.8 160.9L772.7 160.9L773.6 160.9L774.5 160.9L775.4 160.9L776.4 160.8L777.3 160.8L778.2 160.8L779.1 160.7L780.0 160.7L780.9 160.6L781.8 160.6L782.8 160.5L783.7 160.4L784.6 160.4L785.5 160.3L786.4 160.2L787.3 160.1L788.2 160.0L789.2 159.9L790.1 159.8L791.0 159.7L791.9 159.6L792.8 159.5L793.7 159.4L794.6 159.3L795.5 159.1L796.5 159.0L797.4 158.9L798.3 158.8L799.2 158.6L800.1 158.5L801.0 158.4L801.9 158.2L802.9 158.1L803.8 158.0L804.7 157.8L805.6 157.7L806.5 157.6L807.4 157.4L808.3 157.3L809.3 157.2L810.2 157.1L811.1 156.9L812.0 156.8L812.9 156.7L813.8 156.6L814.7 156.4L815.6 156.3L816.6 156.2L817.5 156.1L818.4 156.0L819.3 155.9L820.2 155.8L821.1 155.7L822.0 155.6L823.0 155.5L823.9 155.4L824.8 155.3L825.7 155.2L826.6 155.1L827.5 155.1L828.4 155.0L829.4 154.9L830.3 154.8L831.2 154.8L832.1 154.7L833.0 154.7L833.9 154.6L834.8 154.6L835.7 154.5L836.7 154.5L837.6 154.4L838.5 154.4L839.4 154.4L840.3 154.3L841.2 154.3L842.1 154.3L843.1 154.3L844.0 154.2L844.9 154.2L845.8 154.2L846.7 154.2L847.6 154.2L848.5 154.2L849.4 154.2L850.4 154.2L851.3 154.2L852.2 154.2L853.1 154.3L854.0 154.3L854.9 154.3L855.8 154.3L856.8 154.3L857.7 154.4L858.6 154.4L859.5 154.4L860.4 154.4L861.3 154.5L862.2 154.5L863.2 154.5L864.1 154.6L865.0 154.6L865.9 154.6L866.8 154.7L867.7 154.7L868.6 154.8L869.5 154.8L870.5 154.8L871.4 154.9L872.3 154.9L873.2 155.0L874.1 155.0L875.0 155.0L875.9 155.1L876.9 155.1L877.8 155.2L878.7 155.2L879.6 155.3L880.5 155.3L881.4 155.3L882.3 155.4L883.3 155.4L884.2 155.5L885.1 155.5L886.0 155.5L886.9 155.6L887.8 155.6L888.7 155.6L889.6 155.7L890.6 155.7" stroke="#2b2d8a"/>
<path d="M617.4 148.8L618.3 148.9L619.2 148.9L620.1 149.0L621.1 149.0L622.0 149.1L622.9 149.2L623.8 149.3L624.7 149.4L625.6 149.5L626.5 149.6L627.4 149.8L628.4 149.9L629.3 150.1L630.2 150.2L631.1 150.4L632.0 150.6L632.9 150.7L633.8 150.9L634.8 151.1L635.7 151.3L636.6 151.5L637.5 151.7L638.4 151.9L639.3 152.1L640.2 152.4L641.2 152.6L642.1 152.8L643.0 153.0L643.9 153.2L644.8 153.5L645.7 153.7L646.6 153.9L647.5 154.1L648.5 154.3L649.4 154.6L650.3 154.8L651.2 155.0L652.1 155.2L653.0 155.4L653.9 155.6L654.9 155.8L655.8 156.0L656.7 156.2L657.6 156.4L658.5 156.6L659.4 156.8L660.3 156.9L661.3 157.1L662.2 157.3L663.1 157.4L664.0 157.6L664.9 157.7L665.8 157.8L666.7 157.9L667.6 158.1L668.6 158.2L669.5 158.3L670.4 158.4L671.3 158.4L672.2 158.5L673.1 158.6L674.0 158.7L675.0 158.7L675.9 158.8L676.8 158.8L677.7 158.8L678.6 158.9L679.5 158.9L680.4 158.9L681.4 158.9L682.3 158.9L683.2 158.9L684.1 158.9L685.0 158.8L685.9 158.8L686.8 158.8L687.7 158.7L688.7 158.7L689.6 158.6L690.5 158.6L691.4 158.5L692.3 158.5L693.2 158.4L694.1 158.3L695.1 158.3L696.0 158.2L696.9 158.1L697.8 158.0L698.7 158.0L699.6 157.9L700.5 157.8L701.4 157.7L702.4 157.6L703.3 157.5L704.2 157.5L705.1 157.4L706.0 157.3L706.9 157.2L707.8 157.1L708.8 157.0L709.7 157.0L710.6 156.9L711.5 156.8L712.4 156.7L713.3 156.7L714.2 156.6L715.2 156.5L716.1 156.5L717.0 156.4L717.9 156.4L718.8 156.3L719.7 156.2L720.6 156.2L721.5 156.2L722.5 156.1L723.4 156.1L724.3 156.1L725.2 156.0L726.1 156.0L727.0 156.0L727.9 156.0L728.9 155.9L729.8 155.9L730.7 155.9L731.6 155.9L732.5 155.9L733.4 155.9L734.3 156.0L735.3 156.0L736.2 156.0L737.1 156.0L738.0 156.0L738.9 156.1L739.8 156.1L740.7 156.1L741.6 156.1L742.6 156.2L743.5 156.2L744.4 156.3L745.3 156.3L746.2 156.4L747.1 156.4L748.0 156.4L749.0 156.5L749.9 156.5L750.8 156.6L751.7 156.7L752.6 156.7L753.5 156.8L754.4 156.8L755.4 156.9L756.3 156.9L757.2 157.0L758.1 157.0L759.0 157.1L759.9 157.1L760.8 157.2L761.7 157.2L762.7 157.3L763.6 157.3L764.5 157.4L765.4 157.4L766.3 157.4L767.2 157.5L768.1 157.5L769.1 157.6L770.0 157.6L770.9 157.6L771.8 157.6L772.7 157.7L773.6 157.7L774.5 157.7L775.4 157.7L776.4 157.7L777.3 157.8L778.2 157.8L779.1 157.8L780.0 157.8L780.9 157.8L781.8 157.8L782.8 157.8L783.7 157.8L784.6 157.7L785.5 157.7L786.4 157.7L787.3 157.7L788.2 157.7L789.2 157.6L790.1 157.6L791.0 157.6L791.9 157.6L792.8 157.5L793.7 157.5L794.6 157.4L795.5 157.4L796.5 157.4L797.4 157.3L798.3 157.3L799.2 157.2L800.1 157.2L801.0 157.1L801.9 157.1L802.9 157.0L803.8 156.9L804.7 156.9L805.6 156.8L806.5 156.8L807.4 156.7L808.3 156.7L809.3 156.6L810.2 156.5L811.1 156.5L812.0 156.4L812.9 156.4L813.8 156.3L814.7 156.2L815.6 156.2L816.6 156.1L817.5 156.1L818.4 156.0L819.3 155.9L820.2 155.9L821.1 155.8L822.0 155.8L823.0 155.7L823.9 155.7L824.8 155.6L825.7 155.6L826.6 155.5L827.5 155.5L828.4 155.4L829.4 155.4L830.3 155.3L831.2 155.3L832.1 155.3L833.0 155.2L833.9 155.2L834.8 155.2L835.7 155.1L836.7 155.1L837.6 155.1L838.5 155.0L839.4 155.0L840.3 155.0L841.2 155.0L842.1 155.0L843.1 155.0L844.0 154.9L844.9 154.9L845.8 154.9L846.7 154.9L847.6 154.9L848.5 154.9L849.4 154.9L850.4 154.9L851.3 154.9L852.2 154.9L853.1 154.9L854.0 154.9L854.9 154.9L855.8 154.9L856.8 154.9L857.7 154.9L858.6 155.0L859.5 155.0L860.4 155.0L861.3 155.0L862.2 155.0L863.2 155.0L864.1 155.1L865.0 155.1L865.9 155.1L866.8 155.1L867.7 155.1L868.6 155.2L869.5 155.2L870.5 155.2L871.4 155.2L872.3 155.3L873.2 155.3L874.1 155.3L875.0 155.3L875.9 155.4L876.9 155.4L877.8 155.4L878.7 155.5L879.6 155.5L880.5 155.5L881.4 155.5L882.3 155.6L883.3 155.6L884.2 155.6L885.1 155.6L886.0 155.7L886.9 155.7L887.8 155.7L888.7 155.7L889.6 155.8L890.6 155.8" stroke="#9e1a5c"/>
</g>
<clipPath id="cc0"><rect x="99.5" y="376.0" width="705.7" height="322.8"/></clipPath>
<g clip-path="url(#cc0)"><g shape-rendering="crispEdges">
<path fill="#f8f8fd" d="M100 583h8v3h-8zM100 580h8v3h-8zM100 492h8v2h-8zM108 580h9v3h-9zM117 583h9v3h-9zM117 580h9v3h-9zM117 489h9v3h-9zM126 580h9v3h-9zM135 583h9v3h-9zM135 580h9v3h-9zM135 492h9v2h-9zM135 489h9v3h-9zM144 492h8v2h-8zM152 489h9v3h-9zM161 583h9v3h-9zM179 580h9v3h-9zM179 486h9v3h-9zM188 580h9v3h-9zM223 492h9v2h-9zM232 589h9v2h-9zM232 586h9v3h-9zM241 594h8v3h-8zM249 599h9v3h-9zM258 610h9v3h-9zM258 494h9v3h-9zM258 492h9v2h-9zM267 618h9v3h-9zM267 492h9v2h-9zM276 621h9v2h-9zM276 492h9v2h-9zM285 621h9v2h-9zM294 494h8v3h-8zM294 492h8v2h-8zM302 621h9v2h-9zM302 492h9v2h-9zM311 618h9v3h-9zM311 494h9v3h-9zM311 492h9v2h-9zM320 610h9v3h-9zM320 489h9v3h-9zM329 476h9v2h-9zM338 591h8v3h-8zM338 459h8v3h-8zM338 457h8v2h-8zM338 454h8v3h-8zM338 446h8v3h-8zM346 580h9v3h-9zM346 427h9v3h-9zM346 424h9v3h-9zM355 411h9v3h-9zM355 408h9v3h-9zM364 392h9v3h-9zM364 387h9v2h-9zM373 578h9v2h-9zM373 575h9v3h-9zM373 379h9v2h-9zM382 578h9v2h-9zM417 578h9v2h-9zM417 575h9v3h-9zM417 379h9v2h-9zM426 389h9v3h-9zM435 411h9v3h-9zM435 406h9v2h-9zM444 602h8v3h-8zM444 470h8v3h-8zM452 629h9v3h-9zM452 465h9v2h-9zM461 650h9v3h-9zM461 484h9v2h-9zM461 481h9v3h-9zM479 669h9v3h-9zM479 494h9v3h-9zM496 680h9v3h-9zM496 677h9v3h-9zM505 683h9v2h-9zM505 680h9v3h-9zM514 680h9v3h-9zM514 675h9v2h-9zM514 497h9v3h-9zM514 494h9v3h-9zM523 497h9v3h-9zM532 661h9v3h-9zM532 494h9v3h-9zM541 656h8v2h-8zM541 650h8v3h-8zM541 492h8v2h-8zM549 640h9v2h-9zM549 637h9v3h-9zM549 634h9v3h-9zM558 621h9v2h-9zM558 484h9v2h-9zM567 599h9v3h-9zM567 594h9v3h-9zM567 591h9v3h-9zM585 578h8v2h-8zM585 457h8v2h-8zM593 580h9v3h-9zM593 578h9v2h-9zM593 449h9v2h-9zM602 578h9v2h-9zM602 449h9v2h-9zM611 578h9v2h-9zM638 578h8v2h-8zM638 465h8v2h-8zM655 484h9v2h-9zM655 478h9v3h-9zM664 486h9v3h-9zM673 489h9v3h-9zM682 583h9v3h-9zM682 489h9v3h-9zM699 583h9v3h-9zM699 492h9v2h-9zM708 489h9v3h-9zM717 492h9v2h-9zM726 583h9v3h-9zM735 583h8v3h-8zM735 492h8v2h-8zM743 580h9v3h-9zM743 489h9v3h-9zM752 489h9v3h-9zM770 580h9v3h-9zM770 492h9v2h-9zM779 580h9v3h-9zM788 489h8v3h-8zM796 580h9v3h-9zM796 492h9v2h-9z"/>
<path fill="#d9d9ed" d="M100 578h8v2h-8zM117 578h9v2h-9zM223 578h9v2h-9zM346 575h9v3h-9zM549 623h9v3h-9zM638 470h8v3h-8zM646 492h9v2h-9zM673 494h9v3h-9zM743 494h9v3h-9zM752 494h9v3h-9zM796 578h9v2h-9z"/>
<path fill="#f3f3fa" d="M100 575h8v3h-8zM100 497h8v3h-8zM108 575h9v3h-9zM108 497h9v3h-9zM258 597h9v2h-9zM285 610h9v3h-9zM320 594h9v3h-9zM355 430h9v2h-9zM382 387h9v2h-9zM426 408h9v3h-9zM576 572h9v3h-9zM761 497h9v3h-9zM796 497h9v3h-9z"/>
<path fill="#bfbfdf" d="M100 572h8v3h-8zM117 572h9v3h-9zM117 500h9v2h-9zM302 602h9v3h-9zM444 473h8v3h-8zM761 572h9v3h-9zM761 500h9v2h-9zM788 500h8v2h-8z"/>
<path fill="#7676b6" d="M100 570h8v2h-8zM267 591h9v3h-9zM285 599h9v3h-9zM382 408h9v3h-9zM382 400h9v3h-9zM470 623h9v3h-9zM558 570h9v2h-9zM629 481h9v3h-9zM788 570h8v2h-8z"/>
<path fill="#1b388d" d="M100 567h8v3h-8zM100 564h8v3h-8zM117 508h9v2h-9zM126 508h9v2h-9zM144 508h8v2h-8zM152 562h9v2h-9zM161 562h9v2h-9zM161 508h9v2h-9zM188 562h9v2h-9zM205 564h9v3h-9zM205 508h9v2h-9zM223 564h9v3h-9zM232 564h9v3h-9zM232 562h9v2h-9zM249 570h9v2h-9zM249 510h9v3h-9zM267 572h9v3h-9zM267 570h9v2h-9zM276 578h9v2h-9zM276 572h9v3h-9zM276 516h9v3h-9zM276 513h9v3h-9zM285 580h9v3h-9zM285 572h9v3h-9zM285 513h9v3h-9zM294 513h8v3h-8zM302 570h9v2h-9zM302 513h9v3h-9zM311 564h9v3h-9zM338 562h8v2h-8zM338 559h8v3h-8zM338 510h8v3h-8zM346 559h9v3h-9zM355 559h9v3h-9zM355 556h9v3h-9zM355 500h9v2h-9zM355 497h9v3h-9zM364 556h9v3h-9zM373 486h9v3h-9zM373 484h9v2h-9zM373 473h9v3h-9zM373 465h9v2h-9zM373 449h9v2h-9zM373 443h9v3h-9zM373 430h9v2h-9zM382 500h9v2h-9zM382 492h9v2h-9zM382 489h9v3h-9zM382 457h9v2h-9zM382 449h9v2h-9zM382 446h9v3h-9zM382 432h9v3h-9zM382 430h9v2h-9zM391 559h8v3h-8zM391 489h8v3h-8zM391 476h8v2h-8zM391 473h8v3h-8zM391 435h8v3h-8zM391 427h8v3h-8zM399 470h9v3h-9zM399 457h9v2h-9zM399 451h9v3h-9zM399 446h9v3h-9zM399 443h9v3h-9zM399 419h9v3h-9zM408 556h9v3h-9zM408 484h9v2h-9zM408 465h9v2h-9zM408 441h9v2h-9zM408 427h9v3h-9zM417 486h9v3h-9zM417 478h9v3h-9zM417 465h9v2h-9zM417 454h9v3h-9zM426 497h9v3h-9zM426 494h9v3h-9zM426 492h9v2h-9zM426 476h9v2h-9zM426 473h9v3h-9zM426 470h9v3h-9zM435 505h9v3h-9zM444 559h8v3h-8zM444 505h8v3h-8zM452 567h9v3h-9zM452 564h9v3h-9zM461 567h9v3h-9zM470 594h9v3h-9zM470 586h9v3h-9zM470 580h9v3h-9zM470 578h9v2h-9zM470 513h9v3h-9zM479 602h9v3h-9zM479 599h9v3h-9zM479 519h9v2h-9zM488 632h8v2h-8zM488 629h8v3h-8zM488 623h8v3h-8zM488 610h8v3h-8zM496 637h9v3h-9zM496 634h9v3h-9zM496 629h9v3h-9zM496 621h9v2h-9zM496 618h9v3h-9zM496 605h9v2h-9zM496 602h9v3h-9zM505 634h9v3h-9zM505 632h9v2h-9zM505 621h9v2h-9zM505 610h9v3h-9zM505 605h9v2h-9zM505 591h9v3h-9zM514 640h9v2h-9zM514 629h9v3h-9zM514 578h9v2h-9zM514 513h9v3h-9zM523 594h9v3h-9zM523 578h9v2h-9zM523 513h9v3h-9zM532 597h9v2h-9zM532 589h9v2h-9zM541 575h8v3h-8zM541 572h8v3h-8zM541 516h8v3h-8zM549 567h9v3h-9zM549 513h9v3h-9zM558 510h9v3h-9zM567 510h9v3h-9zM567 508h9v2h-9zM576 508h9v2h-9zM576 502h9v3h-9zM585 559h8v3h-8zM585 497h8v3h-8zM593 502h9v3h-9zM593 500h9v2h-9zM602 486h9v3h-9zM611 484h9v2h-9zM620 492h9v2h-9zM629 559h9v3h-9zM638 502h8v3h-8zM664 508h9v2h-9zM673 508h9v2h-9zM682 562h9v2h-9zM691 564h8v3h-8zM726 564h9v3h-9zM735 508h8v2h-8zM743 564h9v3h-9zM752 564h9v3h-9zM761 564h9v3h-9zM770 508h9v2h-9zM779 564h9v3h-9z"/>
<path fill="#183b93" d="M100 562h8v2h-8zM100 513h8v3h-8zM108 562h9v2h-9zM152 559h9v3h-9zM170 510h9v3h-9zM179 559h9v3h-9zM197 510h8v3h-8zM249 562h9v2h-9zM338 513h8v3h-8zM373 494h9v3h-9zM382 478h9v3h-9zM382 467h9v3h-9zM391 478h8v3h-8zM399 494h9v3h-9zM399 492h9v2h-9zM417 494h9v3h-9zM461 564h9v3h-9zM488 575h8v3h-8zM514 570h9v2h-9zM523 572h9v3h-9zM532 572h9v3h-9zM611 500h9v2h-9zM620 556h9v3h-9zM629 505h9v3h-9zM638 508h8v2h-8zM655 559h9v3h-9zM673 559h9v3h-9zM682 559h9v3h-9zM699 562h9v2h-9zM717 562h9v2h-9z"/>
<path fill="#18449b" d="M100 559h8v3h-8zM302 562h9v2h-9zM382 551h9v3h-9zM408 457h9v2h-9zM611 513h9v3h-9zM761 559h9v3h-9z"/>
<path fill="#1a53a2" d="M100 556h8v3h-8zM188 556h9v3h-9zM258 562h9v2h-9zM408 548h9v3h-9zM488 559h8v3h-8zM514 562h9v2h-9zM629 554h9v2h-9zM708 559h9v3h-9zM788 513h8v3h-8z"/>
<path fill="#30a16f" d="M100 554h8v2h-8zM117 554h9v2h-9zM276 524h9v3h-9zM294 554h8v2h-8zM426 516h9v3h-9zM664 551h9v3h-9zM779 554h9v2h-9z"/>
<path fill="#8cb63e" d="M100 551h8v3h-8zM294 535h8v2h-8zM435 529h9v3h-9zM461 532h9v3h-9zM691 548h8v3h-8zM788 524h8v3h-8z"/>
<path fill="#b1c835" d="M100 548h8v3h-8zM611 535h9v2h-9zM646 543h9v2h-9z"/>
<path fill="#e4d226" d="M100 545h8v3h-8zM232 543h9v2h-9z"/>
<path fill="#e87f20" d="M100 543h8v2h-8zM232 535h9v2h-9z"/>
<path fill="#e16320" d="M100 540h8v3h-8zM135 540h9v3h-9zM144 543h8v2h-8zM170 543h9v2h-9zM796 532h9v3h-9z"/>
<path fill="#edc421" d="M100 537h8v3h-8zM638 527h8v2h-8zM708 543h9v2h-9z"/>
<path fill="#e03e20" d="M100 535h8v2h-8zM232 540h9v3h-9z"/>
<path fill="#e0221d" d="M100 532h8v3h-8zM144 535h8v2h-8zM770 535h9v2h-9z"/>
<path fill="#e57520" d="M100 529h8v3h-8zM161 545h9v3h-9zM214 532h9v3h-9zM779 532h9v3h-9z"/>
<path fill="#e0d828" d="M100 527h8v2h-8zM629 537h9v3h-9zM770 527h9v2h-9z"/>
<path fill="#ccd32b" d="M100 524h8v3h-8zM294 545h8v3h-8zM638 529h8v3h-8zM699 548h9v3h-9z"/>
<path fill="#63a94a" d="M100 521h8v3h-8zM346 540h9v3h-9zM391 540h8v3h-8z"/>
<path fill="#40a362" d="M100 519h8v2h-8zM117 519h9v2h-9zM355 524h9v3h-9zM523 527h9v2h-9zM611 524h9v3h-9z"/>
<path fill="#1a849a" d="M100 516h8v3h-8zM108 556h9v3h-9zM320 524h9v3h-9zM382 510h9v3h-9z"/>
<path fill="#1a388e" d="M100 510h8v3h-8zM144 562h8v2h-8zM170 508h9v2h-9zM179 508h9v2h-9zM188 508h9v2h-9zM197 562h8v2h-8zM197 508h8v2h-8zM205 562h9v2h-9zM214 564h9v3h-9zM214 562h9v2h-9zM223 562h9v2h-9zM249 567h9v3h-9zM258 570h9v2h-9zM258 510h9v3h-9zM267 516h9v3h-9zM276 570h9v2h-9zM285 583h9v3h-9zM285 578h9v2h-9zM285 575h9v3h-9zM294 589h8v2h-8zM294 583h8v3h-8zM294 578h8v2h-8zM294 575h8v3h-8zM302 572h9v3h-9zM311 570h9v2h-9zM320 513h9v3h-9zM329 564h9v3h-9zM346 505h9v3h-9zM355 494h9v3h-9zM364 484h9v2h-9zM364 481h9v3h-9zM364 478h9v3h-9zM373 554h9v2h-9zM373 481h9v3h-9zM373 476h9v2h-9zM373 470h9v3h-9zM373 462h9v3h-9zM373 457h9v2h-9zM373 451h9v3h-9zM382 484h9v2h-9zM382 476h9v2h-9zM382 470h9v3h-9zM382 454h9v3h-9zM382 441h9v2h-9zM382 435h9v3h-9zM391 481h8v3h-8zM391 451h8v3h-8zM391 443h8v3h-8zM391 432h8v3h-8zM391 430h8v2h-8zM399 459h9v3h-9zM399 454h9v3h-9zM399 427h9v3h-9zM408 476h9v2h-9zM408 462h9v3h-9zM408 459h9v3h-9zM408 438h9v3h-9zM408 430h9v2h-9zM417 556h9v3h-9zM417 492h9v2h-9zM417 489h9v3h-9zM417 481h9v3h-9zM417 470h9v3h-9zM417 443h9v3h-9zM426 500h9v2h-9zM426 484h9v2h-9zM452 510h9v3h-9zM461 516h9v3h-9zM470 591h9v3h-9zM470 589h9v2h-9zM479 610h9v3h-9zM479 594h9v3h-9zM479 583h9v3h-9zM479 516h9v3h-9zM488 607h8v3h-8zM488 597h8v2h-8zM496 613h9v2h-9zM496 599h9v3h-9zM496 591h9v3h-9zM496 580h9v3h-9zM496 516h9v3h-9zM505 637h9v3h-9zM505 623h9v3h-9zM505 607h9v3h-9zM505 597h9v2h-9zM505 516h9v3h-9zM514 594h9v3h-9zM514 591h9v3h-9zM514 586h9v3h-9zM523 607h9v3h-9zM523 605h9v2h-9zM523 589h9v2h-9zM523 586h9v3h-9zM523 580h9v3h-9zM532 602h9v3h-9zM532 594h9v3h-9zM532 578h9v2h-9zM541 580h8v3h-8zM541 578h8v2h-8zM549 516h9v3h-9zM558 562h9v2h-9zM576 559h9v3h-9zM576 505h9v3h-9zM585 508h8v2h-8zM585 505h8v3h-8zM602 494h9v3h-9zM611 497h9v3h-9zM620 497h9v3h-9zM629 500h9v2h-9zM646 559h9v3h-9zM673 562h9v2h-9zM673 510h9v3h-9zM691 510h8v3h-8zM717 510h9v3h-9zM726 508h9v2h-9zM779 508h9v2h-9z"/>
<path fill="#19388f" d="M100 508h8v2h-8zM126 562h9v2h-9zM135 562h9v2h-9zM144 510h8v3h-8zM188 510h9v3h-9zM232 513h9v3h-9zM241 564h8v3h-8zM241 513h8v3h-8zM258 564h9v3h-9zM267 567h9v3h-9zM276 575h9v3h-9zM294 570h8v2h-8zM320 564h9v3h-9zM329 562h9v2h-9zM346 556h9v3h-9zM355 505h9v3h-9zM364 497h9v3h-9zM364 492h9v2h-9zM373 556h9v3h-9zM373 500h9v2h-9zM373 497h9v3h-9zM373 489h9v3h-9zM382 556h9v3h-9zM382 486h9v3h-9zM382 481h9v3h-9zM382 462h9v3h-9zM391 494h8v3h-8zM391 492h8v2h-8zM391 467h8v3h-8zM391 465h8v2h-8zM391 438h8v3h-8zM399 554h9v2h-9zM399 489h9v3h-9zM399 473h9v3h-9zM399 467h9v3h-9zM399 449h9v2h-9zM399 430h9v2h-9zM399 424h9v3h-9zM408 497h9v3h-9zM408 492h9v2h-9zM408 489h9v3h-9zM408 481h9v3h-9zM408 478h9v3h-9zM408 454h9v3h-9zM408 432h9v3h-9zM417 502h9v3h-9zM417 484h9v2h-9zM435 502h9v3h-9zM444 513h8v3h-8zM461 513h9v3h-9zM470 567h9v3h-9zM479 591h9v3h-9zM479 580h9v3h-9zM479 578h9v2h-9zM479 575h9v3h-9zM479 572h9v3h-9zM488 613h8v2h-8zM488 605h8v2h-8zM488 602h8v3h-8zM488 599h8v3h-8zM488 572h8v3h-8zM488 519h8v2h-8zM488 516h8v3h-8zM496 626h9v3h-9zM496 615h9v3h-9zM496 610h9v3h-9zM496 607h9v3h-9zM496 597h9v2h-9zM496 583h9v3h-9zM496 578h9v2h-9zM505 629h9v3h-9zM505 602h9v3h-9zM505 599h9v3h-9zM505 583h9v3h-9zM505 575h9v3h-9zM505 570h9v2h-9zM514 602h9v3h-9zM514 597h9v2h-9zM514 589h9v2h-9zM523 597h9v2h-9zM523 519h9v2h-9zM523 516h9v3h-9zM532 580h9v3h-9zM541 570h8v2h-8zM558 516h9v3h-9zM558 513h9v3h-9zM567 559h9v3h-9zM585 510h8v3h-8zM593 497h9v3h-9zM602 502h9v3h-9zM602 500h9v2h-9zM611 559h9v3h-9zM611 556h9v3h-9zM611 502h9v3h-9zM611 492h9v2h-9zM611 486h9v3h-9zM620 559h9v3h-9zM620 502h9v3h-9zM646 505h9v3h-9zM655 562h9v2h-9zM691 562h8v2h-8zM699 510h9v3h-9zM726 510h9v3h-9zM735 510h8v3h-8zM752 510h9v3h-9zM770 562h9v2h-9zM770 510h9v3h-9zM796 510h9v3h-9z"/>
<path fill="#5555a0" d="M100 505h8v3h-8zM382 419h9v3h-9zM796 567h9v3h-9zM796 505h9v3h-9z"/>
<path fill="#4e4e9a" d="M100 502h8v3h-8zM541 599h8v3h-8z"/>
<path fill="#7f7fbb" d="M100 500h8v2h-8zM338 567h8v3h-8zM426 435h9v3h-9zM426 419h9v3h-9zM452 575h9v3h-9z"/>
<path fill="#f7f7fc" d="M100 494h8v3h-8zM108 578h9v2h-9zM108 494h9v3h-9zM126 578h9v2h-9zM126 494h9v3h-9zM135 578h9v2h-9zM152 578h9v2h-9zM161 578h9v2h-9zM161 492h9v2h-9zM170 578h9v2h-9zM170 492h9v2h-9zM179 578h9v2h-9zM188 578h9v2h-9zM197 578h8v2h-8zM197 492h8v2h-8zM205 578h9v2h-9zM205 492h9v2h-9zM232 580h9v3h-9zM241 589h8v2h-8zM241 586h8v3h-8zM249 594h9v3h-9zM276 615h9v3h-9zM276 497h9v3h-9zM285 618h9v3h-9zM294 615h8v3h-8zM294 497h8v3h-8zM311 607h9v3h-9zM311 497h9v3h-9zM320 602h9v3h-9zM329 486h9v3h-9zM338 470h8v3h-8zM338 465h8v2h-8zM346 441h9v2h-9zM355 416h9v3h-9zM355 414h9v2h-9zM364 398h9v2h-9zM382 572h9v3h-9zM399 376h9v3h-9zM417 384h9v3h-9zM426 400h9v3h-9zM426 395h9v3h-9zM435 578h9v2h-9zM435 416h9v3h-9zM444 443h8v3h-8zM452 618h9v3h-9zM452 615h9v3h-9zM461 634h9v3h-9zM470 653h9v3h-9zM470 650h9v3h-9zM479 497h9v3h-9zM488 669h8v3h-8zM488 500h8v2h-8zM496 672h9v3h-9zM496 500h9v2h-9zM505 675h9v2h-9zM514 672h9v3h-9zM523 664h9v3h-9zM532 656h9v2h-9zM532 497h9v3h-9zM541 645h8v3h-8zM549 626h9v3h-9zM558 607h9v3h-9zM558 605h9v2h-9zM558 602h9v3h-9zM567 583h9v3h-9zM567 481h9v3h-9zM585 575h8v3h-8zM585 462h8v3h-8zM593 457h9v2h-9zM602 457h9v2h-9zM611 457h9v2h-9zM620 575h9v3h-9zM655 486h9v3h-9zM664 578h9v2h-9zM673 578h9v2h-9zM682 578h9v2h-9zM691 494h8v3h-8zM708 580h9v3h-9zM717 580h9v3h-9zM726 494h9v3h-9zM796 494h9v3h-9z"/>
<path fill="#b1b1d7" d="M108 572h9v3h-9zM108 500h9v2h-9zM135 500h9v2h-9zM214 500h9v2h-9zM249 505h9v3h-9zM285 605h9v2h-9zM294 605h8v2h-8zM408 392h9v3h-9zM479 505h9v3h-9zM699 570h9v2h-9zM752 572h9v3h-9zM779 500h9v2h-9z"/>
<path fill="#a6a6d1" d="M108 570h9v2h-9zM135 502h9v3h-9zM470 637h9v3h-9zM541 626h8v3h-8zM602 465h9v2h-9zM629 473h9v3h-9z"/>
<path fill="#2e3687" d="M108 567h9v3h-9zM373 438h9v3h-9zM523 623h9v3h-9zM541 597h8v2h-8zM558 508h9v2h-9z"/>
<path fill="#303787" d="M108 564h9v3h-9zM179 505h9v3h-9zM205 567h9v3h-9zM258 575h9v3h-9zM364 470h9v3h-9zM382 416h9v3h-9zM391 416h8v3h-8zM452 505h9v3h-9zM611 494h9v3h-9z"/>
<path fill="#18479c" d="M108 559h9v3h-9zM170 513h9v3h-9zM188 513h9v3h-9zM214 556h9v3h-9zM320 559h9v3h-9zM346 513h9v3h-9z"/>
<path fill="#45a45e" d="M108 554h9v2h-9zM788 519h8v2h-8z"/>
<path fill="#61a84c" d="M108 551h9v3h-9zM532 551h9v3h-9zM611 543h9v2h-9z"/>
<path fill="#aac638" d="M108 548h9v3h-9zM523 543h9v2h-9zM788 548h8v3h-8z"/>
<path fill="#d1d629" d="M108 545h9v3h-9z"/>
<path fill="#e67820" d="M108 543h9v2h-9zM708 532h9v3h-9z"/>
<path fill="#e1211d" d="M108 540h9v3h-9z"/>
<path fill="#e05e20" d="M108 537h9v3h-9zM135 529h9v3h-9z"/>
<path fill="#e0281e" d="M108 535h9v2h-9zM170 535h9v2h-9z"/>
<path fill="#e0241e" d="M108 532h9v3h-9zM179 537h9v3h-9zM188 532h9v3h-9z"/>
<path fill="#eb8b20" d="M108 529h9v3h-9zM655 532h9v3h-9z"/>
<path fill="#cdd42b" d="M108 527h9v2h-9z"/>
<path fill="#c5cf2e" d="M108 524h9v3h-9zM576 535h9v2h-9zM638 540h8v3h-8zM770 548h9v3h-9zM779 524h9v3h-9z"/>
<path fill="#66a949" d="M108 521h9v3h-9zM532 535h9v2h-9zM541 532h8v3h-8zM593 535h9v2h-9z"/>
<path fill="#27a077" d="M108 519h9v2h-9zM232 554h9v2h-9zM399 545h9v3h-9zM479 554h9v2h-9zM673 551h9v3h-9z"/>
<path fill="#1a8e94" d="M108 516h9v3h-9zM294 556h8v3h-8zM470 554h9v2h-9zM541 524h8v3h-8z"/>
<path fill="#183f97" d="M108 513h9v3h-9zM197 556h8v3h-8zM311 519h9v2h-9zM435 510h9v3h-9zM541 519h8v2h-8zM602 505h9v3h-9zM743 513h9v3h-9z"/>
<path fill="#183991" d="M108 510h9v3h-9zM117 510h9v3h-9zM170 562h9v2h-9zM205 559h9v3h-9zM241 562h8v2h-8zM241 510h8v3h-8zM311 567h9v3h-9zM311 516h9v3h-9zM373 492h9v2h-9zM373 467h9v3h-9zM382 451h9v3h-9zM382 443h9v3h-9zM382 438h9v3h-9zM391 500h8v2h-8zM391 454h8v3h-8zM399 551h9v3h-9zM399 486h9v3h-9zM399 484h9v2h-9zM399 478h9v3h-9zM408 554h9v2h-9zM408 494h9v3h-9zM408 473h9v3h-9zM408 443h9v3h-9zM417 467h9v3h-9zM435 508h9v2h-9zM444 510h8v3h-8zM444 508h8v2h-8zM452 516h9v3h-9zM452 513h9v3h-9zM470 570h9v2h-9zM470 519h9v2h-9zM488 589h8v2h-8zM488 586h8v3h-8zM488 578h8v2h-8zM496 586h9v3h-9zM505 594h9v3h-9zM505 578h9v2h-9zM523 583h9v3h-9zM532 570h9v2h-9zM541 567h8v3h-8zM549 564h9v3h-9zM567 556h9v3h-9zM567 516h9v3h-9zM567 513h9v3h-9zM602 556h9v3h-9zM629 502h9v3h-9zM638 559h8v3h-8zM664 513h9v3h-9zM708 510h9v3h-9zM735 562h8v2h-8zM743 562h9v2h-9z"/>
<path fill="#20378a" d="M108 508h9v2h-9zM285 589h9v2h-9zM364 457h9v2h-9zM382 427h9v3h-9zM417 422h9v2h-9zM435 497h9v3h-9zM461 578h9v2h-9zM505 626h9v3h-9zM532 583h9v3h-9zM541 513h8v3h-8zM558 567h9v3h-9zM576 562h9v2h-9zM611 489h9v3h-9zM638 494h8v3h-8zM664 564h9v3h-9zM743 510h9v3h-9z"/>
<path fill="#7474b5" d="M108 505h9v3h-9zM241 570h8v2h-8zM408 400h9v3h-9z"/>
<path fill="#9a9aca" d="M108 502h9v3h-9zM426 564h9v3h-9zM452 591h9v3h-9zM496 664h9v3h-9zM611 465h9v2h-9zM779 502h9v3h-9zM796 570h9v2h-9z"/>
<path fill="#d4d4ea" d="M117 575h9v3h-9zM117 497h9v3h-9zM126 497h9v3h-9zM223 575h9v3h-9zM338 481h8v3h-8zM444 459h8v3h-8zM452 489h9v3h-9zM461 623h9v3h-9zM470 642h9v3h-9zM585 470h8v3h-8zM770 575h9v3h-9zM770 497h9v3h-9zM788 575h8v3h-8z"/>
<path fill="#464694" d="M117 570h9v2h-9zM435 476h9v2h-9zM541 613h8v2h-8z"/>
<path fill="#4c4c99" d="M117 567h9v3h-9zM346 494h9v3h-9zM355 473h9v3h-9zM391 403h8v3h-8zM426 449h9v2h-9zM646 500h9v2h-9zM735 570h8v2h-8z"/>
<path fill="#1c388c" d="M117 564h9v3h-9zM126 564h9v3h-9zM135 564h9v3h-9zM135 505h9v3h-9zM144 564h8v3h-8zM144 505h8v3h-8zM152 508h9v2h-9zM258 572h9v3h-9zM267 513h9v3h-9zM267 510h9v3h-9zM294 586h8v3h-8zM294 580h8v3h-8zM311 583h9v3h-9zM311 572h9v3h-9zM311 510h9v3h-9zM329 510h9v3h-9zM338 508h8v2h-8zM355 486h9v3h-9zM364 559h9v3h-9zM373 446h9v3h-9zM391 556h8v3h-8zM391 422h8v2h-8zM391 419h8v3h-8zM391 408h8v3h-8zM399 441h9v2h-9zM399 438h9v3h-9zM399 432h9v3h-9zM399 422h9v2h-9zM399 416h9v3h-9zM399 414h9v2h-9zM408 446h9v3h-9zM408 435h9v3h-9zM408 414h9v2h-9zM426 489h9v3h-9zM426 478h9v3h-9zM426 467h9v3h-9zM426 457h9v2h-9zM435 500h9v2h-9zM461 575h9v3h-9zM479 615h9v3h-9zM479 605h9v2h-9zM479 589h9v2h-9zM479 513h9v3h-9zM488 618h8v3h-8zM488 513h8v3h-8zM496 642h9v3h-9zM496 623h9v3h-9zM505 642h9v3h-9zM505 615h9v3h-9zM514 623h9v3h-9zM514 621h9v2h-9zM514 615h9v3h-9zM514 583h9v3h-9zM514 516h9v3h-9zM523 626h9v3h-9zM523 615h9v3h-9zM523 599h9v3h-9zM532 516h9v3h-9zM541 589h8v2h-8zM549 572h9v3h-9zM558 564h9v3h-9zM567 562h9v2h-9zM585 502h8v3h-8zM585 500h8v2h-8zM593 494h9v3h-9zM593 492h9v2h-9zM593 489h9v3h-9zM602 497h9v3h-9zM620 562h9v2h-9zM620 500h9v2h-9zM620 494h9v3h-9zM629 497h9v3h-9zM646 562h9v2h-9zM717 508h9v2h-9zM743 508h9v2h-9zM770 564h9v3h-9zM779 505h9v3h-9zM788 567h8v3h-8zM788 564h8v3h-8zM796 564h9v3h-9z"/>
<path fill="#183a92" d="M117 562h9v2h-9zM152 510h9v3h-9zM170 559h9v3h-9zM197 559h8v3h-8zM249 564h9v3h-9zM285 519h9v2h-9zM294 567h8v3h-8zM294 516h8v3h-8zM302 564h9v3h-9zM329 516h9v3h-9zM364 500h9v2h-9zM382 554h9v2h-9zM382 494h9v3h-9zM391 551h8v3h-8zM391 441h8v2h-8zM399 476h9v2h-9zM399 435h9v3h-9zM408 486h9v3h-9zM435 556h9v3h-9zM461 519h9v2h-9zM470 572h9v3h-9zM496 589h9v2h-9zM496 572h9v3h-9zM496 519h9v2h-9zM505 586h9v3h-9zM514 610h9v3h-9zM523 602h9v3h-9zM532 575h9v3h-9zM585 554h8v2h-8zM593 508h9v2h-9zM629 556h9v3h-9zM629 508h9v2h-9zM664 559h9v3h-9zM664 510h9v3h-9zM708 513h9v3h-9zM761 510h9v3h-9zM796 513h9v3h-9z"/>
<path fill="#184198" d="M117 559h9v3h-9zM364 551h9v3h-9zM435 554h9v2h-9zM549 559h9v3h-9zM779 559h9v3h-9z"/>
<path fill="#1a9191" d="M117 556h9v3h-9zM470 551h9v3h-9zM532 559h9v3h-9zM585 519h8v2h-8zM593 516h9v3h-9zM673 554h9v2h-9z"/>
<path fill="#75af45" d="M117 551h9v3h-9zM285 551h9v3h-9zM320 545h9v3h-9zM338 532h8v3h-8zM346 532h9v3h-9zM585 537h8v3h-8zM788 521h8v3h-8z"/>
<path fill="#a1c138" d="M117 548h9v3h-9zM117 524h9v3h-9zM302 545h9v3h-9zM444 535h8v2h-8zM593 537h9v3h-9z"/>
<path fill="#d9d828" d="M117 545h9v3h-9zM267 545h9v3h-9zM796 545h9v3h-9z"/>
<path fill="#ed9220" d="M117 543h9v2h-9z"/>
<path fill="#e05c20" d="M117 540h9v3h-9zM126 532h9v3h-9zM770 543h9v2h-9zM788 540h8v3h-8zM788 529h8v3h-8z"/>
<path fill="#e04420" d="M117 537h9v3h-9z"/>
<path fill="#e21b1a" d="M117 535h9v2h-9zM197 532h8v3h-8zM699 532h9v3h-9z"/>
<path fill="#e0371f" d="M117 532h9v3h-9z"/>
<path fill="#e04820" d="M117 529h9v3h-9zM214 535h9v2h-9zM682 532h9v3h-9z"/>
<path fill="#e9ca23" d="M117 527h9v2h-9z"/>
<path fill="#84b341" d="M117 521h9v3h-9zM532 540h9v3h-9zM541 537h8v3h-8zM602 537h9v3h-9zM611 540h9v3h-9zM611 527h9v2h-9z"/>
<path fill="#1a60a1" d="M117 516h9v3h-9zM249 519h9v2h-9zM329 554h9v2h-9zM691 556h8v3h-8zM699 516h9v3h-9z"/>
<path fill="#183c94" d="M117 513h9v3h-9zM161 510h9v3h-9zM205 513h9v3h-9zM205 510h9v3h-9zM214 559h9v3h-9zM267 519h9v2h-9zM285 567h9v3h-9zM285 564h9v3h-9zM302 516h9v3h-9zM329 556h9v3h-9zM329 513h9v3h-9zM364 554h9v2h-9zM373 502h9v3h-9zM391 459h8v3h-8zM399 500h9v2h-9zM399 481h9v3h-9zM417 500h9v2h-9zM488 594h8v3h-8zM496 570h9v2h-9zM496 567h9v3h-9zM505 567h9v3h-9zM505 521h9v3h-9zM514 519h9v2h-9zM558 559h9v3h-9zM576 510h9v3h-9zM593 556h9v3h-9zM611 505h9v3h-9zM620 554h9v2h-9zM638 556h8v3h-8zM655 510h9v3h-9zM691 559h8v3h-8zM691 513h8v3h-8zM708 562h9v2h-9zM761 562h9v2h-9z"/>
<path fill="#8c8cc2" d="M117 505h9v3h-9zM161 572h9v3h-9zM205 502h9v3h-9zM346 484h9v2h-9zM788 572h8v3h-8z"/>
<path fill="#8282bd" d="M117 502h9v3h-9zM170 567h9v3h-9zM294 502h8v3h-8zM302 502h9v3h-9zM426 414h9v2h-9zM796 502h9v3h-9z"/>
<path fill="#e4e4f2" d="M126 575h9v3h-9zM320 500h9v2h-9zM558 591h9v3h-9zM788 497h8v3h-8zM796 575h9v3h-9z"/>
<path fill="#9898c9" d="M126 572h9v3h-9zM152 572h9v3h-9zM532 640h9v2h-9zM541 508h8v2h-8zM567 572h9v3h-9zM743 500h9v2h-9zM752 500h9v2h-9z"/>
<path fill="#6a6aaf" d="M126 570h9v2h-9zM355 470h9v3h-9zM461 586h9v3h-9zM682 567h9v3h-9zM770 570h9v2h-9z"/>
<path fill="#3a3a88" d="M126 567h9v3h-9zM417 424h9v3h-9zM435 559h9v3h-9zM470 597h9v2h-9zM532 607h9v3h-9z"/>
<path fill="#183d95" d="M126 559h9v3h-9zM276 567h9v3h-9zM285 570h9v2h-9zM294 564h8v3h-8zM549 562h9v2h-9zM593 554h9v2h-9zM602 508h9v2h-9zM796 559h9v3h-9z"/>
<path fill="#1a53a1" d="M126 556h9v3h-9zM717 556h9v3h-9zM796 556h9v3h-9z"/>
<path fill="#1a968c" d="M126 554h9v2h-9zM391 545h8v3h-8zM743 519h9v2h-9z"/>
<path fill="#65a949" d="M126 551h9v3h-9z"/>
<path fill="#93b93b" d="M126 548h9v3h-9zM346 537h9v3h-9z"/>
<path fill="#e7ce25" d="M126 545h9v3h-9zM152 545h9v3h-9z"/>
<path fill="#eec321" d="M126 543h9v2h-9zM214 543h9v2h-9zM752 527h9v2h-9z"/>
<path fill="#e05020" d="M126 540h9v3h-9zM761 532h9v3h-9z"/>
<path fill="#e98620" d="M126 537h9v3h-9zM691 532h8v3h-8zM743 543h9v2h-9zM779 535h9v2h-9z"/>
<path fill="#e21c1b" d="M126 535h9v2h-9zM726 540h9v3h-9z"/>
<path fill="#e5d025" d="M126 529h9v3h-9zM779 543h9v2h-9z"/>
<path fill="#ee9920" d="M126 527h9v2h-9zM779 529h9v3h-9z"/>
<path fill="#a7c438" d="M126 524h9v3h-9zM664 527h9v2h-9z"/>
<path fill="#5ea84d" d="M126 521h9v3h-9zM523 529h9v3h-9zM541 548h8v3h-8zM549 532h9v3h-9zM691 521h8v3h-8z"/>
<path fill="#25a079" d="M126 519h9v2h-9z"/>
<path fill="#194b9e" d="M126 516h9v3h-9zM161 559h9v3h-9zM338 516h8v3h-8zM373 505h9v3h-9zM426 505h9v3h-9zM479 521h9v3h-9zM549 556h9v3h-9zM576 513h9v3h-9zM717 513h9v3h-9z"/>
<path fill="#1a5ea1" d="M126 513h9v3h-9zM223 516h9v3h-9zM549 554h9v2h-9zM602 513h9v3h-9z"/>
<path fill="#183890" d="M126 510h9v3h-9zM135 510h9v3h-9zM179 562h9v2h-9zM179 510h9v3h-9zM214 510h9v3h-9zM223 559h9v3h-9zM223 510h9v3h-9zM258 513h9v3h-9zM276 564h9v3h-9zM294 572h8v3h-8zM320 516h9v3h-9zM346 508h9v2h-9zM355 502h9v3h-9zM364 494h9v3h-9zM364 486h9v3h-9zM373 478h9v3h-9zM382 497h9v3h-9zM382 473h9v3h-9zM382 465h9v2h-9zM382 459h9v3h-9zM391 486h8v3h-8zM391 470h8v3h-8zM391 462h8v3h-8zM391 457h8v2h-8zM391 446h8v3h-8zM399 497h9v3h-9zM399 465h9v2h-9zM399 462h9v3h-9zM408 470h9v3h-9zM408 467h9v3h-9zM408 451h9v3h-9zM417 554h9v2h-9zM426 556h9v3h-9zM452 562h9v2h-9zM479 586h9v3h-9zM488 583h8v3h-8zM488 580h8v3h-8zM496 594h9v3h-9zM496 575h9v3h-9zM505 618h9v3h-9zM505 613h9v2h-9zM505 589h9v2h-9zM505 580h9v3h-9zM514 607h9v3h-9zM514 605h9v2h-9zM514 599h9v3h-9zM514 580h9v3h-9zM514 575h9v3h-9zM514 572h9v3h-9zM523 575h9v3h-9zM576 556h9v3h-9zM576 554h9v2h-9zM585 556h8v3h-8zM593 559h9v3h-9zM593 505h9v3h-9zM638 505h8v3h-8zM646 508h9v2h-9zM655 508h9v2h-9zM682 510h9v3h-9zM708 564h9v3h-9zM726 562h9v2h-9zM752 562h9v2h-9zM779 562h9v2h-9zM779 510h9v3h-9zM788 562h8v2h-8zM788 510h8v3h-8zM796 562h9v2h-9z"/>
<path fill="#3f3f8d" d="M126 505h9v3h-9zM364 462h9v3h-9zM382 411h9v3h-9zM532 605h9v2h-9zM541 586h8v3h-8zM585 492h8v2h-8zM620 484h9v2h-9zM761 567h9v3h-9z"/>
<path fill="#8282bc" d="M126 502h9v3h-9zM488 650h8v3h-8zM761 570h9v2h-9z"/>
<path fill="#a4a4d0" d="M126 500h9v2h-9zM135 572h9v3h-9zM223 572h9v3h-9zM364 419h9v3h-9zM523 505h9v3h-9zM576 494h9v3h-9zM673 500h9v2h-9zM770 572h9v3h-9z"/>
<path fill="#ebebf6" d="M126 492h9v2h-9zM214 580h9v3h-9zM223 580h9v3h-9zM232 583h9v3h-9zM241 591h8v3h-8zM320 605h9v2h-9zM329 484h9v2h-9zM338 492h8v2h-8zM364 395h9v3h-9zM382 575h9v3h-9zM382 376h9v3h-9zM435 408h9v3h-9zM444 597h8v2h-8zM452 621h9v2h-9zM461 489h9v3h-9zM470 658h9v3h-9zM505 677h9v3h-9zM523 669h9v3h-9zM549 602h9v3h-9zM567 478h9v3h-9zM585 459h8v3h-8zM629 459h9v3h-9zM646 473h9v3h-9zM691 580h8v3h-8zM788 580h8v3h-8zM788 492h8v2h-8z"/>
<path fill="#9b9bcb" d="M135 570h9v2h-9zM179 497h9v3h-9zM223 570h9v2h-9zM355 454h9v3h-9zM417 398h9v2h-9z"/>
<path fill="#5e5ea8" d="M135 567h9v3h-9zM549 589h9v2h-9z"/>
<path fill="#184399" d="M135 559h9v3h-9zM144 559h8v3h-8zM320 521h9v3h-9zM382 508h9v2h-9zM391 505h8v3h-8zM417 497h9v3h-9zM523 570h9v2h-9zM523 521h9v3h-9z"/>
<path fill="#1a7e9b" d="M135 556h9v3h-9zM655 519h9v2h-9z"/>
<path fill="#6eac47" d="M135 554h9v2h-9zM541 545h8v3h-8zM558 532h9v3h-9z"/>
<path fill="#53a554" d="M135 551h9v3h-9zM214 521h9v3h-9zM258 551h9v3h-9zM505 529h9v3h-9zM655 521h9v3h-9z"/>
<path fill="#e8cc24" d="M135 548h9v3h-9zM249 543h9v2h-9zM267 543h9v2h-9zM673 543h9v2h-9z"/>
<path fill="#e9cb24" d="M135 545h9v3h-9zM223 529h9v3h-9zM276 535h9v2h-9zM691 545h8v3h-8z"/>
<path fill="#e26620" d="M135 543h9v2h-9z"/>
<path fill="#e88220" d="M135 537h9v3h-9zM135 527h9v2h-9z"/>
<path fill="#e04720" d="M135 535h9v2h-9zM743 535h9v2h-9z"/>
<path fill="#e05220" d="M135 532h9v3h-9z"/>
<path fill="#80b242" d="M135 524h9v3h-9zM249 551h9v3h-9zM276 548h9v3h-9zM346 529h9v3h-9zM391 529h8v3h-8zM461 543h9v2h-9zM638 521h8v3h-8z"/>
<path fill="#76af45" d="M135 521h9v3h-9zM267 527h9v2h-9zM399 535h9v2h-9zM532 548h9v3h-9z"/>
<path fill="#1a9a88" d="M135 519h9v2h-9zM285 559h9v3h-9zM532 556h9v3h-9zM549 524h9v3h-9zM558 551h9v3h-9z"/>
<path fill="#1a61a1" d="M135 516h9v3h-9zM708 516h9v3h-9zM761 556h9v3h-9z"/>
<path fill="#18489d" d="M135 513h9v3h-9zM417 505h9v3h-9zM470 559h9v3h-9zM514 567h9v3h-9zM532 562h9v2h-9zM541 564h8v3h-8zM699 513h9v3h-9zM752 559h9v3h-9zM770 513h9v3h-9zM779 513h9v3h-9z"/>
<path fill="#2a3586" d="M135 508h9v2h-9zM188 505h9v3h-9zM214 567h9v3h-9zM355 481h9v3h-9zM452 508h9v2h-9zM461 510h9v3h-9zM602 484h9v2h-9zM788 508h8v2h-8z"/>
<path fill="#b8b8db" d="M135 497h9v3h-9zM373 570h9v2h-9zM382 564h9v3h-9zM435 430h9v2h-9zM461 605h9v2h-9zM549 613h9v2h-9zM549 594h9v3h-9zM752 497h9v3h-9zM761 575h9v3h-9zM779 575h9v3h-9zM779 497h9v3h-9z"/>
<path fill="#f6f6fc" d="M135 494h9v3h-9zM205 494h9v3h-9zM249 497h9v3h-9zM285 613h9v2h-9zM329 589h9v2h-9zM364 572h9v3h-9zM373 389h9v3h-9zM470 500h9v2h-9zM479 661h9v3h-9zM479 500h9v2h-9zM488 667h8v2h-8zM505 672h9v3h-9zM514 669h9v3h-9zM541 500h8v2h-8zM558 599h9v3h-9zM646 481h9v3h-9zM655 575h9v3h-9zM655 489h9v3h-9zM726 578h9v2h-9zM735 578h8v2h-8zM743 578h9v2h-9z"/>
<path fill="#d5d5eb" d="M144 575h8v3h-8zM346 572h9v3h-9zM346 454h9v3h-9zM435 572h9v3h-9zM452 602h9v3h-9zM717 497h9v3h-9zM735 497h8v3h-8zM743 497h9v3h-9z"/>
<path fill="#b2b2d7" d="M144 572h8v3h-8zM470 508h9v2h-9z"/>
<path fill="#8383bd" d="M144 570h8v2h-8zM364 414h9v2h-9zM426 459h9v3h-9zM479 508h9v2h-9zM523 645h9v3h-9zM558 575h9v3h-9zM602 478h9v3h-9zM682 570h9v2h-9z"/>
<path fill="#6969af" d="M144 567h8v3h-8zM223 567h9v3h-9zM355 457h9v2h-9zM444 489h8v3h-8z"/>
<path fill="#1a6ba0" d="M144 556h8v3h-8zM488 564h8v3h-8zM576 519h9v2h-9zM646 554h9v2h-9z"/>
<path fill="#249f7a" d="M144 554h8v2h-8z"/>
<path fill="#5da74d" d="M144 551h8v3h-8zM435 537h9v3h-9z"/>
<path fill="#7eb242" d="M144 548h8v3h-8zM329 532h9v3h-9zM364 524h9v3h-9zM452 543h9v2h-9zM452 537h9v3h-9zM505 548h9v3h-9z"/>
<path fill="#f0ab20" d="M144 545h8v3h-8z"/>
<path fill="#e05620" d="M144 540h8v3h-8z"/>
<path fill="#e05d20" d="M144 537h8v3h-8z"/>
<path fill="#e1201d" d="M144 532h8v3h-8z"/>
<path fill="#e77a20" d="M144 529h8v3h-8zM188 540h9v3h-9z"/>
<path fill="#e57620" d="M144 527h8v2h-8zM188 535h9v2h-9z"/>
<path fill="#c7d02d" d="M144 524h8v3h-8zM205 524h9v3h-9z"/>
<path fill="#a0c138" d="M144 521h8v3h-8zM408 527h9v2h-9z"/>
<path fill="#3aa267" d="M144 519h8v2h-8zM223 551h9v3h-9zM488 529h8v3h-8z"/>
<path fill="#1a789d" d="M144 516h8v3h-8zM452 551h9v3h-9zM470 562h9v2h-9zM496 559h9v3h-9zM549 521h9v3h-9zM699 556h9v3h-9z"/>
<path fill="#18469c" d="M144 513h8v3h-8zM232 559h9v3h-9zM338 554h8v2h-8zM391 502h8v3h-8zM426 510h9v3h-9zM479 564h9v3h-9zM496 521h9v3h-9zM532 564h9v3h-9zM541 562h8v2h-8zM646 510h9v3h-9zM664 556h9v3h-9zM717 559h9v3h-9zM761 513h9v3h-9z"/>
<path fill="#b2b2d8" d="M144 502h8v3h-8zM170 572h9v3h-9zM241 578h8v2h-8zM320 502h9v3h-9zM382 392h9v3h-9zM417 567h9v3h-9zM435 441h9v2h-9zM461 615h9v3h-9z"/>
<path fill="#a3a3cf" d="M144 500h8v2h-8zM364 567h9v3h-9zM452 586h9v3h-9zM452 497h9v3h-9zM479 648h9v2h-9zM532 505h9v3h-9zM691 572h8v3h-8z"/>
<path fill="#e3e3f2" d="M144 497h8v3h-8zM302 607h9v3h-9zM338 575h8v3h-8zM364 570h9v2h-9zM364 411h9v3h-9zM408 387h9v2h-9zM444 578h8v2h-8zM452 599h9v3h-9zM523 502h9v3h-9zM691 575h8v3h-8zM743 575h9v3h-9z"/>
<path fill="#c7c7e3" d="M152 575h9v3h-9zM188 575h9v3h-9zM346 476h9v2h-9zM408 570h9v2h-9zM444 457h8v2h-8zM505 502h9v3h-9zM629 467h9v3h-9zM646 484h9v2h-9zM682 497h9v3h-9z"/>
<path fill="#7777b6" d="M152 570h9v2h-9zM549 591h9v3h-9z"/>
<path fill="#1f378a" d="M152 567h9v3h-9zM267 575h9v3h-9zM302 578h9v2h-9zM408 449h9v2h-9zM488 634h8v3h-8zM514 613h9v2h-9z"/>
<path fill="#263587" d="M152 564h9v3h-9zM161 564h9v3h-9zM214 508h9v2h-9zM382 424h9v3h-9zM426 486h9v3h-9zM488 591h8v3h-8zM514 632h9v2h-9zM523 618h9v3h-9zM593 486h9v3h-9zM682 564h9v3h-9z"/>
<path fill="#1a9092" d="M152 556h9v3h-9zM329 521h9v3h-9zM470 556h9v3h-9zM620 551h9v3h-9zM629 551h9v3h-9z"/>
<path fill="#35a26b" d="M152 554h9v2h-9zM302 556h9v3h-9zM346 543h9v2h-9zM796 551h9v3h-9z"/>
<path fill="#28a076" d="M152 551h9v3h-9zM329 551h9v3h-9zM532 527h9v2h-9z"/>
<path fill="#a3c238" d="M152 548h9v3h-9zM382 527h9v2h-9zM399 532h9v3h-9zM505 537h9v3h-9zM655 545h9v3h-9zM673 545h9v3h-9z"/>
<path fill="#e26a20" d="M152 543h9v2h-9zM161 543h9v2h-9zM223 537h9v3h-9z"/>
<path fill="#f0ba20" d="M152 540h9v3h-9zM646 529h9v3h-9z"/>
<path fill="#db1a1a" d="M152 537h9v3h-9z"/>
<path fill="#e02c1f" d="M152 535h9v2h-9zM197 535h8v2h-8z"/>
<path fill="#d61919" d="M152 532h9v3h-9z"/>
<path fill="#e67920" d="M152 529h9v3h-9zM691 535h8v2h-8z"/>
<path fill="#ed9520" d="M152 527h9v2h-9zM638 535h8v2h-8z"/>
<path fill="#81b242" d="M152 524h9v3h-9zM602 524h9v3h-9zM796 548h9v3h-9z"/>
<path fill="#d3d729" d="M152 521h9v3h-9zM717 524h9v3h-9z"/>
<path fill="#4da558" d="M152 519h9v2h-9zM444 527h8v2h-8zM452 548h9v3h-9zM567 540h9v3h-9zM726 554h9v2h-9z"/>
<path fill="#1a799c" d="M152 516h9v3h-9zM355 548h9v3h-9z"/>
<path fill="#194c9f" d="M152 513h9v3h-9zM205 556h9v3h-9zM355 516h9v3h-9zM426 513h9v3h-9zM470 564h9v3h-9zM541 559h8v3h-8zM629 510h9v3h-9zM655 556h9v3h-9zM726 559h9v3h-9z"/>
<path fill="#3e3e8c" d="M152 505h9v3h-9zM364 451h9v3h-9zM417 427h9v3h-9zM435 481h9v3h-9zM541 583h8v3h-8zM629 484h9v2h-9zM638 500h8v2h-8z"/>
<path fill="#6767ae" d="M152 502h9v3h-9zM417 438h9v3h-9zM629 489h9v3h-9zM726 570h9v2h-9z"/>
<path fill="#7e7eba" d="M152 500h9v2h-9zM373 416h9v3h-9zM444 476h8v2h-8zM532 626h9v3h-9z"/>
<path fill="#c5c5e2" d="M152 497h9v3h-9zM223 502h9v3h-9zM241 580h8v3h-8zM258 500h9v2h-9zM276 505h9v3h-9zM346 457h9v2h-9zM479 502h9v3h-9zM496 667h9v2h-9z"/>
<path fill="#dbdbee" d="M152 492h9v2h-9zM355 575h9v3h-9zM364 575h9v3h-9zM444 572h8v3h-8zM461 613h9v2h-9zM488 672h8v3h-8zM496 675h9v2h-9zM541 497h8v3h-8zM567 586h9v3h-9zM602 454h9v3h-9zM638 467h8v3h-8z"/>
<path fill="#b9b9db" d="M161 575h9v3h-9zM267 594h9v3h-9zM285 505h9v3h-9zM373 408h9v3h-9zM408 564h9v3h-9zM532 634h9v3h-9z"/>
<path fill="#7777b7" d="M161 570h9v2h-9zM435 457h9v2h-9zM523 508h9v2h-9zM726 502h9v3h-9z"/>
<path fill="#4d4d9a" d="M161 567h9v3h-9zM426 562h9v2h-9z"/>
<path fill="#1a829a" d="M161 556h9v3h-9zM241 519h8v2h-8z"/>
<path fill="#1e9c82" d="M161 554h9v2h-9z"/>
<path fill="#4ea558" d="M161 551h9v3h-9zM161 519h9v2h-9z"/>
<path fill="#95ba3a" d="M161 548h9v3h-9zM373 535h9v2h-9z"/>
<path fill="#e47120" d="M161 540h9v3h-9z"/>
<path fill="#e36a20" d="M161 537h9v3h-9z"/>
<path fill="#e0361f" d="M161 535h9v2h-9zM761 537h9v3h-9z"/>
<path fill="#e0261e" d="M161 532h9v3h-9z"/>
<path fill="#e06220" d="M161 529h9v3h-9zM752 543h9v2h-9z"/>
<path fill="#ebc722" d="M161 527h9v2h-9zM285 543h9v2h-9zM691 529h8v3h-8zM796 527h9v2h-9z"/>
<path fill="#8fb83c" d="M161 524h9v3h-9zM302 540h9v3h-9zM391 521h8v3h-8z"/>
<path fill="#79b044" d="M161 521h9v3h-9zM258 527h9v2h-9zM276 529h9v3h-9zM417 537h9v3h-9zM435 524h9v3h-9zM505 532h9v3h-9zM655 548h9v3h-9zM655 524h9v3h-9zM673 524h9v3h-9z"/>
<path fill="#1a9989" d="M161 516h9v3h-9zM285 556h9v3h-9zM620 516h9v3h-9zM629 516h9v3h-9zM779 556h9v3h-9z"/>
<path fill="#194a9e" d="M161 513h9v3h-9zM338 551h8v3h-8zM355 554h9v2h-9zM373 551h9v3h-9z"/>
<path fill="#6363ab" d="M161 505h9v3h-9zM302 505h9v3h-9zM373 419h9v3h-9zM408 562h9v2h-9zM461 591h9v3h-9zM470 615h9v3h-9zM664 567h9v3h-9z"/>
<path fill="#5c5ca6" d="M161 502h9v3h-9zM320 578h9v2h-9zM496 653h9v3h-9zM532 615h9v3h-9z"/>
<path fill="#a1a1ce" d="M161 500h9v2h-9zM241 505h8v3h-8zM664 500h9v2h-9z"/>
<path fill="#b6b6da" d="M161 497h9v3h-9zM461 602h9v3h-9zM470 502h9v3h-9zM567 575h9v3h-9zM576 481h9v3h-9zM629 567h9v3h-9zM699 575h9v3h-9z"/>
<path fill="#d8d8ec" d="M161 494h9v3h-9zM364 403h9v3h-9zM399 379h9v2h-9zM417 389h9v3h-9zM444 583h8v3h-8zM444 449h8v2h-8zM452 610h9v3h-9zM452 481h9v3h-9zM461 632h9v2h-9zM532 653h9v3h-9zM567 580h9v3h-9zM699 578h9v2h-9zM717 578h9v2h-9z"/>
<path fill="#ececf7" d="M161 489h9v3h-9zM179 489h9v3h-9zM329 500h9v2h-9zM346 430h9v2h-9zM444 599h8v3h-8zM452 626h9v3h-9zM629 570h9v2h-9zM646 470h9v3h-9z"/>
<path fill="#e4e4f3" d="M170 575h9v3h-9zM373 395h9v3h-9zM461 626h9v3h-9zM488 664h8v3h-8z"/>
<path fill="#5858a2" d="M170 570h9v2h-9zM346 492h9v2h-9z"/>
<path fill="#3d3d8b" d="M170 564h9v3h-9zM302 575h9v3h-9zM329 570h9v2h-9zM355 465h9v2h-9zM435 467h9v3h-9zM470 602h9v3h-9zM479 597h9v2h-9zM726 567h9v3h-9z"/>
<path fill="#1a5fa1" d="M170 556h9v3h-9zM417 548h9v3h-9zM479 562h9v2h-9zM638 513h8v3h-8z"/>
<path fill="#29a076" d="M170 554h9v2h-9z"/>
<path fill="#6fad46" d="M170 551h9v3h-9zM170 521h9v3h-9zM241 524h8v3h-8zM320 543h9v2h-9zM399 537h9v3h-9zM452 529h9v3h-9zM611 521h9v3h-9z"/>
<path fill="#b6c934" d="M170 548h9v3h-9zM249 545h9v3h-9zM302 532h9v3h-9z"/>
<path fill="#f0b620" d="M170 545h9v3h-9zM179 527h9v2h-9zM761 527h9v2h-9z"/>
<path fill="#d91919" d="M170 540h9v3h-9z"/>
<path fill="#e04920" d="M170 537h9v3h-9zM770 529h9v3h-9z"/>
<path fill="#e05820" d="M170 532h9v3h-9zM188 529h9v3h-9zM214 529h9v3h-9z"/>
<path fill="#e67720" d="M170 529h9v3h-9z"/>
<path fill="#f0b720" d="M170 527h9v2h-9zM241 545h8v3h-8z"/>
<path fill="#c1cd30" d="M170 524h9v3h-9zM302 543h9v2h-9z"/>
<path fill="#37a268" d="M170 519h9v2h-9z"/>
<path fill="#1a6aa0" d="M170 516h9v3h-9zM488 567h8v3h-8z"/>
<path fill="#363988" d="M170 505h9v3h-9zM320 575h9v3h-9zM338 502h8v3h-8zM346 562h9v2h-9zM373 422h9v2h-9zM417 446h9v3h-9zM417 432h9v3h-9zM470 599h9v3h-9zM585 494h8v3h-8zM620 486h9v3h-9zM664 562h9v2h-9zM673 567h9v3h-9z"/>
<path fill="#7d7dba" d="M170 502h9v3h-9zM249 502h9v3h-9zM285 597h9v2h-9zM294 597h8v2h-8zM461 610h9v3h-9zM470 618h9v3h-9zM620 478h9v3h-9zM717 572h9v3h-9z"/>
<path fill="#a0a0cd" d="M170 500h9v2h-9zM549 597h9v2h-9zM576 489h9v3h-9z"/>
<path fill="#b5b5d9" d="M170 497h9v3h-9zM188 497h9v3h-9zM197 497h8v3h-8zM214 502h9v3h-9zM249 586h9v3h-9zM267 505h9v3h-9zM302 605h9v2h-9zM355 435h9v3h-9zM382 389h9v3h-9zM593 570h9v2h-9zM743 502h9v3h-9zM761 502h9v3h-9z"/>
<path fill="#d7d7ec" d="M170 494h9v3h-9zM241 497h8v3h-8zM249 591h9v3h-9zM294 613h8v2h-8zM373 392h9v3h-9zM452 607h9v3h-9zM461 607h9v3h-9zM541 637h8v3h-8zM638 473h8v3h-8z"/>
<path fill="#f4f4fb" d="M179 575h9v3h-9zM214 575h9v3h-9zM285 500h9v2h-9zM364 408h9v3h-9zM391 381h8v3h-8zM399 381h9v3h-9zM558 594h9v3h-9zM585 572h8v3h-8zM620 572h9v3h-9zM673 575h9v3h-9zM699 497h9v3h-9zM708 497h9v3h-9z"/>
<path fill="#a5a5d0" d="M179 572h9v3h-9zM355 441h9v2h-9zM505 505h9v3h-9zM576 570h9v2h-9zM726 500h9v2h-9z"/>
<path fill="#474795" d="M179 570h9v2h-9zM276 508h9v2h-9zM373 562h9v2h-9zM391 400h8v3h-8zM523 637h9v3h-9zM576 564h9v3h-9zM620 481h9v3h-9z"/>
<path fill="#4e4e9b" d="M179 567h9v3h-9zM593 476h9v2h-9zM611 478h9v3h-9z"/>
<path fill="#494996" d="M179 564h9v3h-9z"/>
<path fill="#1a779d" d="M179 556h9v3h-9zM461 524h9v3h-9zM514 559h9v3h-9zM602 551h9v3h-9zM620 510h9v3h-9zM743 556h9v3h-9z"/>
<path fill="#229e7e" d="M179 554h9v2h-9zM373 516h9v3h-9zM752 554h9v2h-9z"/>
<path fill="#57a651" d="M179 551h9v3h-9zM311 527h9v2h-9zM479 529h9v3h-9z"/>
<path fill="#bdcb31" d="M179 548h9v3h-9zM382 535h9v2h-9zM779 527h9v2h-9z"/>
<path fill="#ec9020" d="M179 545h9v3h-9zM682 540h9v3h-9z"/>
<path fill="#e06020" d="M179 543h9v2h-9zM197 540h8v3h-8zM743 532h9v3h-9z"/>
<path fill="#e05f20" d="M179 540h9v3h-9zM691 537h8v3h-8zM796 543h9v2h-9z"/>
<path fill="#731313" d="M179 535h9v2h-9zM726 535h9v2h-9z"/>
<path fill="#c61818" d="M179 532h9v3h-9z"/>
<path fill="#f09f20" d="M179 529h9v3h-9zM188 527h9v2h-9z"/>
<path fill="#e6cf25" d="M179 524h9v3h-9zM276 545h9v3h-9z"/>
<path fill="#8eb73d" d="M179 521h9v3h-9zM294 548h8v3h-8zM355 537h9v3h-9zM382 537h9v3h-9zM408 537h9v3h-9zM479 535h9v2h-9z"/>
<path fill="#32a16d" d="M179 519h9v2h-9zM682 554h9v2h-9z"/>
<path fill="#26a078" d="M179 516h9v3h-9zM461 554h9v2h-9zM470 524h9v3h-9zM496 529h9v3h-9zM699 554h9v2h-9z"/>
<path fill="#18499d" d="M179 513h9v3h-9zM302 521h9v3h-9zM549 519h9v2h-9zM620 505h9v3h-9zM735 556h8v3h-8zM752 513h9v3h-9zM788 556h8v3h-8z"/>
<path fill="#7070b2" d="M179 502h9v3h-9zM444 494h8v3h-8z"/>
<path fill="#8787bf" d="M179 500h9v2h-9zM241 575h8v3h-8zM311 505h9v3h-9zM602 567h9v3h-9z"/>
<path fill="#babadc" d="M179 494h9v3h-9zM232 572h9v3h-9zM249 580h9v3h-9zM294 602h8v3h-8z"/>
<path fill="#dadaed" d="M179 492h9v2h-9zM329 489h9v3h-9zM391 572h8v3h-8zM399 572h9v3h-9zM479 664h9v3h-9zM708 494h9v3h-9z"/>
<path fill="#8d8dc3" d="M188 572h9v3h-9zM364 432h9v3h-9zM435 459h9v3h-9zM602 473h9v3h-9z"/>
<path fill="#a8a8d2" d="M188 570h9v2h-9zM302 597h9v2h-9zM373 411h9v3h-9zM373 398h9v2h-9zM532 632h9v2h-9z"/>
<path fill="#3b3b89" d="M188 567h9v3h-9zM435 489h9v3h-9zM717 505h9v3h-9z"/>
<path fill="#2c3586" d="M188 564h9v3h-9zM241 567h8v3h-8zM391 424h8v3h-8zM417 459h9v3h-9z"/>
<path fill="#183d94" d="M188 559h9v3h-9z"/>
<path fill="#1a8f93" d="M188 554h9v2h-9zM223 519h9v2h-9zM461 556h9v3h-9z"/>
<path fill="#7ab143" d="M188 551h9v3h-9zM452 540h9v3h-9zM558 540h9v3h-9z"/>
<path fill="#b8ca33" d="M188 548h9v3h-9zM249 548h9v3h-9zM602 540h9v3h-9z"/>
<path fill="#efc221" d="M188 545h9v3h-9zM788 527h8v2h-8z"/>
<path fill="#f0a420" d="M188 543h9v2h-9zM691 543h8v2h-8z"/>
<path fill="#e47020" d="M188 537h9v3h-9z"/>
<path fill="#d6d828" d="M188 524h9v3h-9zM223 545h9v3h-9zM241 532h8v3h-8zM258 545h9v3h-9zM611 532h9v3h-9zM620 529h9v3h-9zM646 535h9v2h-9z"/>
<path fill="#6cac47" d="M188 521h9v3h-9zM496 551h9v3h-9zM496 532h9v3h-9zM593 524h9v3h-9zM735 521h8v3h-8z"/>
<path fill="#209d80" d="M188 519h9v2h-9zM541 551h8v3h-8z"/>
<path fill="#1a958d" d="M188 516h9v3h-9zM241 556h8v3h-8zM338 548h8v3h-8zM417 545h9v3h-9zM514 527h9v2h-9z"/>
<path fill="#a0a0ce" d="M188 502h9v3h-9z"/>
<path fill="#c8c8e4" d="M188 500h9v2h-9zM188 494h9v3h-9zM302 500h9v2h-9zM435 424h9v3h-9zM461 629h9v3h-9zM523 661h9v3h-9zM620 462h9v3h-9z"/>
<path fill="#dcdcef" d="M188 489h9v3h-9zM488 675h8v2h-8zM682 572h9v3h-9z"/>
<path fill="#e5e5f3" d="M197 575h8v3h-8zM223 497h9v3h-9zM232 578h9v2h-9zM267 605h9v2h-9zM338 478h8v3h-8zM355 427h9v3h-9zM382 570h9v2h-9zM417 392h9v3h-9zM435 427h9v3h-9zM444 580h8v3h-8zM452 486h9v3h-9zM470 645h9v3h-9zM505 669h9v3h-9zM567 578h9v2h-9zM567 489h9v3h-9zM691 497h8v3h-8z"/>
<path fill="#cfcfe7" d="M197 572h8v3h-8zM346 465h9v2h-9zM399 387h9v2h-9zM523 653h9v3h-9zM549 605h9v2h-9zM699 500h9v2h-9z"/>
<path fill="#6161aa" d="M197 570h8v2h-8zM417 408h9v3h-9zM479 642h9v3h-9zM532 621h9v2h-9zM585 489h8v3h-8zM682 505h9v3h-9zM708 502h9v3h-9z"/>
<path fill="#4f4f9b" d="M197 567h8v3h-8zM399 400h9v3h-9zM435 473h9v3h-9zM611 562h9v2h-9zM691 505h8v3h-8z"/>
<path fill="#223689" d="M197 564h8v3h-8zM408 422h9v2h-9zM426 559h9v3h-9zM461 570h9v2h-9zM470 516h9v3h-9zM505 640h9v2h-9zM514 634h9v3h-9zM717 564h9v3h-9z"/>
<path fill="#4fa557" d="M197 554h8v2h-8zM285 554h9v2h-9zM346 524h9v3h-9zM496 545h9v3h-9zM523 548h9v3h-9zM638 519h8v2h-8z"/>
<path fill="#6aab47" d="M197 551h8v3h-8z"/>
<path fill="#8db73d" d="M197 548h8v3h-8z"/>
<path fill="#bccb32" d="M197 545h8v3h-8z"/>
<path fill="#e77d20" d="M197 543h8v2h-8zM205 529h9v3h-9zM249 537h9v3h-9zM664 537h9v3h-9zM761 529h9v3h-9z"/>
<path fill="#e1201c" d="M197 537h8v3h-8z"/>
<path fill="#e03f20" d="M197 529h8v3h-8z"/>
<path fill="#eec421" d="M197 527h8v2h-8z"/>
<path fill="#95bb39" d="M197 524h8v3h-8zM391 537h8v3h-8z"/>
<path fill="#44a45f" d="M197 521h8v3h-8zM514 529h9v3h-9zM779 551h9v3h-9z"/>
<path fill="#239e7c" d="M197 519h8v2h-8z"/>
<path fill="#194fa0" d="M197 516h8v3h-8zM408 502h9v3h-9zM567 519h9v2h-9zM691 516h8v3h-8z"/>
<path fill="#1a56a2" d="M197 513h8v3h-8zM399 510h9v3h-9zM567 554h9v2h-9zM585 516h8v3h-8zM602 510h9v3h-9zM664 554h9v2h-9z"/>
<path fill="#313787" d="M197 505h8v3h-8zM276 580h9v3h-9zM355 478h9v3h-9zM391 414h8v2h-8zM417 419h9v3h-9zM523 629h9v3h-9zM593 562h9v2h-9zM602 562h9v2h-9zM708 567h9v3h-9z"/>
<path fill="#9696c8" d="M197 502h8v3h-8zM391 389h8v3h-8zM523 650h9v3h-9zM638 484h8v2h-8z"/>
<path fill="#9494c7" d="M197 500h8v2h-8zM311 508h9v2h-9zM399 562h9v2h-9zM479 645h9v3h-9z"/>
<path fill="#e6e6f4" d="M197 494h8v3h-8zM276 610h9v3h-9zM311 605h9v2h-9zM320 597h9v2h-9zM329 586h9v3h-9zM338 476h8v2h-8zM346 449h9v2h-9zM355 572h9v3h-9zM461 497h9v3h-9zM558 597h9v2h-9zM576 476h9v2h-9z"/>
<path fill="#d6d6eb" d="M205 575h9v3h-9zM232 497h9v3h-9zM329 494h9v3h-9zM399 570h9v2h-9zM426 406h9v2h-9zM514 667h9v2h-9zM541 634h8v3h-8zM585 567h8v3h-8zM585 467h8v3h-8zM593 572h9v3h-9zM611 572h9v3h-9z"/>
<path fill="#c1c1e0" d="M205 572h9v3h-9zM214 572h9v3h-9zM223 500h9v2h-9zM435 570h9v2h-9zM558 583h9v3h-9zM638 567h8v3h-8zM646 489h9v3h-9z"/>
<path fill="#5858a3" d="M205 570h9v2h-9zM267 580h9v3h-9zM346 478h9v3h-9zM408 406h9v2h-9z"/>
<path fill="#1c9b85" d="M205 554h9v2h-9zM479 559h9v3h-9zM567 548h9v3h-9z"/>
<path fill="#66aa49" d="M205 551h9v3h-9zM338 545h8v3h-8zM549 540h9v3h-9zM576 529h9v3h-9z"/>
<path fill="#89b53f" d="M205 548h9v3h-9zM585 535h8v2h-8zM788 551h8v3h-8z"/>
<path fill="#a2c238" d="M205 545h9v3h-9zM593 529h9v3h-9zM682 527h9v2h-9z"/>
<path fill="#f0a220" d="M205 543h9v2h-9z"/>
<path fill="#e03a20" d="M205 540h9v3h-9zM752 532h9v3h-9zM796 540h9v3h-9z"/>
<path fill="#ec9120" d="M205 537h9v3h-9z"/>
<path fill="#e04d20" d="M205 535h9v2h-9zM682 537h9v3h-9zM743 529h9v3h-9z"/>
<path fill="#ee9820" d="M205 532h9v3h-9zM655 540h9v3h-9z"/>
<path fill="#f0b420" d="M205 527h9v2h-9zM258 543h9v2h-9z"/>
<path fill="#72ae46" d="M205 521h9v3h-9zM496 535h9v2h-9zM567 535h9v2h-9z"/>
<path fill="#259f79" d="M205 519h9v2h-9z"/>
<path fill="#1a65a1" d="M205 516h9v3h-9zM267 562h9v2h-9zM426 548h9v3h-9z"/>
<path fill="#444492" d="M205 505h9v3h-9zM267 578h9v2h-9zM276 589h9v2h-9zM426 451h9v3h-9zM444 492h8v2h-8zM496 640h9v2h-9zM567 505h9v3h-9zM629 562h9v2h-9z"/>
<path fill="#a2a2cf" d="M205 500h9v2h-9zM346 470h9v3h-9zM417 403h9v3h-9zM435 446h9v3h-9z"/>
<path fill="#b7b7da" d="M205 497h9v3h-9zM214 570h9v2h-9zM426 570h9v2h-9zM567 492h9v2h-9zM638 572h8v3h-8z"/>
<path fill="#bdbdde" d="M214 578h9v2h-9zM267 597h9v2h-9zM611 467h9v3h-9z"/>
<path fill="#37a269" d="M214 554h9v2h-9zM505 556h9v3h-9zM558 543h9v2h-9zM567 543h9v2h-9z"/>
<path fill="#4ea557" d="M214 551h9v3h-9zM761 521h9v3h-9z"/>
<path fill="#7db143" d="M214 548h9v3h-9zM241 548h8v3h-8zM258 548h9v3h-9zM382 524h9v3h-9zM426 527h9v2h-9zM426 521h9v3h-9zM496 540h9v3h-9zM514 540h9v3h-9zM664 524h9v3h-9zM752 548h9v3h-9z"/>
<path fill="#a6c438" d="M214 545h9v3h-9zM232 548h9v3h-9zM646 527h9v2h-9z"/>
<path fill="#d5d828" d="M214 540h9v3h-9z"/>
<path fill="#f0a120" d="M214 537h9v3h-9z"/>
<path fill="#aec737" d="M214 527h9v2h-9zM602 535h9v2h-9z"/>
<path fill="#77b044" d="M214 524h9v3h-9zM302 529h9v3h-9zM426 537h9v3h-9zM708 524h9v3h-9zM735 551h8v3h-8z"/>
<path fill="#219d7f" d="M214 519h9v2h-9zM752 519h9v2h-9z"/>
<path fill="#1f9d81" d="M214 516h9v3h-9zM417 510h9v3h-9zM558 524h9v3h-9z"/>
<path fill="#18459b" d="M214 513h9v3h-9zM311 521h9v3h-9zM364 508h9v2h-9zM391 554h8v2h-8zM417 551h9v3h-9zM523 567h9v3h-9zM611 508h9v2h-9z"/>
<path fill="#293486" d="M214 505h9v3h-9zM276 510h9v3h-9zM364 489h9v3h-9zM417 473h9v3h-9zM514 645h9v3h-9zM532 618h9v3h-9z"/>
<path fill="#e8e8f5" d="M214 494h9v3h-9zM267 497h9v3h-9zM320 497h9v3h-9zM346 443h9v3h-9zM373 572h9v3h-9zM373 406h9v2h-9zM444 446h8v3h-8zM452 478h9v3h-9zM505 500h9v2h-9zM620 459h9v3h-9zM761 494h9v3h-9zM770 494h9v3h-9zM779 578h9v2h-9zM788 578h8v2h-8zM788 494h8v3h-8z"/>
<path fill="#dcdcee" d="M214 492h9v2h-9zM346 435h9v3h-9zM373 403h9v3h-9zM408 376h9v3h-9zM417 381h9v3h-9zM496 497h9v3h-9zM585 476h8v2h-8zM761 492h9v2h-9zM770 500h9v2h-9zM779 492h9v2h-9zM796 572h9v3h-9z"/>
<path fill="#1a51a1" d="M223 556h9v3h-9zM346 516h9v3h-9zM435 516h9v3h-9zM735 559h8v3h-8z"/>
<path fill="#1a8b97" d="M223 554h9v2h-9zM373 545h9v3h-9zM620 513h9v3h-9zM664 519h9v2h-9zM735 516h8v3h-8z"/>
<path fill="#87b440" d="M223 548h9v3h-9zM541 540h8v3h-8zM770 521h9v3h-9z"/>
<path fill="#e06120" d="M223 543h9v2h-9zM699 537h9v3h-9zM717 540h9v3h-9z"/>
<path fill="#e05920" d="M223 540h9v3h-9zM735 532h8v3h-8zM752 540h9v3h-9zM770 532h9v3h-9z"/>
<path fill="#ec8f20" d="M223 535h9v2h-9zM726 545h9v3h-9z"/>
<path fill="#ea8920" d="M223 532h9v3h-9z"/>
<path fill="#9bbe38" d="M223 527h9v2h-9zM523 545h9v3h-9z"/>
<path fill="#6dac47" d="M223 524h9v3h-9zM232 524h9v3h-9zM364 540h9v3h-9zM488 545h8v3h-8zM585 543h8v2h-8zM726 551h9v3h-9zM779 521h9v3h-9z"/>
<path fill="#48a45c" d="M223 521h9v3h-9zM408 540h9v3h-9zM461 551h9v3h-9zM479 551h9v3h-9zM514 532h9v3h-9zM770 554h9v2h-9z"/>
<path fill="#183e96" d="M223 513h9v3h-9zM285 516h9v3h-9zM294 562h8v2h-8zM320 562h9v2h-9zM320 519h9v2h-9zM329 559h9v3h-9zM399 502h9v3h-9zM470 575h9v3h-9zM726 513h9v3h-9z"/>
<path fill="#283486" d="M223 508h9v2h-9zM373 454h9v3h-9zM426 481h9v3h-9zM496 632h9v2h-9zM514 626h9v3h-9zM523 610h9v3h-9zM602 492h9v2h-9zM629 494h9v3h-9zM699 564h9v3h-9zM752 567h9v3h-9z"/>
<path fill="#6c6cb0" d="M223 505h9v3h-9zM346 502h9v3h-9zM444 497h8v3h-8zM488 508h8v2h-8zM567 500h9v2h-9z"/>
<path fill="#d0d0e8" d="M232 575h9v3h-9zM399 567h9v3h-9zM408 389h9v3h-9zM435 438h9v3h-9z"/>
<path fill="#7272b4" d="M232 570h9v2h-9zM329 505h9v3h-9zM346 486h9v3h-9zM364 422h9v2h-9zM541 607h8v3h-8z"/>
<path fill="#52529e" d="M232 567h9v3h-9zM302 508h9v2h-9zM391 562h8v2h-8zM399 398h9v2h-9zM417 416h9v3h-9zM523 640h9v2h-9zM602 476h9v2h-9zM638 492h8v2h-8zM646 564h9v3h-9z"/>
<path fill="#1a62a1" d="M232 556h9v3h-9zM276 562h9v2h-9z"/>
<path fill="#90b83c" d="M232 551h9v3h-9z"/>
<path fill="#a5c338" d="M232 545h9v3h-9zM311 540h9v3h-9z"/>
<path fill="#e77e20" d="M232 537h9v3h-9zM241 543h8v2h-8zM673 537h9v3h-9zM673 535h9v2h-9z"/>
<path fill="#f0c120" d="M232 532h9v3h-9z"/>
<path fill="#ecc522" d="M232 529h9v3h-9z"/>
<path fill="#96bb39" d="M232 527h9v2h-9zM285 545h9v3h-9zM373 537h9v3h-9zM470 535h9v2h-9zM514 535h9v2h-9z"/>
<path fill="#3ea363" d="M232 521h9v3h-9zM355 543h9v2h-9zM576 543h9v2h-9zM585 521h8v3h-8z"/>
<path fill="#1a8a98" d="M232 519h9v2h-9zM338 521h8v3h-8zM408 545h9v3h-9zM488 562h8v2h-8z"/>
<path fill="#1a52a1" d="M232 516h9v3h-9zM364 510h9v3h-9zM382 548h9v3h-9zM408 508h9v2h-9zM461 521h9v3h-9zM532 521h9v3h-9zM611 510h9v3h-9zM646 556h9v3h-9zM646 513h9v3h-9z"/>
<path fill="#253588" d="M232 510h9v3h-9zM479 621h9v2h-9zM479 607h9v3h-9zM549 570h9v2h-9zM629 564h9v3h-9zM796 508h9v2h-9z"/>
<path fill="#2f3687" d="M232 508h9v2h-9zM364 473h9v3h-9zM373 559h9v3h-9zM470 610h9v3h-9zM514 637h9v3h-9z"/>
<path fill="#9393c6" d="M232 505h9v3h-9zM285 602h9v3h-9zM382 562h9v2h-9zM417 406h9v2h-9zM496 658h9v3h-9z"/>
<path fill="#9292c6" d="M232 502h9v3h-9zM452 580h9v3h-9zM505 658h9v3h-9zM602 470h9v3h-9z"/>
<path fill="#a7a7d1" d="M232 500h9v2h-9zM329 572h9v3h-9zM346 481h9v3h-9z"/>
<path fill="#e9e9f5" d="M232 494h9v3h-9zM302 613h9v2h-9zM320 586h9v3h-9zM338 580h8v3h-8zM338 467h8v3h-8zM364 400h9v3h-9zM408 572h9v3h-9zM408 379h9v2h-9zM417 387h9v2h-9zM452 613h9v2h-9zM461 494h9v3h-9zM541 642h8v3h-8zM549 497h9v3h-9zM593 575h9v3h-9zM620 470h9v3h-9zM629 462h9v3h-9zM646 478h9v3h-9zM735 494h8v3h-8z"/>
<path fill="#e6e6f3" d="M241 583h8v3h-8zM602 572h9v3h-9zM664 494h9v3h-9z"/>
<path fill="#9797c8" d="M241 572h8v3h-8zM558 580h9v3h-9zM576 486h9v3h-9z"/>
<path fill="#18439a" d="M241 559h8v3h-8zM258 516h9v3h-9zM338 556h8v3h-8zM532 567h9v3h-9zM788 559h8v3h-8z"/>
<path fill="#4ba45a" d="M241 554h8v2h-8zM452 527h9v2h-9zM470 527h9v2h-9zM558 537h9v3h-9zM743 521h9v3h-9z"/>
<path fill="#6eac46" d="M241 551h8v3h-8zM488 537h8v3h-8zM620 521h9v3h-9z"/>
<path fill="#e46f20" d="M241 540h8v3h-8z"/>
<path fill="#e26920" d="M241 537h8v3h-8z"/>
<path fill="#e98520" d="M241 535h8v2h-8z"/>
<path fill="#ebc823" d="M241 529h8v3h-8zM699 545h9v3h-9z"/>
<path fill="#9ebf38" d="M241 527h8v2h-8zM249 527h9v2h-9zM267 529h9v3h-9zM364 532h9v3h-9zM479 540h9v3h-9zM496 548h9v3h-9z"/>
<path fill="#41a361" d="M241 521h8v3h-8zM479 532h9v3h-9zM576 540h9v3h-9zM646 521h9v3h-9z"/>
<path fill="#18449a" d="M241 516h8v3h-8zM311 562h9v2h-9zM382 505h9v3h-9zM461 562h9v2h-9zM505 564h9v3h-9zM673 556h9v3h-9zM735 513h8v3h-8z"/>
<path fill="#2b3586" d="M241 508h8v2h-8zM532 599h9v3h-9zM532 586h9v3h-9zM602 489h9v3h-9zM638 497h8v3h-8zM655 564h9v3h-9zM761 508h9v2h-9z"/>
<path fill="#8888c0" d="M241 502h8v3h-8zM408 395h9v3h-9zM435 449h9v2h-9zM567 502h9v3h-9zM699 567h9v3h-9z"/>
<path fill="#f9f9fd" d="M241 500h8v2h-8zM249 607h9v3h-9zM267 621h9v2h-9zM276 623h9v3h-9zM302 623h9v3h-9zM320 613h9v2h-9zM346 419h9v3h-9zM426 580h9v3h-9zM461 478h9v3h-9zM488 680h8v3h-8zM496 683h9v2h-9zM523 677h9v3h-9zM549 642h9v3h-9zM558 623h9v3h-9zM602 446h9v3h-9zM638 583h8v3h-8zM655 583h9v3h-9z"/>
<path fill="#b0b0d6" d="M249 597h9v2h-9zM355 443h9v3h-9z"/>
<path fill="#aaaad3" d="M249 589h9v2h-9zM488 502h8v3h-8z"/>
<path fill="#5e5ea7" d="M249 583h9v3h-9zM435 478h9v3h-9zM558 505h9v3h-9zM638 564h8v3h-8zM770 567h9v3h-9z"/>
<path fill="#8e8ec3" d="M249 578h9v2h-9zM532 508h9v2h-9zM620 476h9v2h-9z"/>
<path fill="#5a5aa4" d="M249 575h9v3h-9zM382 414h9v2h-9z"/>
<path fill="#273486" d="M249 572h9v3h-9zM444 564h8v3h-8z"/>
<path fill="#1a709f" d="M249 559h9v3h-9zM258 556h9v3h-9zM496 564h9v3h-9zM708 556h9v3h-9z"/>
<path fill="#1a55a2" d="M249 556h9v3h-9zM408 500h9v2h-9zM541 521h8v3h-8z"/>
<path fill="#49a45c" d="M249 554h9v2h-9zM523 554h9v2h-9z"/>
<path fill="#ea8620" d="M249 540h9v3h-9z"/>
<path fill="#f0a620" d="M249 535h9v2h-9z"/>
<path fill="#e1d627" d="M249 532h9v3h-9zM294 537h8v3h-8zM620 532h9v3h-9zM655 543h9v2h-9z"/>
<path fill="#edc522" d="M249 529h9v3h-9z"/>
<path fill="#8bb63e" d="M249 524h9v3h-9zM523 532h9v3h-9z"/>
<path fill="#2ba173" d="M249 521h9v3h-9zM364 516h9v3h-9zM505 559h9v3h-9zM514 556h9v3h-9zM558 545h9v3h-9z"/>
<path fill="#184097" d="M249 516h9v3h-9zM382 502h9v3h-9zM426 551h9v3h-9zM426 508h9v2h-9zM444 554h8v2h-8zM514 564h9v3h-9zM638 510h8v3h-8zM673 513h9v3h-9z"/>
<path fill="#183e95" d="M249 513h9v3h-9zM346 510h9v3h-9zM364 505h9v3h-9zM364 502h9v3h-9zM391 497h8v3h-8zM505 572h9v3h-9zM611 554h9v2h-9zM743 559h9v3h-9z"/>
<path fill="#5b5ba5" d="M249 508h9v2h-9zM311 586h9v3h-9z"/>
<path fill="#d2d2e9" d="M249 500h9v2h-9zM329 580h9v3h-9zM346 459h9v3h-9zM461 621h9v2h-9zM523 656h9v2h-9zM638 478h8v3h-8z"/>
<path fill="#eaeaf6" d="M249 494h9v3h-9zM311 610h9v3h-9zM320 494h9v3h-9zM346 438h9v3h-9zM435 414h9v2h-9zM444 438h8v3h-8zM452 470h9v3h-9zM452 467h9v3h-9zM576 578h9v2h-9zM593 470h9v3h-9zM611 454h9v3h-9zM620 457h9v2h-9zM646 476h9v2h-9zM726 580h9v3h-9z"/>
<path fill="#ededf7" d="M258 615h9v3h-9zM285 492h9v2h-9zM338 489h8v3h-8zM346 570h9v2h-9zM496 505h9v3h-9zM602 580h9v3h-9zM629 580h9v3h-9zM673 583h9v3h-9zM691 586h8v3h-8zM770 583h9v3h-9zM770 489h9v3h-9zM796 489h9v3h-9z"/>
<path fill="#cacae5" d="M258 602h9v3h-9zM329 492h9v2h-9zM355 422h9v2h-9zM435 419h9v3h-9zM444 478h8v3h-8zM576 473h9v3h-9zM708 572h9v3h-9zM770 578h9v2h-9z"/>
<path fill="#adadd5" d="M258 599h9v3h-9zM329 575h9v3h-9zM346 473h9v3h-9zM655 570h9v2h-9z"/>
<path fill="#c3c3e1" d="M258 594h9v3h-9zM320 580h9v3h-9zM338 486h8v3h-8zM558 586h9v3h-9zM585 473h8v3h-8zM664 497h9v3h-9z"/>
<path fill="#cecee7" d="M258 591h9v3h-9zM267 502h9v3h-9zM311 589h9v2h-9zM373 567h9v3h-9zM717 500h9v2h-9z"/>
<path fill="#aeaed5" d="M258 589h9v2h-9zM391 398h8v2h-8zM655 497h9v3h-9z"/>
<path fill="#7878b7" d="M258 586h9v3h-9zM505 650h9v3h-9z"/>
<path fill="#454593" d="M258 583h9v3h-9zM258 578h9v2h-9zM302 589h9v2h-9zM417 451h9v3h-9zM461 583h9v3h-9zM479 629h9v3h-9zM479 618h9v3h-9zM496 648h9v2h-9zM593 484h9v2h-9zM752 505h9v3h-9zM779 567h9v3h-9zM788 505h8v3h-8z"/>
<path fill="#7a7ab8" d="M258 580h9v3h-9zM382 406h9v2h-9zM391 564h8v3h-8zM399 564h9v3h-9zM611 470h9v3h-9z"/>
<path fill="#184299" d="M258 567h9v3h-9zM311 559h9v3h-9zM346 554h9v2h-9zM355 508h9v2h-9zM373 508h9v2h-9zM391 484h8v2h-8zM408 551h9v3h-9zM426 502h9v3h-9zM479 570h9v2h-9zM488 570h8v2h-8zM523 564h9v3h-9zM558 556h9v3h-9z"/>
<path fill="#1a759e" d="M258 559h9v3h-9zM779 516h9v3h-9z"/>
<path fill="#39a268" d="M258 554h9v2h-9z"/>
<path fill="#f0a320" d="M258 540h9v3h-9zM726 548h9v3h-9z"/>
<path fill="#e04020" d="M258 537h9v3h-9z"/>
<path fill="#e5d126" d="M258 535h9v2h-9zM735 527h8v2h-8z"/>
<path fill="#e3d427" d="M258 532h9v3h-9z"/>
<path fill="#a7c538" d="M258 529h9v3h-9z"/>
<path fill="#43a35f" d="M258 524h9v3h-9zM338 527h8v2h-8z"/>
<path fill="#1a8d95" d="M258 521h9v3h-9zM267 521h9v3h-9zM541 554h8v2h-8z"/>
<path fill="#1a59a2" d="M258 519h9v2h-9zM320 554h9v2h-9zM329 519h9v2h-9zM452 554h9v2h-9zM479 524h9v3h-9zM593 551h9v3h-9z"/>
<path fill="#343887" d="M258 508h9v2h-9zM276 583h9v3h-9zM417 476h9v2h-9zM470 583h9v3h-9zM523 634h9v3h-9z"/>
<path fill="#5f5fa8" d="M258 505h9v3h-9zM355 484h9v2h-9zM373 424h9v3h-9zM417 411h9v3h-9zM479 640h9v2h-9zM505 513h9v3h-9zM585 484h8v2h-8zM638 489h8v3h-8zM752 570h9v2h-9zM788 502h8v3h-8z"/>
<path fill="#cccce6" d="M258 502h9v3h-9zM276 602h9v3h-9zM444 441h8v2h-8zM496 661h9v3h-9zM629 476h9v2h-9zM743 572h9v3h-9z"/>
<path fill="#ddddef" d="M267 615h9v3h-9zM417 400h9v3h-9zM444 424h8v3h-8zM488 658h8v3h-8z"/>
<path fill="#e8e8f4" d="M267 607h9v3h-9zM391 379h8v2h-8zM549 621h9v2h-9zM558 494h9v3h-9zM576 575h9v3h-9z"/>
<path fill="#a9a9d2" d="M267 602h9v3h-9zM514 508h9v2h-9z"/>
<path fill="#cfcfe8" d="M267 599h9v3h-9zM338 572h8v3h-8zM364 416h9v3h-9zM382 567h9v3h-9zM620 467h9v3h-9z"/>
<path fill="#4a4a98" d="M267 589h9v2h-9zM470 632h9v2h-9z"/>
<path fill="#8484be" d="M267 586h9v3h-9zM373 564h9v3h-9zM444 486h8v3h-8zM461 505h9v3h-9zM479 632h9v2h-9zM488 510h8v3h-8zM699 502h9v3h-9zM717 502h9v3h-9z"/>
<path fill="#5d5da6" d="M267 583h9v3h-9zM294 591h8v3h-8zM576 500h9v2h-9z"/>
<path fill="#184298" d="M267 564h9v3h-9zM505 519h9v2h-9z"/>
<path fill="#1a7d9b" d="M267 559h9v3h-9z"/>
<path fill="#3ba265" d="M267 556h9v3h-9z"/>
<path fill="#1e9c83" d="M267 554h9v2h-9zM496 527h9v2h-9zM593 519h9v2h-9z"/>
<path fill="#56a652" d="M267 551h9v3h-9zM611 545h9v3h-9zM708 551h9v3h-9z"/>
<path fill="#72ae45" d="M267 548h9v3h-9z"/>
<path fill="#dcd828" d="M267 540h9v3h-9zM752 545h9v3h-9z"/>
<path fill="#b4c934" d="M267 537h9v3h-9zM399 527h9v2h-9zM796 524h9v3h-9z"/>
<path fill="#adc737" d="M267 535h9v2h-9zM585 532h8v3h-8zM673 527h9v2h-9z"/>
<path fill="#cbd32c" d="M267 532h9v3h-9z"/>
<path fill="#2da171" d="M267 524h9v3h-9zM761 554h9v2h-9z"/>
<path fill="#353887" d="M267 508h9v2h-9zM285 510h9v3h-9zM408 416h9v3h-9zM417 449h9v2h-9zM726 505h9v3h-9z"/>
<path fill="#d5d5ea" d="M267 500h9v2h-9zM329 583h9v3h-9zM514 502h9v3h-9zM523 658h9v3h-9z"/>
<path fill="#9d9dcc" d="M276 607h9v3h-9zM355 451h9v3h-9zM417 564h9v3h-9zM435 432h9v3h-9zM444 570h8v2h-8zM576 567h9v3h-9zM585 481h8v3h-8zM602 462h9v3h-9zM620 567h9v3h-9z"/>
<path fill="#dfdff0" d="M276 605h9v2h-9zM391 567h8v3h-8zM532 642h9v3h-9z"/>
<path fill="#7b7bb9" d="M276 599h9v3h-9zM285 508h9v2h-9zM338 570h8v2h-8zM435 567h9v3h-9zM479 634h9v3h-9zM532 613h9v2h-9zM593 473h9v3h-9z"/>
<path fill="#c2c2e0" d="M276 597h9v2h-9zM285 502h9v3h-9zM311 502h9v3h-9zM346 462h9v3h-9zM373 400h9v3h-9zM452 494h9v3h-9zM558 500h9v2h-9zM585 570h8v2h-8zM593 467h9v3h-9zM611 570h9v2h-9z"/>
<path fill="#9595c8" d="M276 594h9v3h-9z"/>
<path fill="#9090c5" d="M276 591h9v3h-9zM338 497h8v3h-8zM408 398h9v2h-9zM470 613h9v2h-9z"/>
<path fill="#3c3c8a" d="M276 586h9v3h-9zM294 594h8v3h-8zM294 510h8v3h-8zM311 578h9v2h-9zM338 505h8v3h-8zM355 492h9v2h-9zM488 637h8v3h-8zM496 650h9v3h-9zM541 591h8v3h-8zM549 510h9v3h-9zM629 492h9v2h-9z"/>
<path fill="#1a749e" d="M276 559h9v3h-9zM488 524h8v3h-8zM505 562h9v2h-9z"/>
<path fill="#1a978b" d="M276 556h9v3h-9zM373 513h9v3h-9zM417 513h9v3h-9zM505 524h9v3h-9z"/>
<path fill="#5aa74f" d="M276 554h9v2h-9zM452 535h9v2h-9zM629 521h9v3h-9z"/>
<path fill="#6fac46" d="M276 551h9v3h-9z"/>
<path fill="#a9c638" d="M276 543h9v2h-9z"/>
<path fill="#ded828" d="M276 540h9v3h-9z"/>
<path fill="#ced42a" d="M276 537h9v3h-9z"/>
<path fill="#9dbf38" d="M276 532h9v3h-9zM391 535h8v2h-8zM417 535h9v2h-9zM752 524h9v3h-9z"/>
<path fill="#42a361" d="M276 527h9v2h-9zM408 521h9v3h-9z"/>
<path fill="#1a938f" d="M276 521h9v3h-9zM488 527h8v2h-8zM496 556h9v3h-9zM726 556h9v3h-9z"/>
<path fill="#194c9e" d="M276 519h9v2h-9zM346 551h9v3h-9z"/>
<path fill="#a5a5d1" d="M276 502h9v3h-9zM479 650h9v3h-9z"/>
<path fill="#cbcbe5" d="M285 615h9v3h-9zM602 467h9v3h-9zM682 494h9v3h-9zM717 494h9v3h-9zM735 572h8v3h-8z"/>
<path fill="#e0e0f0" d="M285 607h9v3h-9zM444 575h8v3h-8zM549 607h9v3h-9z"/>
<path fill="#6161a9" d="M285 594h9v3h-9z"/>
<path fill="#233689" d="M285 591h9v3h-9zM391 411h8v3h-8zM417 457h9v2h-9zM523 591h9v3h-9zM532 591h9v3h-9z"/>
<path fill="#2d3687" d="M285 586h9v3h-9zM364 438h9v3h-9zM382 422h9v2h-9zM488 621h8v2h-8zM699 508h9v2h-9z"/>
<path fill="#1950a0" d="M285 562h9v2h-9zM399 505h9v3h-9zM435 551h9v3h-9zM435 513h9v3h-9zM602 554h9v2h-9zM788 516h8v3h-8z"/>
<path fill="#6aab48" d="M285 548h9v3h-9zM338 543h8v2h-8zM355 529h9v3h-9z"/>
<path fill="#f0aa20" d="M285 540h9v3h-9z"/>
<path fill="#97bb39" d="M285 537h9v3h-9zM355 532h9v3h-9z"/>
<path fill="#ddd828" d="M285 535h9v2h-9z"/>
<path fill="#c3ce2f" d="M285 532h9v3h-9zM408 532h9v3h-9z"/>
<path fill="#92b93b" d="M285 529h9v3h-9zM311 543h9v2h-9zM346 535h9v2h-9zM435 527h9v2h-9zM505 540h9v3h-9zM646 545h9v3h-9zM664 545h9v3h-9z"/>
<path fill="#3fa363" d="M285 527h9v2h-9zM426 540h9v3h-9zM452 524h9v3h-9zM611 519h9v2h-9zM726 519h9v2h-9z"/>
<path fill="#33a16c" d="M285 524h9v3h-9zM646 551h9v3h-9z"/>
<path fill="#1a7a9c" d="M285 521h9v3h-9z"/>
<path fill="#c6c6e3" d="M294 610h8v3h-8zM655 492h9v2h-9zM682 575h9v3h-9z"/>
<path fill="#d1d1e8" d="M294 607h8v3h-8zM311 599h9v3h-9zM452 594h9v3h-9z"/>
<path fill="#9b9bca" d="M294 599h8v3h-8zM496 656h9v2h-9zM602 570h9v2h-9z"/>
<path fill="#1a819b" d="M294 559h8v3h-8z"/>
<path fill="#4aa45b" d="M294 551h8v3h-8zM576 545h9v3h-9zM761 519h9v2h-9z"/>
<path fill="#b7c933" d="M294 543h8v2h-8z"/>
<path fill="#d4d828" d="M294 540h8v3h-8zM638 532h8v3h-8z"/>
<path fill="#82b242" d="M294 532h8v3h-8z"/>
<path fill="#69aa48" d="M294 529h8v3h-8zM532 545h9v3h-9z"/>
<path fill="#70ad46" d="M294 527h8v2h-8zM523 540h9v3h-9zM761 551h9v3h-9z"/>
<path fill="#47a45d" d="M294 524h8v3h-8zM417 519h9v2h-9zM514 554h9v2h-9zM602 543h9v2h-9z"/>
<path fill="#1a739e" d="M294 521h8v3h-8z"/>
<path fill="#194d9f" d="M294 519h8v2h-8zM461 559h9v3h-9zM576 516h9v3h-9zM770 559h9v3h-9z"/>
<path fill="#7c7cb9" d="M294 508h8v2h-8zM549 508h9v2h-9zM611 476h9v2h-9z"/>
<path fill="#51519d" d="M294 505h8v3h-8zM391 406h8v2h-8zM514 648h9v2h-9zM532 623h9v3h-9z"/>
<path fill="#9494c6" d="M302 599h9v3h-9zM541 605h8v2h-8z"/>
<path fill="#6666ad" d="M302 594h9v3h-9zM373 427h9v3h-9zM541 510h8v3h-8zM549 586h9v3h-9z"/>
<path fill="#50509c" d="M302 591h9v3h-9zM496 510h9v3h-9zM505 510h9v3h-9zM629 486h9v3h-9z"/>
<path fill="#323787" d="M302 586h9v3h-9zM302 580h9v3h-9zM435 494h9v3h-9z"/>
<path fill="#40408e" d="M302 583h9v3h-9zM364 562h9v2h-9zM364 459h9v3h-9zM399 408h9v3h-9zM426 462h9v3h-9zM488 642h8v3h-8zM496 513h9v3h-9zM532 510h9v3h-9zM743 505h9v3h-9z"/>
<path fill="#183f96" d="M302 567h9v3h-9zM320 556h9v3h-9zM355 551h9v3h-9zM426 554h9v2h-9zM444 556h8v3h-8zM452 559h9v3h-9zM532 519h9v2h-9z"/>
<path fill="#1a54a2" d="M302 559h9v3h-9zM479 567h9v3h-9zM593 513h9v3h-9zM620 508h9v2h-9z"/>
<path fill="#1c9b86" d="M302 554h9v2h-9zM638 551h8v3h-8z"/>
<path fill="#35a26a" d="M302 551h9v3h-9zM576 524h9v3h-9z"/>
<path fill="#44a35f" d="M302 548h9v3h-9zM373 543h9v2h-9z"/>
<path fill="#a8c538" d="M302 537h9v3h-9zM311 535h9v2h-9zM426 535h9v2h-9zM514 537h9v3h-9zM629 540h9v3h-9zM743 548h9v3h-9z"/>
<path fill="#99bd38" d="M302 535h9v2h-9zM585 529h8v3h-8z"/>
<path fill="#2ba174" d="M302 527h9v2h-9zM717 519h9v2h-9z"/>
<path fill="#1a9290" d="M302 524h9v3h-9zM382 543h9v2h-9zM505 527h9v2h-9z"/>
<path fill="#194ea0" d="M302 519h9v2h-9zM682 513h9v3h-9z"/>
<path fill="#424290" d="M302 510h9v3h-9zM435 486h9v3h-9zM549 575h9v3h-9zM593 481h9v3h-9zM717 567h9v3h-9z"/>
<path fill="#c6c6e2" d="M311 602h9v3h-9zM752 575h9v3h-9z"/>
<path fill="#8080bb" d="M311 597h9v2h-9zM355 564h9v3h-9zM541 623h8v3h-8z"/>
<path fill="#9595c7" d="M311 594h9v3h-9zM355 567h9v3h-9zM435 564h9v3h-9zM532 637h9v3h-9zM585 486h8v3h-8zM585 478h8v3h-8z"/>
<path fill="#5959a3" d="M311 591h9v3h-9zM373 432h9v3h-9zM399 392h9v3h-9zM426 427h9v3h-9zM461 572h9v3h-9z"/>
<path fill="#333887" d="M311 580h9v3h-9zM311 513h9v3h-9zM320 570h9v2h-9zM338 564h8v3h-8zM426 465h9v2h-9zM567 564h9v3h-9zM602 481h9v3h-9zM682 508h9v2h-9z"/>
<path fill="#1e378b" d="M311 575h9v3h-9zM399 556h9v3h-9zM399 411h9v3h-9zM691 508h8v2h-8zM743 567h9v3h-9z"/>
<path fill="#1a6f9f" d="M311 556h9v3h-9zM496 562h9v2h-9z"/>
<path fill="#43a360" d="M311 554h9v2h-9zM532 529h9v3h-9zM602 519h9v2h-9z"/>
<path fill="#34a26b" d="M311 551h9v3h-9z"/>
<path fill="#55a652" d="M311 548h9v3h-9zM505 551h9v3h-9zM549 545h9v3h-9zM558 529h9v3h-9zM673 548h9v3h-9z"/>
<path fill="#58a650" d="M311 545h9v3h-9zM382 519h9v2h-9zM391 516h8v3h-8zM417 540h9v3h-9zM435 543h9v2h-9zM461 548h9v3h-9zM567 527h9v2h-9z"/>
<path fill="#b5c934" d="M311 537h9v3h-9zM496 543h9v2h-9zM664 529h9v3h-9zM691 527h8v2h-8z"/>
<path fill="#8bb53f" d="M311 532h9v3h-9zM364 529h9v3h-9z"/>
<path fill="#5ca74e" d="M311 529h9v3h-9zM338 537h8v3h-8zM417 521h9v3h-9zM620 519h9v2h-9z"/>
<path fill="#30a170" d="M311 524h9v3h-9z"/>
<path fill="#c8c8e3" d="M311 500h9v2h-9zM391 570h8v2h-8zM408 384h9v3h-9z"/>
<path fill="#e1e1f1" d="M320 591h9v3h-9zM435 435h9v3h-9zM452 492h9v2h-9zM488 661h8v3h-8zM532 645h9v3h-9z"/>
<path fill="#9999ca" d="M320 589h9v2h-9zM655 500h9v2h-9z"/>
<path fill="#9f9fcd" d="M320 583h9v3h-9zM426 424h9v3h-9zM549 505h9v3h-9zM629 478h9v3h-9z"/>
<path fill="#383988" d="M320 572h9v3h-9zM355 476h9v2h-9zM373 441h9v2h-9zM417 441h9v2h-9zM470 605h9v2h-9zM708 508h9v2h-9z"/>
<path fill="#4b4b99" d="M320 567h9v3h-9zM646 567h9v3h-9z"/>
<path fill="#2ca173" d="M320 551h9v3h-9zM435 545h9v3h-9z"/>
<path fill="#acc737" d="M320 548h9v3h-9z"/>
<path fill="#46a45d" d="M320 540h9v3h-9zM479 548h9v3h-9zM691 519h8v2h-8z"/>
<path fill="#a4c338" d="M320 537h9v3h-9zM373 529h9v3h-9zM514 543h9v2h-9zM593 527h9v2h-9z"/>
<path fill="#b3c835" d="M320 535h9v2h-9zM479 543h9v2h-9z"/>
<path fill="#7cb143" d="M320 532h9v3h-9zM417 529h9v3h-9zM461 545h9v3h-9zM488 532h8v3h-8zM549 535h9v2h-9z"/>
<path fill="#91b83c" d="M320 529h9v3h-9zM779 548h9v3h-9z"/>
<path fill="#4ca559" d="M320 527h9v2h-9z"/>
<path fill="#6060a9" d="M320 510h9v3h-9zM444 502h8v3h-8zM479 510h9v3h-9zM673 505h9v3h-9z"/>
<path fill="#6e6eb1" d="M320 508h9v2h-9zM391 392h8v3h-8zM452 572h9v3h-9zM567 570h9v2h-9z"/>
<path fill="#6d6db1" d="M320 505h9v3h-9zM417 562h9v2h-9zM444 484h8v2h-8zM470 626h9v3h-9zM488 645h8v3h-8z"/>
<path fill="#c0c0df" d="M329 578h9v2h-9zM426 416h9v3h-9zM488 505h8v3h-8zM735 500h8v2h-8z"/>
<path fill="#273487" d="M329 567h9v3h-9zM532 513h9v3h-9z"/>
<path fill="#3ea364" d="M329 548h9v3h-9z"/>
<path fill="#31a16e" d="M329 545h9v3h-9zM329 524h9v3h-9z"/>
<path fill="#5ba74f" d="M329 543h9v2h-9zM329 529h9v3h-9zM541 529h8v3h-8z"/>
<path fill="#59a64f" d="M329 540h9v3h-9zM355 540h9v3h-9z"/>
<path fill="#5ba74e" d="M329 537h9v3h-9z"/>
<path fill="#86b440" d="M329 535h9v2h-9zM470 543h9v2h-9z"/>
<path fill="#2aa074" d="M329 527h9v2h-9zM382 545h9v3h-9zM426 545h9v3h-9zM593 548h9v3h-9zM629 519h9v2h-9z"/>
<path fill="#393a88" d="M329 508h9v2h-9zM408 419h9v3h-9zM435 492h9v2h-9zM523 632h9v2h-9zM664 505h9v3h-9z"/>
<path fill="#8686bf" d="M329 502h9v3h-9zM364 427h9v3h-9zM664 570h9v2h-9z"/>
<path fill="#f1f1fa" d="M329 497h9v3h-9zM355 432h9v3h-9z"/>
<path fill="#3ba266" d="M338 540h8v3h-8zM408 543h9v2h-9zM488 551h8v3h-8z"/>
<path fill="#74af45" d="M338 535h8v2h-8zM338 529h8v3h-8z"/>
<path fill="#1b9a87" d="M338 524h8v3h-8zM699 519h9v2h-9z"/>
<path fill="#1a63a1" d="M338 519h8v2h-8z"/>
<path fill="#5454a0" d="M338 500h8v2h-8zM364 435h9v3h-9zM470 607h9v3h-9zM470 510h9v3h-9z"/>
<path fill="#7070b3" d="M338 494h8v3h-8zM364 424h9v3h-9zM408 403h9v3h-9z"/>
<path fill="#d3d3ea" d="M338 484h8v2h-8zM417 395h9v3h-9zM691 502h8v3h-8zM735 575h8v3h-8z"/>
<path fill="#e7e7f4" d="M338 473h8v3h-8zM346 446h9v3h-9zM355 424h9v3h-9zM426 572h9v3h-9zM426 403h9v3h-9zM532 500h9v2h-9zM567 486h9v3h-9z"/>
<path fill="#9e9ecc" d="M346 567h9v3h-9zM629 572h9v3h-9zM673 497h9v3h-9z"/>
<path fill="#6f6fb2" d="M346 564h9v3h-9zM444 481h8v3h-8zM611 564h9v3h-9z"/>
<path fill="#1a6ea0" d="M346 548h9v3h-9zM532 524h9v3h-9z"/>
<path fill="#1a8c96" d="M346 545h9v3h-9zM364 548h9v3h-9zM382 513h9v3h-9zM523 556h9v3h-9zM523 524h9v3h-9zM541 556h8v3h-8zM788 554h8v2h-8z"/>
<path fill="#7bb143" d="M346 527h9v2h-9zM364 527h9v2h-9zM399 521h9v3h-9zM470 545h9v3h-9zM479 537h9v3h-9zM496 554h9v2h-9zM593 543h9v2h-9zM726 521h9v3h-9z"/>
<path fill="#2ea171" d="M346 521h9v3h-9zM576 521h9v3h-9zM638 516h8v3h-8z"/>
<path fill="#1a948e" d="M346 519h9v2h-9zM408 516h9v3h-9zM682 519h9v2h-9z"/>
<path fill="#1f378b" d="M346 500h9v2h-9zM364 476h9v2h-9zM735 564h8v3h-8z"/>
<path fill="#434391" d="M346 497h9v3h-9zM346 489h9v3h-9zM355 489h9v3h-9zM435 484h9v2h-9zM496 645h9v3h-9zM523 621h9v2h-9zM541 594h8v3h-8zM549 583h9v3h-9zM602 564h9v3h-9z"/>
<path fill="#8b8bc2" d="M346 467h9v3h-9zM435 462h9v3h-9z"/>
<path fill="#acacd4" d="M346 451h9v3h-9zM355 449h9v2h-9zM470 629h9v3h-9zM514 656h9v2h-9zM523 648h9v2h-9zM558 578h9v2h-9zM593 567h9v3h-9z"/>
<path fill="#fafafd" d="M355 570h9v2h-9zM549 610h9v3h-9zM611 462h9v3h-9z"/>
<path fill="#4b4b98" d="M355 562h9v2h-9zM364 449h9v2h-9zM444 500h8v2h-8zM505 648h9v2h-9z"/>
<path fill="#1a8799" d="M355 545h9v3h-9zM602 516h9v3h-9z"/>
<path fill="#9fc038" d="M355 535h9v2h-9zM505 543h9v2h-9z"/>
<path fill="#85b341" d="M355 527h9v2h-9zM593 532h9v3h-9zM620 543h9v2h-9zM646 524h9v3h-9z"/>
<path fill="#60a84c" d="M355 521h9v3h-9zM408 519h9v2h-9zM620 545h9v3h-9zM682 548h9v3h-9zM752 521h9v3h-9z"/>
<path fill="#1a7c9c" d="M355 519h9v2h-9z"/>
<path fill="#1a58a2" d="M355 513h9v3h-9zM417 508h9v2h-9zM470 521h9v3h-9zM567 551h9v3h-9zM770 516h9v3h-9z"/>
<path fill="#194e9f" d="M355 510h9v3h-9zM488 521h8v3h-8zM558 519h9v2h-9zM585 551h8v3h-8zM655 513h9v3h-9z"/>
<path fill="#41418f" d="M355 467h9v3h-9zM364 443h9v3h-9zM408 559h9v3h-9zM426 443h9v3h-9zM488 626h8v3h-8zM576 492h9v2h-9z"/>
<path fill="#4a4a97" d="M355 462h9v3h-9zM408 411h9v3h-9zM611 481h9v3h-9z"/>
<path fill="#9797c9" d="M355 459h9v3h-9z"/>
<path fill="#bcbcdd" d="M355 446h9v3h-9zM382 395h9v3h-9zM426 422h9v2h-9zM638 575h8v3h-8z"/>
<path fill="#b4b4d8" d="M355 438h9v3h-9zM391 395h8v3h-8zM505 664h9v3h-9z"/>
<path fill="#8e8ec4" d="M364 564h9v3h-9zM655 502h9v3h-9z"/>
<path fill="#1a5da1" d="M364 545h9v3h-9z"/>
<path fill="#42a360" d="M364 543h9v2h-9zM444 540h8v3h-8zM796 521h9v3h-9z"/>
<path fill="#c6cf2e" d="M364 537h9v3h-9z"/>
<path fill="#78b044" d="M364 535h9v2h-9zM399 524h9v3h-9zM408 524h9v3h-9z"/>
<path fill="#52a554" d="M364 521h9v3h-9zM444 543h8v2h-8zM558 535h9v2h-9zM708 519h9v2h-9z"/>
<path fill="#2fa170" d="M364 519h9v2h-9zM479 556h9v3h-9zM585 548h8v3h-8z"/>
<path fill="#1a8699" d="M364 513h9v3h-9zM417 516h9v3h-9z"/>
<path fill="#213689" d="M364 467h9v3h-9zM364 454h9v3h-9z"/>
<path fill="#1d388b" d="M364 465h9v2h-9zM391 449h8v2h-8zM461 580h9v3h-9z"/>
<path fill="#5656a1" d="M364 446h9v3h-9zM426 446h9v3h-9z"/>
<path fill="#9e9ecd" d="M364 441h9v2h-9z"/>
<path fill="#c4c4e1" d="M364 430h9v2h-9zM708 575h9v3h-9zM717 575h9v3h-9z"/>
<path fill="#f5f5fc" d="M364 406h9v2h-9zM382 384h9v3h-9zM452 484h9v2h-9z"/>
<path fill="#1a5ba1" d="M373 548h9v3h-9zM452 556h9v3h-9zM514 524h9v3h-9zM726 516h9v3h-9z"/>
<path fill="#83b341" d="M373 540h9v3h-9zM514 551h9v3h-9zM576 532h9v3h-9zM576 527h9v2h-9zM629 543h9v2h-9z"/>
<path fill="#c0cc30" d="M373 532h9v3h-9z"/>
<path fill="#6bab47" d="M373 527h9v2h-9zM444 529h8v3h-8zM532 532h9v3h-9zM541 535h8v2h-8zM549 543h9v2h-9z"/>
<path fill="#88b440" d="M373 524h9v3h-9zM435 535h9v2h-9zM479 545h9v3h-9z"/>
<path fill="#5aa64f" d="M373 521h9v3h-9zM549 548h9v3h-9z"/>
<path fill="#51a555" d="M373 519h9v2h-9zM399 540h9v3h-9zM399 519h9v2h-9zM435 540h9v3h-9zM444 545h8v3h-8zM488 554h8v2h-8zM532 554h9v2h-9zM549 529h9v3h-9zM602 521h9v3h-9zM770 551h9v3h-9z"/>
<path fill="#1a66a1" d="M373 510h9v3h-9zM717 516h9v3h-9z"/>
<path fill="#1d388c" d="M373 459h9v3h-9zM479 613h9v2h-9zM488 615h8v3h-8z"/>
<path fill="#5757a1" d="M373 435h9v3h-9z"/>
<path fill="#5555a1" d="M373 414h9v2h-9zM761 505h9v3h-9z"/>
<path fill="#253587" d="M382 559h9v3h-9zM532 610h9v3h-9zM541 602h8v3h-8z"/>
<path fill="#52a555" d="M382 540h9v3h-9z"/>
<path fill="#b2c835" d="M382 532h9v3h-9zM382 529h9v3h-9zM620 535h9v2h-9zM655 527h9v2h-9z"/>
<path fill="#54a553" d="M382 521h9v3h-9zM664 521h9v3h-9zM682 524h9v3h-9z"/>
<path fill="#219e7f" d="M382 516h9v3h-9z"/>
<path fill="#54549f" d="M382 403h9v3h-9zM452 570h9v2h-9zM479 637h9v3h-9zM673 564h9v3h-9zM691 567h8v3h-8zM717 570h9v2h-9z"/>
<path fill="#5959a4" d="M382 398h9v2h-9zM488 653h8v3h-8z"/>
<path fill="#1a68a0" d="M391 548h8v3h-8zM444 519h8v2h-8z"/>
<path fill="#38a268" d="M391 543h8v2h-8zM435 521h9v3h-9zM602 545h9v3h-9zM611 516h9v3h-9zM691 554h8v2h-8z"/>
<path fill="#abc637" d="M391 532h8v3h-8z"/>
<path fill="#89b440" d="M391 527h8v2h-8zM770 524h9v3h-9z"/>
<path fill="#73ae45" d="M391 524h8v3h-8zM585 527h8v2h-8zM638 545h8v3h-8z"/>
<path fill="#229e7d" d="M391 519h8v2h-8zM549 551h9v3h-9zM558 527h9v2h-9zM735 519h8v2h-8z"/>
<path fill="#219e7e" d="M391 513h8v3h-8z"/>
<path fill="#1a8599" d="M391 510h8v3h-8z"/>
<path fill="#1a819a" d="M391 508h8v2h-8zM646 516h9v3h-9z"/>
<path fill="#dedeef" d="M391 387h8v2h-8zM611 580h9v3h-9z"/>
<path fill="#e2e2f1" d="M391 384h8v3h-8z"/>
<path fill="#6262aa" d="M399 559h9v3h-9zM514 510h9v3h-9z"/>
<path fill="#1a64a1" d="M399 548h9v3h-9zM408 510h9v3h-9zM611 551h9v3h-9zM682 556h9v3h-9zM699 559h9v3h-9zM770 556h9v3h-9z"/>
<path fill="#4aa45a" d="M399 543h9v2h-9zM682 551h9v3h-9zM717 521h9v3h-9z"/>
<path fill="#97bc38" d="M399 529h9v3h-9z"/>
<path fill="#62a94b" d="M399 516h9v3h-9z"/>
<path fill="#2da172" d="M399 513h9v3h-9z"/>
<path fill="#1a57a2" d="M399 508h9v2h-9zM558 521h9v3h-9zM602 548h9v3h-9z"/>
<path fill="#484896" d="M399 406h9v2h-9zM444 562h8v2h-8zM461 508h9v2h-9zM620 473h9v3h-9z"/>
<path fill="#233688" d="M399 403h9v3h-9zM620 489h9v3h-9zM655 505h9v3h-9z"/>
<path fill="#8181bc" d="M399 395h9v3h-9zM426 432h9v3h-9zM505 656h9v2h-9zM532 629h9v3h-9zM541 610h8v3h-8zM743 570h9v2h-9z"/>
<path fill="#afafd6" d="M399 389h9v3h-9zM505 661h9v3h-9zM541 621h8v2h-8z"/>
<path fill="#f1f1f9" d="M399 384h9v3h-9zM426 411h9v3h-9zM452 597h9v2h-9zM629 470h9v3h-9zM646 486h9v3h-9zM726 575h9v3h-9z"/>
<path fill="#eeeef8" d="M408 567h9v3h-9z"/>
<path fill="#61a84b" d="M408 535h9v2h-9zM488 548h8v3h-8zM532 537h9v3h-9z"/>
<path fill="#d0d629" d="M408 529h9v3h-9z"/>
<path fill="#2aa075" d="M408 513h9v3h-9zM426 543h9v2h-9zM708 554h9v2h-9z"/>
<path fill="#18479d" d="M408 505h9v3h-9zM514 521h9v3h-9z"/>
<path fill="#21368a" d="M408 424h9v3h-9zM505 645h9v3h-9zM514 618h9v3h-9zM638 562h8v2h-8zM752 508h9v2h-9z"/>
<path fill="#6868ae" d="M408 408h9v3h-9zM452 502h9v3h-9zM470 621h9v2h-9zM523 642h9v3h-9zM770 505h9v3h-9z"/>
<path fill="#ababd3" d="M417 570h9v2h-9zM638 486h8v3h-8z"/>
<path fill="#243588" d="M417 559h9v3h-9zM417 435h9v3h-9zM523 613h9v2h-9zM646 502h9v3h-9z"/>
<path fill="#34a26c" d="M417 543h9v2h-9z"/>
<path fill="#94ba3a" d="M417 532h9v3h-9zM576 537h9v3h-9z"/>
<path fill="#99bc38" d="M417 527h9v2h-9zM470 537h9v3h-9z"/>
<path fill="#5fa84d" d="M417 524h9v3h-9zM461 537h9v3h-9z"/>
<path fill="#373988" d="M417 462h9v3h-9zM417 430h9v2h-9zM426 454h9v3h-9zM426 441h9v2h-9zM435 562h9v2h-9zM585 562h8v2h-8z"/>
<path fill="#7373b4" d="M417 414h9v2h-9zM435 443h9v3h-9zM461 597h9v2h-9zM549 578h9v2h-9z"/>
<path fill="#bebede" d="M426 567h9v3h-9zM514 658h9v3h-9z"/>
<path fill="#67aa48" d="M426 532h9v3h-9z"/>
<path fill="#8ab53f" d="M426 529h9v3h-9z"/>
<path fill="#82b341" d="M426 524h9v3h-9z"/>
<path fill="#51a556" d="M426 519h9v2h-9z"/>
<path fill="#7c7cba" d="M426 438h9v3h-9z"/>
<path fill="#8f8fc4" d="M426 430h9v2h-9zM514 653h9v3h-9zM549 580h9v3h-9zM673 502h9v3h-9zM735 502h8v3h-8z"/>
<path fill="#1a6ca0" d="M435 548h9v3h-9zM585 513h8v3h-8z"/>
<path fill="#b0c836" d="M435 532h9v3h-9zM541 543h8v2h-8zM682 529h9v3h-9zM761 524h9v3h-9z"/>
<path fill="#249f7b" d="M435 519h9v2h-9zM452 545h9v3h-9zM743 554h9v2h-9z"/>
<path fill="#6262ab" d="M435 470h9v3h-9z"/>
<path fill="#8989c1" d="M435 465h9v2h-9zM470 505h9v3h-9zM488 656h8v2h-8z"/>
<path fill="#a9a9d3" d="M435 454h9v3h-9zM461 500h9v2h-9zM505 667h9v2h-9zM673 570h9v2h-9z"/>
<path fill="#b9b9dc" d="M435 451h9v3h-9z"/>
<path fill="#c9c9e4" d="M435 422h9v2h-9zM452 583h9v3h-9zM541 618h8v3h-8zM549 618h9v3h-9zM558 502h9v3h-9z"/>
<path fill="#53539e" d="M444 567h8v3h-8zM505 653h9v3h-9z"/>
<path fill="#1a6e9f" d="M444 551h8v3h-8zM444 516h8v3h-8zM452 519h9v2h-9z"/>
<path fill="#239f7c" d="M444 548h8v3h-8zM567 545h9v3h-9z"/>
<path fill="#9abd38" d="M444 537h8v3h-8zM505 545h9v3h-9z"/>
<path fill="#7eb143" d="M444 532h8v3h-8zM602 529h9v3h-9zM699 551h9v3h-9z"/>
<path fill="#56a651" d="M444 524h8v3h-8zM593 540h9v3h-9zM629 545h9v3h-9z"/>
<path fill="#3ca265" d="M444 521h8v3h-8z"/>
<path fill="#b4b4d9" d="M444 467h8v3h-8zM461 618h9v3h-9zM514 661h9v3h-9zM655 494h9v3h-9zM664 572h9v3h-9zM770 502h9v3h-9z"/>
<path fill="#f0f0f9" d="M444 465h8v2h-8zM541 629h8v3h-8zM541 502h8v3h-8z"/>
<path fill="#d3d3e9" d="M444 462h8v3h-8zM558 589h9v2h-9z"/>
<path fill="#f5f5fb" d="M444 454h8v3h-8zM452 605h9v2h-9zM532 650h9v3h-9zM593 462h9v3h-9zM611 459h9v3h-9zM664 575h9v3h-9z"/>
<path fill="#cdcde7" d="M452 589h9v2h-9z"/>
<path fill="#5757a2" d="M452 578h9v2h-9z"/>
<path fill="#50a556" d="M452 532h9v3h-9zM646 548h9v3h-9zM699 521h9v3h-9zM717 554h9v2h-9z"/>
<path fill="#1a7b9c" d="M452 521h9v3h-9zM779 519h9v2h-9z"/>
<path fill="#ababd4" d="M452 500h9v2h-9zM549 500h9v2h-9zM558 497h9v3h-9zM611 567h9v3h-9z"/>
<path fill="#7575b6" d="M461 599h9v3h-9zM735 505h8v3h-8z"/>
<path fill="#6565ad" d="M461 594h9v3h-9zM488 640h8v2h-8zM567 567h9v3h-9z"/>
<path fill="#9191c5" d="M461 589h9v2h-9zM496 508h9v2h-9zM505 508h9v2h-9zM541 615h8v3h-8z"/>
<path fill="#9cbe38" d="M461 540h9v3h-9zM523 535h9v2h-9z"/>
<path fill="#9bbd38" d="M461 535h9v2h-9z"/>
<path fill="#63a94b" d="M461 529h9v3h-9z"/>
<path fill="#259f7a" d="M461 527h9v2h-9zM585 545h8v3h-8z"/>
<path fill="#cdcde6" d="M461 502h9v3h-9zM470 634h9v3h-9zM796 500h9v2h-9z"/>
<path fill="#b6b6d9" d="M470 640h9v2h-9z"/>
<path fill="#5fa84c" d="M470 548h9v3h-9z"/>
<path fill="#d0d62a" d="M470 540h9v3h-9z"/>
<path fill="#5ea74d" d="M470 532h9v3h-9zM488 535h8v2h-8z"/>
<path fill="#64a94a" d="M470 529h9v3h-9z"/>
<path fill="#9c9ccb" d="M479 653h9v3h-9z"/>
<path fill="#53539f" d="M479 626h9v3h-9zM488 648h8v2h-8zM514 642h9v3h-9zM558 572h9v3h-9zM593 478h9v3h-9zM602 559h9v3h-9z"/>
<path fill="#6e6eb2" d="M479 623h9v3h-9z"/>
<path fill="#1b9b87" d="M479 527h9v2h-9zM796 516h9v3h-9z"/>
<path fill="#36a269" d="M488 556h8v3h-8z"/>
<path fill="#93ba3a" d="M488 543h8v2h-8zM602 527h9v2h-9z"/>
<path fill="#7fb242" d="M488 540h8v3h-8zM717 551h9v3h-9z"/>
<path fill="#d7d7eb" d="M496 669h9v3h-9z"/>
<path fill="#afc736" d="M496 537h9v3h-9zM699 524h9v3h-9zM743 524h9v3h-9z"/>
<path fill="#1a66a0" d="M496 524h9v3h-9z"/>
<path fill="#f3f3fb" d="M496 502h9v3h-9zM576 478h9v3h-9zM638 476h8v2h-8zM726 497h9v3h-9z"/>
<path fill="#36a26a" d="M505 554h9v2h-9zM638 548h8v3h-8z"/>
<path fill="#7ab044" d="M505 535h9v2h-9z"/>
<path fill="#f2f2fa" d="M514 664h9v3h-9zM532 502h9v3h-9zM541 632h8v2h-8zM593 465h9v2h-9zM620 465h9v2h-9z"/>
<path fill="#5d5da7" d="M514 650h9v3h-9zM664 502h9v3h-9z"/>
<path fill="#57a650" d="M514 548h9v3h-9z"/>
<path fill="#8fb73d" d="M514 545h9v3h-9zM567 532h9v3h-9z"/>
<path fill="#9999c9" d="M514 505h9v3h-9z"/>
<path fill="#1a7f9b" d="M523 562h9v2h-9z"/>
<path fill="#1a8998" d="M523 559h9v3h-9zM558 554h9v2h-9z"/>
<path fill="#68aa48" d="M523 551h9v3h-9z"/>
<path fill="#c4ce2e" d="M523 537h9v3h-9z"/>
<path fill="#6b6bb0" d="M523 510h9v3h-9zM699 505h9v3h-9zM708 505h9v3h-9zM752 502h9v3h-9z"/>
<path fill="#8db63e" d="M532 543h9v2h-9z"/>
<path fill="#32a16e" d="M541 527h8v2h-8z"/>
<path fill="#7171b3" d="M541 505h8v3h-8zM549 599h9v3h-9zM567 497h9v3h-9zM735 567h8v3h-8z"/>
<path fill="#c4ce2f" d="M549 537h9v3h-9z"/>
<path fill="#1d9c84" d="M549 527h9v2h-9zM770 519h9v2h-9zM796 554h9v2h-9z"/>
<path fill="#dedef0" d="M549 502h9v3h-9z"/>
<path fill="#33a16d" d="M558 548h9v3h-9zM629 548h9v3h-9z"/>
<path fill="#74ae45" d="M567 537h9v3h-9z"/>
<path fill="#65a94a" d="M567 529h9v3h-9z"/>
<path fill="#1d9b85" d="M567 524h9v3h-9zM761 516h9v3h-9z"/>
<path fill="#1a5aa2" d="M567 521h9v3h-9z"/>
<path fill="#b3b3d8" d="M567 494h9v3h-9zM576 484h9v2h-9zM620 570h9v2h-9zM638 481h8v3h-8zM673 572h9v3h-9zM682 500h9v2h-9zM691 500h8v2h-8zM708 500h9v2h-9z"/>
<path fill="#1a69a0" d="M576 551h9v3h-9z"/>
<path fill="#1a769d" d="M576 548h9v3h-9z"/>
<path fill="#9292c5" d="M576 497h9v3h-9z"/>
<path fill="#eaeaf5" d="M576 470h9v3h-9z"/>
<path fill="#6464ac" d="M585 564h8v3h-8z"/>
<path fill="#67aa49" d="M585 540h8v3h-8z"/>
<path fill="#3da364" d="M585 524h8v3h-8zM593 521h9v3h-9zM646 519h9v2h-9z"/>
<path fill="#8989c0" d="M593 564h9v3h-9z"/>
<path fill="#41a362" d="M593 545h9v3h-9z"/>
<path fill="#18459c" d="M593 510h9v3h-9zM673 516h9v3h-9zM682 516h9v3h-9z"/>
<path fill="#dfd828" d="M602 532h9v3h-9z"/>
<path fill="#1b9b86" d="M611 548h9v3h-9z"/>
<path fill="#f0ad20" d="M611 537h9v3h-9zM699 543h9v2h-9z"/>
<path fill="#cad22c" d="M611 529h9v3h-9z"/>
<path fill="#7575b5" d="M611 473h9v3h-9zM691 570h8v2h-8z"/>
<path fill="#7979b8" d="M620 564h9v3h-9z"/>
<path fill="#1d9b84" d="M620 548h9v3h-9z"/>
<path fill="#ee9720" d="M620 540h9v3h-9zM708 545h9v3h-9z"/>
<path fill="#f0bc20" d="M620 537h9v3h-9z"/>
<path fill="#dbd828" d="M620 527h9v2h-9zM717 545h9v3h-9z"/>
<path fill="#aec736" d="M620 524h9v3h-9z"/>
<path fill="#c1cc30" d="M629 535h9v2h-9z"/>
<path fill="#e57420" d="M629 532h9v3h-9zM699 529h9v3h-9z"/>
<path fill="#e2d627" d="M629 529h9v3h-9z"/>
<path fill="#b9ca32" d="M629 527h9v2h-9z"/>
<path fill="#b7ca33" d="M629 524h9v3h-9zM646 537h9v3h-9z"/>
<path fill="#1a729e" d="M629 513h9v3h-9z"/>
<path fill="#b0b0d7" d="M638 570h8v2h-8z"/>
<path fill="#1a839a" d="M638 554h8v2h-8z"/>
<path fill="#98bc38" d="M638 543h8v2h-8zM708 548h9v3h-9zM743 551h9v3h-9z"/>
<path fill="#f0b920" d="M638 537h8v3h-8z"/>
<path fill="#e1d728" d="M638 524h8v3h-8z"/>
<path fill="#c4c4e2" d="M646 572h9v3h-9zM646 494h9v3h-9z"/>
<path fill="#a2a2ce" d="M646 570h9v2h-9zM646 497h9v3h-9zM699 572h9v3h-9z"/>
<path fill="#cfd52a" d="M646 540h9v3h-9zM717 548h9v3h-9zM743 527h9v2h-9z"/>
<path fill="#f09e20" d="M646 532h9v3h-9z"/>
<path fill="#e0e0f1" d="M655 572h9v3h-9z"/>
<path fill="#6565ac" d="M655 567h9v3h-9z"/>
<path fill="#1a7d9c" d="M655 554h9v2h-9z"/>
<path fill="#46a45e" d="M655 551h9v3h-9z"/>
<path fill="#f0a020" d="M655 537h9v3h-9zM761 545h9v3h-9z"/>
<path fill="#e26720" d="M655 535h9v2h-9zM708 535h9v2h-9zM779 540h9v3h-9z"/>
<path fill="#f0ac20" d="M655 529h9v3h-9zM673 529h9v3h-9z"/>
<path fill="#1a6da0" d="M655 516h9v3h-9zM752 556h9v3h-9z"/>
<path fill="#5da74e" d="M664 548h9v3h-9zM673 521h9v3h-9z"/>
<path fill="#ef9b20" d="M664 543h9v2h-9zM735 543h8v2h-8z"/>
<path fill="#cbd22c" d="M664 540h9v3h-9z"/>
<path fill="#ec8e20" d="M664 535h9v2h-9zM779 545h9v3h-9z"/>
<path fill="#f0c020" d="M664 532h9v3h-9z"/>
<path fill="#1a809b" d="M664 516h9v3h-9z"/>
<path fill="#e36d20" d="M673 540h9v3h-9zM708 529h9v3h-9z"/>
<path fill="#e05120" d="M673 532h9v3h-9zM717 535h9v2h-9z"/>
<path fill="#1d9c83" d="M673 519h9v2h-9z"/>
<path fill="#ecc722" d="M682 545h9v3h-9z"/>
<path fill="#ea8720" d="M682 543h9v2h-9z"/>
<path fill="#e16420" d="M682 535h9v2h-9z"/>
<path fill="#49a45b" d="M682 521h9v3h-9zM708 521h9v3h-9z"/>
<path fill="#e2e2f2" d="M682 502h9v3h-9z"/>
<path fill="#6cab47" d="M691 551h8v3h-8z"/>
<path fill="#e98420" d="M691 540h8v3h-8z"/>
<path fill="#bbcb32" d="M691 524h8v3h-8z"/>
<path fill="#e04f20" d="M699 540h9v3h-9z"/>
<path fill="#e04c20" d="M699 535h9v2h-9zM770 540h9v3h-9z"/>
<path fill="#e2d527" d="M699 527h9v2h-9z"/>
<path fill="#bbbbdc" d="M708 578h9v2h-9z"/>
<path fill="#8a8ac1" d="M708 570h9v2h-9z"/>
<path fill="#e11d1b" d="M708 540h9v3h-9zM752 535h9v2h-9zM761 535h9v2h-9zM770 537h9v3h-9zM796 535h9v2h-9z"/>
<path fill="#cf1919" d="M708 537h9v3h-9z"/>
<path fill="#f0b520" d="M708 527h9v2h-9z"/>
<path fill="#e0231e" d="M717 543h9v2h-9z"/>
<path fill="#e05420" d="M717 537h9v3h-9z"/>
<path fill="#e02a1e" d="M717 532h9v3h-9zM796 537h9v3h-9z"/>
<path fill="#f0be20" d="M717 529h9v3h-9z"/>
<path fill="#becb31" d="M717 527h9v2h-9z"/>
<path fill="#bdbddd" d="M726 572h9v3h-9z"/>
<path fill="#e36b20" d="M726 543h9v2h-9zM726 532h9v3h-9z"/>
<path fill="#e67a20" d="M726 537h9v3h-9z"/>
<path fill="#e88120" d="M726 529h9v3h-9zM735 529h8v3h-8zM752 529h9v3h-9z"/>
<path fill="#bfcc30" d="M726 527h9v2h-9zM761 548h9v3h-9z"/>
<path fill="#abc638" d="M726 524h9v3h-9z"/>
<path fill="#1a988a" d="M735 554h8v2h-8z"/>
<path fill="#c8d12d" d="M735 548h8v3h-8z"/>
<path fill="#ed9320" d="M735 545h8v3h-8z"/>
<path fill="#e03c20" d="M735 540h8v3h-8zM743 540h9v3h-9z"/>
<path fill="#e02d1f" d="M735 537h8v3h-8z"/>
<path fill="#e16520" d="M735 535h8v2h-8z"/>
<path fill="#a0c038" d="M735 524h8v3h-8z"/>
<path fill="#efc120" d="M743 545h9v3h-9z"/>
<path fill="#e04120" d="M743 537h9v3h-9zM788 537h8v3h-8z"/>
<path fill="#1a799d" d="M743 516h9v3h-9zM752 516h9v3h-9z"/>
<path fill="#aeaed6" d="M752 578h9v2h-9z"/>
<path fill="#54a653" d="M752 551h9v3h-9z"/>
<path fill="#e0251e" d="M752 537h9v3h-9z"/>
<path fill="#e88020" d="M761 543h9v2h-9z"/>
<path fill="#e11f1c" d="M761 540h9v3h-9z"/>
<path fill="#eec221" d="M770 545h9v3h-9z"/>
<path fill="#7373b5" d="M779 572h9v3h-9z"/>
<path fill="#6060a8" d="M779 570h9v2h-9z"/>
<path fill="#e11e1c" d="M779 537h9v3h-9z"/>
<path fill="#e3d326" d="M788 545h8v3h-8z"/>
<path fill="#ef9d20" d="M788 543h8v2h-8z"/>
<path fill="#e05720" d="M788 535h8v2h-8z"/>
<path fill="#e04220" d="M788 532h8v3h-8z"/>
<path fill="#e98320" d="M796 529h9v3h-9z"/>
<path fill="#62a84b" d="M796 519h9v2h-9z"/>
</g></g>
<clipPath id="cc"><rect x="99.5" y="376.0" width="705.7" height="322.8"/></clipPath>
<path clip-path="url(#cc)" fill="none" stroke="#e01a1c" stroke-width="5.0" stroke-linejoin="round" d="M99.5 539.3L100.4 539.2L101.3 539.2L102.2 539.1L103.0 539.1L103.9 539.1L104.8 539.0L105.7 538.9L106.6 538.9L107.5 538.8L108.3 538.8L109.2 538.7L110.1 538.6L111.0 538.5L111.9 538.5L112.8 538.4L113.6 538.3L114.5 538.2L115.4 538.1L116.3 538.0L117.2 537.9L118.1 537.8L118.9 537.6L119.8 537.5L120.7 537.4L121.6 537.3L122.5 537.1L123.4 537.0L124.2 536.8L125.1 536.7L126.0 536.5L126.9 536.4L127.8 536.2L128.7 536.0L129.5 535.9L130.4 535.7L131.3 535.5L132.2 535.3L133.1 535.1L134.0 534.9L134.8 534.7L135.7 534.5L136.6 534.3L137.5 534.1L138.4 533.9L139.3 533.7L140.1 533.5L141.0 533.2L141.9 533.0L142.8 532.8L143.7 532.5L144.6 532.3L145.4 532.1L146.3 531.8L147.2 531.6L148.1 531.3L149.0 531.1L149.9 530.8L150.7 530.6L151.6 530.3L152.5 530.1L153.4 529.8L154.3 529.6L155.2 529.3L156.0 529.1L156.9 528.8L157.8 528.5L158.7 528.3L159.6 528.0L160.5 527.8L161.3 527.5L162.2 527.3L163.1 527.0L164.0 526.8L164.9 526.6L165.8 526.3L166.6 526.1L167.5 525.9L168.4 525.6L169.3 525.4L170.2 525.2L171.0 525.0L171.9 524.8L172.8 524.6L173.7 524.4L174.6 524.2L175.5 524.0L176.3 523.8L177.2 523.7L178.1 523.5L179.0 523.4L179.9 523.2L180.8 523.1L181.6 523.0L182.5 522.9L183.4 522.8L184.3 522.7L185.2 522.6L186.1 522.6L186.9 522.5L187.8 522.5L188.7 522.5L189.6 522.4L190.5 522.4L191.4 522.5L192.2 522.5L193.1 522.5L194.0 522.6L194.9 522.7L195.8 522.8L196.7 522.9L197.5 523.0L198.4 523.1L199.3 523.3L200.2 523.5L201.1 523.7L202.0 523.9L202.8 524.1L203.7 524.4L204.6 524.6L205.5 524.9L206.4 525.2L207.3 525.5L208.1 525.9L209.0 526.2L209.9 526.6L210.8 527.0L211.7 527.4L212.6 527.9L213.4 528.3L214.3 528.8L215.2 529.3L216.1 529.8L217.0 530.3L217.9 530.9L218.7 531.5L219.6 532.0L220.5 532.7L221.4 533.3L222.3 533.9L223.2 534.6L224.0 535.3L224.9 536.0L225.8 536.7L226.7 537.5L227.6 538.2L228.5 539.0L229.3 539.8L230.2 540.6L231.1 541.4L232.0 542.2L232.9 543.1L233.8 544.0L234.6 544.8L235.5 545.7L236.4 546.7L237.3 547.6L238.2 548.5L239.1 549.4L239.9 550.4L240.8 551.4L241.7 552.3L242.6 553.3L243.5 554.3L244.4 555.3L245.2 556.3L246.1 557.3L247.0 558.3L247.9 559.4L248.8 560.4L249.7 561.4L250.5 562.5L251.4 563.5L252.3 564.5L253.2 565.5L254.1 566.6L255.0 567.6L255.8 568.6L256.7 569.6L257.6 570.7L258.5 571.7L259.4 572.7L260.3 573.7L261.1 574.7L262.0 575.6L262.9 576.6L263.8 577.6L264.7 578.5L265.6 579.4L266.4 580.3L267.3 581.2L268.2 582.1L269.1 583.0L270.0 583.8L270.9 584.7L271.7 585.5L272.6 586.3L273.5 587.0L274.4 587.8L275.3 588.5L276.2 589.2L277.0 589.9L277.9 590.5L278.8 591.1L279.7 591.7L280.6 592.3L281.5 592.8L282.3 593.3L283.2 593.8L284.1 594.2L285.0 594.7L285.9 595.0L286.7 595.4L287.6 595.7L288.5 595.9L289.4 596.2L290.3 596.3L291.2 596.5L292.0 596.6L292.9 596.7L293.8 596.7L294.7 596.7L295.6 596.7L296.5 596.6L297.3 596.4L298.2 596.3L299.1 596.0L300.0 595.8L300.9 595.5L301.8 595.1L302.6 594.7L303.5 594.2L304.4 593.7L305.3 593.2L306.2 592.6L307.1 592.0L307.9 591.3L308.8 590.5L309.7 589.7L310.6 588.9L311.5 588.0L312.4 587.1L313.2 586.1L314.1 585.1L315.0 584.0L315.9 582.9L316.8 581.7L317.7 580.4L318.5 579.2L319.4 577.8L320.3 576.4L321.2 575.0L322.1 573.5L323.0 572.0L323.8 570.4L324.7 568.8L325.6 567.1L326.5 565.4L327.4 563.6L328.3 561.8L329.1 560.0L330.0 558.1L330.9 556.1L331.8 554.1L332.7 552.1L333.6 550.0L334.4 547.9L335.3 545.7L336.2 543.5L337.1 541.3L338.0 539.0L338.9 536.7L339.7 534.3L340.6 532.0L341.5 529.5L342.4 527.1L343.3 524.6L344.2 522.1L345.0 519.6L345.9 517.0L346.8 514.4L347.7 511.8L348.6 509.2L349.5 506.6L350.3 503.9L351.2 501.2L352.1 498.5L353.0 495.8L353.9 493.1L354.8 490.4L355.6 487.7L356.5 485.0L357.4 482.2L358.3 479.5L359.2 476.8L360.1 474.1L360.9 471.4L361.8 468.7L362.7 466.0L363.6 463.3L364.5 460.7L365.4 458.0L366.2 455.4L367.1 452.8L368.0 450.3L368.9 447.8L369.8 445.3L370.7 442.8L371.5 440.4L372.4 438.0L373.3 435.7L374.2 433.4L375.1 431.1L376.0 428.9L376.8 426.8L377.7 424.7L378.6 422.6L379.5 420.6L380.4 418.7L381.3 416.9L382.1 415.1L383.0 413.4L383.9 411.7L384.8 410.1L385.7 408.6L386.6 407.2L387.4 405.9L388.3 404.6L389.2 403.4L390.1 402.3L391.0 401.3L391.9 400.3L392.7 399.5L393.6 398.7L394.5 398.1L395.4 397.5L396.3 397.0L397.1 396.6L398.0 396.3L398.9 396.1L399.8 396.0L400.7 396.0L401.6 396.1L402.4 396.3L403.3 396.6L404.2 397.0L405.1 397.5L406.0 398.1L406.9 398.8L407.7 399.5L408.6 400.4L409.5 401.4L410.4 402.5L411.3 403.6L412.2 404.9L413.0 406.2L413.9 407.7L414.8 409.2L415.7 410.9L416.6 412.6L417.5 414.4L418.3 416.3L419.2 418.3L420.1 420.4L421.0 422.5L421.9 424.7L422.8 427.1L423.6 429.4L424.5 431.9L425.4 434.4L426.3 437.0L427.2 439.7L428.1 442.4L428.9 445.2L429.8 448.1L430.7 451.0L431.6 454.0L432.5 457.0L433.4 460.1L434.2 463.2L435.1 466.3L436.0 469.5L436.9 472.8L437.8 476.1L438.7 479.4L439.5 482.7L440.4 486.1L441.3 489.5L442.2 492.9L443.1 496.4L444.0 499.8L444.8 503.3L445.7 506.8L446.6 510.2L447.5 513.7L448.4 517.2L449.3 520.7L450.1 524.2L451.0 527.7L451.9 531.2L452.8 534.6L453.7 538.1L454.6 541.5L455.4 544.9L456.3 548.3L457.2 551.7L458.1 555.1L459.0 558.4L459.9 561.7L460.7 564.9L461.6 568.1L462.5 571.3L463.4 574.5L464.3 577.6L465.2 580.6L466.0 583.7L466.9 586.6L467.8 589.6L468.7 592.4L469.6 595.3L470.5 598.0L471.3 600.8L472.2 603.4L473.1 606.0L474.0 608.6L474.9 611.1L475.8 613.5L476.6 615.8L477.5 618.2L478.4 620.4L479.3 622.6L480.2 624.7L481.1 626.7L481.9 628.7L482.8 630.6L483.7 632.5L484.6 634.2L485.5 635.9L486.4 637.6L487.2 639.1L488.1 640.6L489.0 642.1L489.9 643.4L490.8 644.7L491.7 645.9L492.5 647.0L493.4 648.1L494.3 649.1L495.2 650.0L496.1 650.9L497.0 651.7L497.8 652.4L498.7 653.0L499.6 653.6L500.5 654.0L501.4 654.5L502.3 654.8L503.1 655.1L504.0 655.3L504.9 655.4L505.8 655.5L506.7 655.5L507.6 655.4L508.4 655.3L509.3 655.0L510.2 654.8L511.1 654.4L512.0 654.0L512.8 653.5L513.7 653.0L514.6 652.3L515.5 651.7L516.4 650.9L517.3 650.1L518.1 649.2L519.0 648.3L519.9 647.3L520.8 646.3L521.7 645.1L522.6 644.0L523.4 642.7L524.3 641.4L525.2 640.1L526.1 638.7L527.0 637.2L527.9 635.7L528.7 634.2L529.6 632.6L530.5 630.9L531.4 629.2L532.3 627.5L533.2 625.7L534.0 623.8L534.9 621.9L535.8 620.0L536.7 618.0L537.6 616.0L538.5 614.0L539.3 611.9L540.2 609.8L541.1 607.6L542.0 605.5L542.9 603.3L543.8 601.0L544.6 598.8L545.5 596.5L546.4 594.2L547.3 591.9L548.2 589.5L549.1 587.1L549.9 584.8L550.8 582.4L551.7 580.0L552.6 577.6L553.5 575.1L554.4 572.7L555.2 570.3L556.1 567.9L557.0 565.4L557.9 563.0L558.8 560.6L559.7 558.2L560.5 555.7L561.4 553.3L562.3 551.0L563.2 548.6L564.1 546.2L565.0 543.9L565.8 541.5L566.7 539.2L567.6 536.9L568.5 534.7L569.4 532.4L570.3 530.2L571.1 528.0L572.0 525.9L572.9 523.8L573.8 521.7L574.7 519.6L575.6 517.6L576.4 515.6L577.3 513.7L578.2 511.8L579.1 510.0L580.0 508.2L580.9 506.4L581.7 504.7L582.6 503.0L583.5 501.4L584.4 499.8L585.3 498.2L586.2 496.8L587.0 495.3L587.9 493.9L588.8 492.6L589.7 491.3L590.6 490.1L591.5 489.0L592.3 487.8L593.2 486.8L594.1 485.8L595.0 484.8L595.9 483.9L596.8 483.1L597.6 482.3L598.5 481.6L599.4 480.9L600.3 480.3L601.2 479.7L602.1 479.2L602.9 478.7L603.8 478.3L604.7 478.0L605.6 477.7L606.5 477.4L607.4 477.2L608.2 477.1L609.1 477.0L610.0 476.9L610.9 476.9L611.8 477.0L612.7 477.1L613.5 477.2L614.4 477.4L615.3 477.6L616.2 477.9L617.1 478.2L618.0 478.6L618.8 479.0L619.7 479.4L620.6 479.9L621.5 480.4L622.4 481.0L623.2 481.6L624.1 482.2L625.0 482.8L625.9 483.5L626.8 484.2L627.7 485.0L628.5 485.7L629.4 486.5L630.3 487.4L631.2 488.2L632.1 489.1L633.0 490.0L633.8 490.9L634.7 491.8L635.6 492.7L636.5 493.7L637.4 494.7L638.3 495.7L639.1 496.7L640.0 497.7L640.9 498.7L641.8 499.7L642.7 500.8L643.6 501.8L644.4 502.9L645.3 503.9L646.2 505.0L647.1 506.0L648.0 507.1L648.9 508.2L649.7 509.2L650.6 510.3L651.5 511.4L652.4 512.4L653.3 513.5L654.2 514.5L655.0 515.5L655.9 516.6L656.8 517.6L657.7 518.6L658.6 519.6L659.5 520.6L660.3 521.6L661.2 522.6L662.1 523.6L663.0 524.5L663.9 525.5L664.8 526.4L665.6 527.3L666.5 528.2L667.4 529.1L668.3 529.9L669.2 530.8L670.1 531.6L670.9 532.5L671.8 533.3L672.7 534.0L673.6 534.8L674.5 535.6L675.4 536.3L676.2 537.0L677.1 537.7L678.0 538.4L678.9 539.0L679.8 539.7L680.7 540.3L681.5 540.9L682.4 541.5L683.3 542.0L684.2 542.6L685.1 543.1L686.0 543.6L686.8 544.1L687.7 544.5L688.6 545.0L689.5 545.4L690.4 545.8L691.3 546.2L692.1 546.5L693.0 546.9L693.9 547.2L694.8 547.5L695.7 547.8L696.6 548.1L697.4 548.4L698.3 548.6L699.2 548.8L700.1 549.0L701.0 549.2L701.9 549.4L702.7 549.5L703.6 549.7L704.5 549.8L705.4 549.9L706.3 550.0L707.2 550.1L708.0 550.1L708.9 550.2L709.8 550.2L710.7 550.2L711.6 550.3L712.5 550.2L713.3 550.2L714.2 550.2L715.1 550.2L716.0 550.1L716.9 550.1L717.8 550.0L718.6 549.9L719.5 549.8L720.4 549.7L721.3 549.6L722.2 549.5L723.1 549.3L723.9 549.2L724.8 549.1L725.7 548.9L726.6 548.7L727.5 548.6L728.4 548.4L729.2 548.2L730.1 548.0L731.0 547.9L731.9 547.7L732.8 547.5L733.7 547.3L734.5 547.1L735.4 546.9L736.3 546.6L737.2 546.4L738.1 546.2L738.9 546.0L739.8 545.8L740.7 545.5L741.6 545.3L742.5 545.1L743.4 544.9L744.2 544.6L745.1 544.4L746.0 544.2L746.9 544.0L747.8 543.7L748.7 543.5L749.5 543.3L750.4 543.1L751.3 542.8L752.2 542.6L753.1 542.4L754.0 542.2L754.8 542.0L755.7 541.8L756.6 541.6L757.5 541.3L758.4 541.1L759.3 540.9L760.1 540.7L761.0 540.6L761.9 540.4L762.8 540.2L763.7 540.0L764.6 539.8L765.4 539.6L766.3 539.5L767.2 539.3L768.1 539.1L769.0 539.0L769.9 538.8L770.7 538.6L771.6 538.5L772.5 538.4L773.4 538.2L774.3 538.1L775.2 537.9L776.0 537.8L776.9 537.7L777.8 537.6L778.7 537.5L779.6 537.3L780.5 537.2L781.3 537.1L782.2 537.0L783.1 536.9L784.0 536.8L784.9 536.8L785.8 536.7L786.6 536.6L787.5 536.5L788.4 536.5L789.3 536.4L790.2 536.3L791.1 536.3L791.9 536.2L792.8 536.2L793.7 536.1L794.6 536.1L795.5 536.0L796.4 536.0L797.2 536.0L798.1 535.9L799.0 535.9L799.9 535.9L800.8 535.8L801.7 535.8L802.5 535.8L803.4 535.8L804.3 535.8L805.2 535.8"/>
<rect x="122.4" y="12.5" width="429.7" height="287.5" fill="none" stroke="#111" stroke-width="2.2"/>
<path d="M229.8 300.0v-4.5M229.8 12.5v4.5" stroke="#111" stroke-width="2"/>
<path d="M337.2 300.0v-4.5M337.2 12.5v4.5" stroke="#111" stroke-width="2"/>
<path d="M444.7 300.0v-4.5M444.7 12.5v4.5" stroke="#111" stroke-width="2"/>
<path d="M122.4 246.1h4.5M552.1 246.1h-4.5" stroke="#111" stroke-width="2"/>
<path d="M122.4 156.4h4.5M552.1 156.4h-4.5" stroke="#111" stroke-width="2"/>
<path d="M122.4 66.7h4.5M552.1 66.7h-4.5" stroke="#111" stroke-width="2"/>
<rect x="583.1" y="12.3" width="307.5" height="287.6" fill="none" stroke="#111" stroke-width="2.2"/>
<path d="M617.4 299.9v-4.5M617.4 12.3v4.5" stroke="#111" stroke-width="2"/>
<path d="M754.0 299.9v-4.5M754.0 12.3v4.5" stroke="#111" stroke-width="2"/>
<path d="M583.1 266.5h4.5M890.6 266.5h-4.5" stroke="#111" stroke-width="2"/>
<path d="M583.1 211.2h4.5M890.6 211.2h-4.5" stroke="#111" stroke-width="2"/>
<path d="M583.1 156.0h4.5M890.6 156.0h-4.5" stroke="#111" stroke-width="2"/>
<path d="M583.1 100.8h4.5M890.6 100.8h-4.5" stroke="#111" stroke-width="2"/>
<path d="M583.1 45.5h4.5M890.6 45.5h-4.5" stroke="#111" stroke-width="2"/>
<rect x="99.5" y="376.0" width="705.7" height="322.8" fill="none" stroke="#111" stroke-width="2.2"/>
<path d="M187.7 698.8v-5.0M187.7 376.0v5.0" stroke="#111" stroke-width="2"/>
<path d="M275.9 698.8v-5.0M275.9 376.0v5.0" stroke="#111" stroke-width="2"/>
<path d="M364.1 698.8v-5.0M364.1 376.0v5.0" stroke="#111" stroke-width="2"/>
<path d="M452.4 698.8v-5.0M452.4 376.0v5.0" stroke="#111" stroke-width="2"/>
<path d="M540.6 698.8v-5.0M540.6 376.0v5.0" stroke="#111" stroke-width="2"/>
<path d="M628.8 698.8v-5.0M628.8 376.0v5.0" stroke="#111" stroke-width="2"/>
<path d="M717.0 698.8v-5.0M717.0 376.0v5.0" stroke="#111" stroke-width="2"/>
<path d="M99.5 645.0h5.0M805.2 645.0h-5.0" stroke="#111" stroke-width="2"/>
<path d="M99.5 591.2h5.0M805.2 591.2h-5.0" stroke="#111" stroke-width="2"/>
<path d="M99.5 537.4h5.0M805.2 537.4h-5.0" stroke="#111" stroke-width="2"/>
<path d="M99.5 483.6h5.0M805.2 483.6h-5.0" stroke="#111" stroke-width="2"/>
<path d="M99.5 429.8h5.0M805.2 429.8h-5.0" stroke="#111" stroke-width="2"/>
<linearGradient id="cbg" x1="0" y1="1" x2="0" y2="0">
<stop offset="0.0000" stop-color="#ffffff"/>
<stop offset="0.0061" stop-color="#f6f6fc"/>
<stop offset="0.0163" stop-color="#d0d0e8"/>
<stop offset="0.0281" stop-color="#a8a8d2"/>
<stop offset="0.0388" stop-color="#8888c0"/>
<stop offset="0.0510" stop-color="#6464ac"/>
<stop offset="0.0638" stop-color="#484896"/>
<stop offset="0.0740" stop-color="#3a3a88"/>
<stop offset="0.0867" stop-color="#283486"/>
<stop offset="0.0969" stop-color="#1c388c"/>
<stop offset="0.1276" stop-color="#1a388e"/>
<stop offset="0.1531" stop-color="#183890"/>
<stop offset="0.1837" stop-color="#183c94"/>
<stop offset="0.2194" stop-color="#18469c"/>
<stop offset="0.2551" stop-color="#1a54a2"/>
<stop offset="0.2806" stop-color="#1a6ca0"/>
<stop offset="0.3061" stop-color="#1a8a98"/>
<stop offset="0.3316" stop-color="#1a9a88"/>
<stop offset="0.3571" stop-color="#26a078"/>
<stop offset="0.3827" stop-color="#38a268"/>
<stop offset="0.4082" stop-color="#48a45c"/>
<stop offset="0.4337" stop-color="#58a650"/>
<stop offset="0.4592" stop-color="#68aa48"/>
<stop offset="0.4847" stop-color="#78b044"/>
<stop offset="0.5102" stop-color="#88b440"/>
<stop offset="0.5357" stop-color="#98bc38"/>
<stop offset="0.5612" stop-color="#aac638"/>
<stop offset="0.5867" stop-color="#c0cc30"/>
<stop offset="0.6122" stop-color="#d4d828"/>
<stop offset="0.6327" stop-color="#e0d828"/>
<stop offset="0.6684" stop-color="#f0c020"/>
<stop offset="0.6939" stop-color="#f0a020"/>
<stop offset="0.7296" stop-color="#e88020"/>
<stop offset="0.7653" stop-color="#e06020"/>
<stop offset="0.8061" stop-color="#e04020"/>
<stop offset="0.8469" stop-color="#e0241e"/>
<stop offset="0.8980" stop-color="#e21a1a"/>
<stop offset="0.9235" stop-color="#c41818"/>
<stop offset="0.9592" stop-color="#8e1616"/>
<stop offset="1.0000" stop-color="#681212"/>
</linearGradient>
<rect x="823.3" y="375.1" width="25.5" height="323.2" fill="url(#cbg)" stroke="#222" stroke-width="1.5"/>
<path d="M823.3 615.9h3M848.8 615.9h-3" stroke="#111" stroke-width="1.6"/>
<path d="M823.3 533.4h3M848.8 533.4h-3" stroke="#111" stroke-width="1.6"/>
<path d="M823.3 451.0h3M848.8 451.0h-3" stroke="#111" stroke-width="1.6"/>
<rect x="900.7" y="342.9" width="75.8" height="339.3" fill="#fff" stroke="#111" stroke-width="2.2"/>
<path d="M906.5 365.3H946" stroke="#123c94" stroke-width="3" stroke-dasharray="2 8 12 8 2 20" fill="none"/>
<path d="M907 399.8H945.7" stroke="#e31d1c" stroke-width="3.7"/>
<path d="M907 429.4H945.7" stroke="#ec4a22" stroke-width="3.7"/>
<path d="M907 459.0H945.7" stroke="#f07e2a" stroke-width="3.7"/>
<path d="M907 488.6H945.7" stroke="#e2df2e" stroke-width="3.7"/>
<path d="M907 518.2H945.7" stroke="#a6c63a" stroke-width="3.7"/>
<path d="M907 547.8H945.7" stroke="#1b9641" stroke-width="3.7"/>
<path d="M907 577.4H945.7" stroke="#222e86" stroke-width="3.7"/>
<path d="M907 607.0H945.7" stroke="#1ca2d4" stroke-width="3.7"/>
<path d="M907 636.6H945.7" stroke="#2a3290" stroke-width="3.7"/>
<path d="M907 666.2H945.7" stroke="#9e1a5c" stroke-width="3.7"/>
<g font-family="Liberation Sans, sans-serif" fill="#151515" stroke="#151515" stroke-width="0.4">
<text x="113.3" y="256.0" font-size="24.0" text-anchor="end">80</text>
<text x="113.3" y="166.3" font-size="24.0" text-anchor="end">100</text>
<text x="113.3" y="76.6" font-size="24.0" text-anchor="end">120</text>
<text x="129.1" y="329.0" font-size="24.0" text-anchor="end">−4</text>
<text x="236.5" y="329.0" font-size="24.0" text-anchor="end">−2</text>
<text x="343.9" y="329.0" font-size="24.0" text-anchor="end">0</text>
<text x="451.3" y="329.0" font-size="24.0" text-anchor="end">2</text>
<text x="558.8" y="329.0" font-size="24.0" text-anchor="end">4</text>
<text x="624.1" y="329.0" font-size="24.0" text-anchor="end">0</text>
<text x="760.7" y="329.0" font-size="24.0" text-anchor="end">2</text>
<text x="897.2" y="329.0" font-size="24.0" text-anchor="end">4</text>
<text x="279.9" y="352.4" font-size="24.5" textLength="106.2" lengthAdjust="spacingAndGlyphs">Delay [fs]</text>
<text x="684.8" y="352.6" font-size="24.5" textLength="97.3" lengthAdjust="spacingAndGlyphs">Time [fs]</text>
<text x="894.6" y="55.1" font-size="23.5">10</text>
<text x="894.6" y="110.3" font-size="23.5">5</text>
<text x="894.6" y="165.6" font-size="23.5">0</text>
<text x="894.6" y="220.8" font-size="23.5">−5</text>
<text x="894.6" y="276.1" font-size="23.5">−10</text>
<text x="52.3" y="245.1" font-size="31.0" textLength="172.1" lengthAdjust="spacingAndGlyphs" transform="rotate(-90 52.3 245.1)">Energy (eV)</text>
<text x="960.5" y="216.3" font-size="27" transform="rotate(-90 960.5 216.3)" textLength="136.8" lengthAdjust="spacingAndGlyphs">E<tspan font-size="19" dy="8.5">x</tspan><tspan dy="-8.5"> (V/nm)</tspan></text>
<text x="142.8" y="63.3" font-size="32.0" textLength="41.6" lengthAdjust="spacingAndGlyphs">(a)</text>
<text x="593.8" y="62.2" font-size="32.0" textLength="43.0" lengthAdjust="spacingAndGlyphs">(b)</text>
<text x="114.9" y="423.3" font-size="31.0" textLength="39.2" lengthAdjust="spacingAndGlyphs">(c)</text>
<text x="90.6" y="706.7" font-size="20.3" text-anchor="end">70</text>
<text x="90.6" y="652.9" font-size="20.3" text-anchor="end">80</text>
<text x="90.6" y="599.1" font-size="20.3" text-anchor="end">90</text>
<text x="90.6" y="545.3" font-size="20.3" text-anchor="end">100</text>
<text x="90.6" y="491.5" font-size="20.3" text-anchor="end">110</text>
<text x="90.6" y="437.7" font-size="20.3" text-anchor="end">120</text>
<text x="90.6" y="383.9" font-size="20.3" text-anchor="end">130</text>
<text x="105.1" y="725.0" font-size="20.0" text-anchor="end">−4</text>
<text x="193.3" y="725.0" font-size="20.0" text-anchor="end">−3</text>
<text x="281.5" y="725.0" font-size="20.0" text-anchor="end">−2</text>
<text x="369.7" y="725.0" font-size="20.0" text-anchor="end">−1</text>
<text x="457.9" y="725.0" font-size="20.0" text-anchor="end">0</text>
<text x="546.1" y="725.0" font-size="20.0" text-anchor="end">1</text>
<text x="634.3" y="725.0" font-size="20.0" text-anchor="end">2</text>
<text x="722.5" y="725.0" font-size="20.0" text-anchor="end">3</text>
<text x="810.8" y="725.0" font-size="20.0" text-anchor="end">4</text>
<text x="405.8" y="748.2" font-size="20.0" textLength="85.4" lengthAdjust="spacingAndGlyphs">Delay [fs]</text>
<text x="43.6" y="593.9" font-size="22.0" textLength="104.7" lengthAdjust="spacingAndGlyphs" transform="rotate(-90 43.6 593.9)">Energy [eV]</text>
<text x="856.0" y="705.1" font-size="19.0">0</text>
<text x="856.0" y="622.7" font-size="19.0">50</text>
<text x="856.0" y="540.2" font-size="19.0">100</text>
<text x="856.0" y="457.8" font-size="19.0">150</text>
<text x="950.4" y="364.4" font-size="20.5" transform="translate(950.4 0) scale(0.82 1) translate(-950.4 0)">E</text>
<text x="963.8" y="374.9" font-size="15.5">x</text>
<text x="950.0" y="407.0" font-size="20.0">0</text>
<text x="950.0" y="436.6" font-size="20.0">10</text>
<text x="950.0" y="466.2" font-size="20.0">20</text>
<text x="950.0" y="495.8" font-size="20.0">30</text>
<text x="950.0" y="525.4" font-size="20.0">40</text>
<text x="950.0" y="555.0" font-size="20.0">50</text>
<text x="950.0" y="584.6" font-size="20.0">60</text>
<text x="950.0" y="614.2" font-size="20.0">70</text>
<text x="950.0" y="643.8" font-size="20.0">80</text>
<text x="950.0" y="673.4" font-size="20.0">90</text>
</g>
</svg>
</body></html>
